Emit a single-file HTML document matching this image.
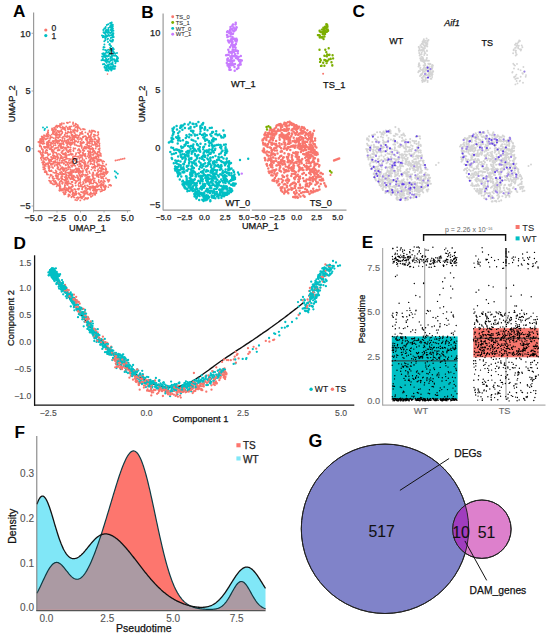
<!DOCTYPE html>
<html><head><meta charset="utf-8"><style>
html,body{margin:0;padding:0;background:#fff;}
svg{display:block;font-family:"Liberation Sans", sans-serif;}
</style></head><body>
<svg width="550" height="638" viewBox="0 0 550 638">
<rect width="550" height="638" fill="#fff"/>
<text x="12.9" y="16.7" font-size="17.2" text-anchor="start" fill="#000" font-weight="bold">A</text>
<line x1="33.6" y1="12.5" x2="33.6" y2="211" stroke="#9a9a9a" stroke-width="1.2"/>
<line x1="33" y1="210.6" x2="130.5" y2="210.6" stroke="#9a9a9a" stroke-width="1.2"/>
<text x="30.5" y="36.5" font-size="9.2" text-anchor="end" fill="#222" stroke="#222" stroke-width="0.25">10</text>
<line x1="31.5" y1="33.3" x2="33.6" y2="33.3" stroke="#9a9a9a" stroke-width="0.8"/>
<text x="30.5" y="94.2" font-size="9.2" text-anchor="end" fill="#222" stroke="#222" stroke-width="0.25">5</text>
<line x1="31.5" y1="91.0" x2="33.6" y2="91.0" stroke="#9a9a9a" stroke-width="0.8"/>
<text x="30.5" y="151.89999999999998" font-size="9.2" text-anchor="end" fill="#222" stroke="#222" stroke-width="0.25">0</text>
<line x1="31.5" y1="148.7" x2="33.6" y2="148.7" stroke="#9a9a9a" stroke-width="0.8"/>
<text x="30.5" y="209.2" font-size="9.2" text-anchor="end" fill="#222" stroke="#222" stroke-width="0.25">−5</text>
<line x1="31.5" y1="206.0" x2="33.6" y2="206.0" stroke="#9a9a9a" stroke-width="0.8"/>
<text x="33.5" y="220.9" font-size="9.2" text-anchor="middle" fill="#222" stroke="#222" stroke-width="0.25">−5.0</text>
<line x1="33.5" y1="210.6" x2="33.5" y2="212.5" stroke="#9a9a9a" stroke-width="0.8"/>
<text x="57" y="220.9" font-size="9.2" text-anchor="middle" fill="#222" stroke="#222" stroke-width="0.25">−2.5</text>
<line x1="57" y1="210.6" x2="57" y2="212.5" stroke="#9a9a9a" stroke-width="0.8"/>
<text x="80.5" y="220.9" font-size="9.2" text-anchor="middle" fill="#222" stroke="#222" stroke-width="0.25">0.0</text>
<line x1="80.5" y1="210.6" x2="80.5" y2="212.5" stroke="#9a9a9a" stroke-width="0.8"/>
<text x="104" y="220.9" font-size="9.2" text-anchor="middle" fill="#222" stroke="#222" stroke-width="0.25">2.5</text>
<line x1="104" y1="210.6" x2="104" y2="212.5" stroke="#9a9a9a" stroke-width="0.8"/>
<text x="127.5" y="220.9" font-size="9.2" text-anchor="middle" fill="#222" stroke="#222" stroke-width="0.25">5.0</text>
<line x1="127.5" y1="210.6" x2="127.5" y2="212.5" stroke="#9a9a9a" stroke-width="0.8"/>
<text x="87.4" y="231.0" font-size="9.2" text-anchor="middle" fill="#111" stroke="#111" stroke-width="0.25">UMAP_1</text>
<text x="15.4" y="103.8" font-size="9.2" text-anchor="middle" fill="#111" transform="rotate(-90 15.4 103.8)" stroke="#111" stroke-width="0.25">UMAP_2</text>
<path d="M84.2 193.5h0M95.3 139.4h0M96.9 159.0h0M60.5 143.7h0M57.0 157.1h0M75.3 165.9h0M54.0 134.2h0M72.5 195.1h0M84.5 162.7h0M74.8 141.2h0M89.1 137.4h0M75.7 189.5h0M85.3 181.0h0M44.9 164.9h0M75.6 191.4h0M64.8 169.5h0M42.6 152.5h0M62.0 133.4h0M98.3 151.8h0M82.7 172.7h0M88.0 133.4h0M70.6 140.6h0M67.8 129.1h0M87.6 145.5h0M102.5 174.6h0M80.1 133.0h0M78.9 135.8h0M103.3 172.9h0M80.1 151.6h0M68.4 140.6h0M72.6 165.4h0M61.9 181.8h0M40.1 151.3h0M69.7 163.5h0M81.6 176.3h0M64.4 163.1h0M94.5 194.5h0M97.9 132.3h0M69.0 186.9h0M96.6 162.6h0M91.6 139.5h0M52.8 150.5h0M51.4 149.2h0M63.2 143.2h0M76.6 193.5h0M92.9 168.0h0M69.6 192.0h0M68.5 195.6h0M43.3 155.9h0M76.4 197.9h0M56.7 186.2h0M88.0 179.0h0M84.5 199.5h0M62.7 153.4h0M82.6 159.9h0M82.0 174.4h0M72.5 171.9h0M85.0 136.1h0M42.8 154.4h0M94.4 186.9h0M91.9 130.4h0M105.4 185.9h0M102.8 163.4h0M56.8 141.3h0M52.0 166.9h0M50.4 175.9h0M39.8 146.3h0M97.9 174.3h0M83.2 136.7h0M63.1 146.9h0M46.5 171.7h0M96.9 146.6h0M101.7 185.5h0M80.4 172.7h0M83.0 129.0h0M86.9 172.2h0M98.8 186.0h0M62.3 179.4h0M86.1 138.6h0M79.7 197.4h0M66.1 141.6h0M71.8 174.2h0M45.6 151.9h0M48.0 174.6h0M99.3 151.6h0M65.6 164.7h0M54.0 141.2h0M62.5 158.1h0M80.8 145.4h0M47.8 132.0h0M60.8 188.3h0M83.8 136.4h0M70.2 192.5h0M65.8 178.5h0M95.3 187.8h0M87.8 151.1h0M42.9 163.1h0M93.9 136.7h0M57.8 164.5h0M93.3 193.5h0M47.5 136.1h0M97.0 173.2h0M95.4 153.1h0M85.4 136.1h0M94.1 182.3h0M91.3 157.1h0M66.0 155.1h0M78.1 152.5h0M78.5 179.4h0M66.3 188.2h0M90.7 187.7h0M46.8 135.5h0M80.5 157.2h0M93.4 136.6h0M73.0 123.9h0M61.3 146.4h0M91.2 157.9h0M56.3 153.0h0M54.9 131.4h0M47.3 135.5h0M101.5 160.3h0M51.7 175.2h0M57.8 163.7h0M59.0 162.9h0M84.5 164.5h0M67.3 185.0h0M48.2 130.4h0M53.5 162.1h0M74.8 195.0h0M41.2 146.7h0M55.6 158.7h0M103.0 182.6h0M99.2 182.6h0M90.3 189.7h0M88.4 180.5h0M60.4 134.8h0M93.9 134.6h0M105.9 169.3h0M49.6 162.7h0M80.5 186.0h0M58.9 185.8h0M89.9 173.1h0M68.8 177.0h0M99.7 148.3h0M87.5 138.1h0M78.8 183.2h0M72.7 154.2h0M91.2 163.4h0M79.6 166.2h0M71.5 172.1h0M78.7 127.3h0M81.9 139.2h0M52.8 157.9h0M93.4 178.2h0M78.9 186.3h0M72.5 171.2h0M98.5 175.9h0M85.4 154.0h0M79.3 153.2h0M93.0 151.9h0M72.5 182.1h0M75.3 148.5h0M99.1 152.0h0M100.4 184.5h0M71.1 178.7h0M40.7 152.7h0M101.5 168.0h0M79.3 174.8h0M88.1 168.3h0M69.2 136.1h0M59.7 144.9h0M64.1 157.3h0M65.6 168.1h0M66.0 142.8h0M103.3 161.1h0M74.6 137.2h0M69.1 188.0h0M99.1 159.4h0M94.7 158.2h0M65.7 165.2h0M53.0 146.8h0M90.2 183.3h0M98.4 157.1h0M56.3 173.1h0M65.9 172.6h0M57.2 159.7h0M76.8 172.1h0M59.5 145.9h0M57.1 126.7h0M69.3 183.4h0M90.4 137.0h0M48.3 147.2h0M94.7 160.6h0M106.1 174.1h0M83.9 183.1h0M93.4 149.0h0M57.1 156.5h0M74.2 132.7h0M70.7 172.8h0M48.2 132.4h0M51.0 144.1h0M51.7 134.6h0M73.1 122.5h0M71.9 134.4h0M58.0 185.1h0M51.7 171.0h0M68.1 154.9h0M98.3 134.3h0M87.0 169.6h0M95.0 138.5h0M46.6 146.7h0M83.2 174.9h0M88.1 167.2h0M62.9 162.6h0M89.3 155.2h0M100.9 182.1h0M63.0 127.5h0M47.9 136.1h0M60.6 157.3h0M104.3 176.1h0M56.3 132.8h0M97.0 176.5h0M53.8 142.8h0M89.9 131.7h0M76.2 124.1h0M78.7 189.5h0M44.4 143.4h0M94.5 170.3h0M61.2 171.9h0M71.7 190.7h0M59.8 182.3h0M85.0 180.9h0M66.0 179.7h0M89.6 152.5h0M90.7 137.8h0M92.0 143.7h0M72.7 190.5h0M71.2 144.5h0M60.7 127.5h0M54.4 143.1h0M72.5 138.6h0M92.6 195.6h0M58.3 167.4h0M75.5 127.3h0M73.1 186.1h0M101.9 191.1h0M65.4 182.5h0M43.6 142.6h0M98.0 159.1h0M61.7 124.7h0M67.1 133.6h0M44.2 167.0h0M85.8 147.4h0M80.2 181.9h0M81.6 185.9h0M78.7 137.3h0M81.1 160.8h0M50.4 171.1h0M98.3 132.2h0M78.3 180.4h0M67.9 143.0h0M65.6 164.9h0M88.7 166.3h0M56.6 135.3h0M41.5 148.1h0M52.4 159.1h0M50.8 160.5h0M76.8 181.3h0M70.4 132.7h0M93.5 130.7h0M97.7 146.3h0M71.7 174.6h0M75.6 134.6h0M48.4 144.2h0M42.1 138.7h0M47.8 158.7h0M64.4 168.5h0M62.6 182.1h0M57.0 153.9h0M93.8 154.0h0M61.1 180.5h0M56.8 132.5h0M70.4 169.8h0M90.6 159.6h0M89.4 131.7h0M45.0 148.0h0M105.8 170.5h0M43.1 167.1h0M72.0 166.7h0M92.5 175.9h0M98.0 154.4h0M95.9 193.1h0M71.5 197.2h0M65.8 182.2h0M72.9 157.4h0M66.6 156.1h0M93.7 166.7h0M87.7 185.9h0M55.1 140.1h0M58.7 145.8h0M94.2 151.4h0M62.0 172.5h0M51.9 129.9h0M89.5 182.2h0M60.0 172.5h0M40.7 153.8h0M80.7 141.7h0M63.8 170.4h0M81.6 133.7h0M56.9 137.4h0M76.6 169.7h0M89.9 148.3h0M43.8 137.6h0M62.7 127.0h0M70.2 137.8h0M104.3 172.5h0M45.1 146.9h0M40.3 138.9h0M84.8 129.4h0M62.9 148.1h0M88.0 165.3h0M83.7 129.4h0M57.4 168.3h0M108.3 187.1h0M85.4 163.1h0M89.2 186.7h0M96.1 157.7h0M67.8 146.4h0M70.8 137.4h0M90.6 161.8h0M61.5 143.9h0M42.2 162.5h0M75.3 156.3h0M47.4 133.5h0M68.2 188.4h0M84.1 180.1h0M80.6 138.2h0M89.6 136.9h0M77.9 125.9h0M69.8 174.5h0M42.4 141.6h0M66.3 161.8h0M60.0 174.2h0M72.5 190.5h0M59.5 186.0h0M59.3 179.3h0M62.8 169.8h0M97.6 164.9h0M66.1 149.5h0M43.3 142.1h0M84.1 129.2h0M87.5 198.8h0M97.6 135.6h0M84.0 163.3h0M53.0 163.1h0M59.6 131.4h0M39.2 142.5h0M48.1 136.5h0M81.1 155.3h0M69.8 137.9h0M87.1 144.6h0M67.6 158.6h0M91.1 146.2h0M75.4 191.9h0M40.3 145.5h0M50.1 138.5h0M44.6 159.3h0M81.8 146.9h0M97.4 166.5h0M48.3 164.9h0M84.5 155.8h0M75.8 130.5h0M79.7 183.0h0M92.0 142.0h0M69.4 154.7h0M95.6 135.4h0M85.3 179.2h0M76.2 191.6h0M72.7 158.7h0M61.5 177.3h0M68.3 196.6h0M43.6 161.3h0M51.8 150.9h0M60.6 169.8h0M62.4 167.2h0M38.6 151.3h0M102.2 173.8h0M59.8 183.9h0M93.4 157.5h0M49.1 162.6h0M60.1 165.5h0M92.9 190.3h0M102.5 168.2h0M103.6 184.7h0M90.9 137.2h0M57.8 147.4h0M81.7 171.8h0M52.4 150.4h0M98.4 165.6h0M75.9 182.5h0M86.4 144.6h0M44.6 158.5h0M103.0 169.5h0M42.1 156.7h0M66.5 168.2h0M81.4 197.9h0M63.1 154.2h0M83.4 192.7h0M90.2 159.2h0M98.2 160.4h0M60.1 189.5h0M83.1 162.3h0M73.5 131.4h0M74.9 141.2h0M68.2 172.8h0M105.6 185.8h0M50.1 159.7h0M44.6 162.4h0M57.5 166.1h0M44.4 137.9h0M89.9 195.1h0M101.7 189.1h0M64.6 129.3h0M91.7 132.3h0M79.4 163.3h0M65.0 147.6h0M103.7 169.4h0M87.6 180.3h0M75.0 125.3h0M75.3 180.6h0M86.6 170.9h0M41.6 140.4h0M77.4 125.3h0M68.4 165.3h0M91.1 196.8h0M92.4 149.3h0M95.2 135.5h0M72.1 163.4h0M88.8 152.9h0M90.8 158.9h0M68.6 150.7h0M74.5 143.9h0M56.0 133.3h0M70.6 144.9h0M99.8 189.6h0M63.5 171.1h0M79.0 157.0h0M86.1 198.6h0M87.2 185.4h0M84.9 191.4h0M62.2 178.3h0M57.6 162.2h0M88.4 137.5h0M97.7 174.9h0M61.9 174.3h0M80.6 171.0h0M71.1 139.4h0M91.6 158.7h0M93.1 150.6h0M44.7 165.0h0M84.0 195.5h0M95.0 142.3h0M89.5 151.8h0M61.9 160.6h0M77.2 177.2h0M85.1 175.9h0M66.5 175.8h0M63.6 170.2h0M72.0 166.6h0M54.4 152.4h0M45.9 171.2h0M47.2 150.4h0M74.6 130.8h0M61.7 143.5h0M64.9 185.0h0M48.5 168.0h0M70.0 144.5h0M98.7 181.4h0M48.1 144.8h0M83.2 191.5h0M85.7 139.1h0M65.5 171.5h0M67.3 123.1h0M89.5 157.0h0M96.9 140.1h0M86.7 175.5h0M72.4 136.5h0M67.9 181.3h0M52.1 128.5h0M72.3 140.2h0M97.1 187.1h0M85.9 136.4h0M98.8 179.9h0M93.2 177.4h0M99.3 145.3h0M87.7 162.9h0M63.1 147.6h0M49.6 160.9h0M65.3 155.2h0M100.9 176.2h0M54.2 162.2h0M45.0 152.9h0M94.0 191.0h0M75.7 185.5h0M70.7 149.7h0M75.4 137.0h0M60.8 145.9h0M101.0 173.4h0M69.7 137.2h0M63.9 154.1h0M106.2 164.5h0M49.0 165.9h0M52.2 129.5h0M86.2 158.4h0M57.1 184.1h0M74.2 164.4h0M71.8 175.7h0M111.1 185.5h0M43.3 161.1h0M55.4 129.5h0M52.6 141.3h0M108.8 181.3h0M101.0 177.6h0M61.4 152.8h0M70.6 144.9h0M69.2 183.4h0M43.8 143.6h0M73.5 175.7h0M85.7 179.7h0M45.9 135.9h0M60.9 144.0h0M60.1 185.9h0M106.2 169.2h0M63.9 149.9h0M84.8 190.9h0M63.3 136.7h0M100.8 171.6h0M65.1 185.4h0M67.7 172.6h0M88.8 157.7h0M72.5 179.0h0M77.6 127.8h0M55.6 126.4h0M52.2 137.4h0M68.7 147.2h0M64.9 187.1h0M97.7 164.3h0M70.5 142.8h0M78.1 139.1h0M101.4 187.6h0M61.9 123.3h0M86.5 190.4h0M97.0 190.7h0M74.2 189.1h0M72.1 142.5h0M73.6 148.3h0M94.7 188.3h0M48.6 134.5h0M66.4 158.6h0M109.4 180.0h0M88.0 143.1h0M99.5 143.5h0M44.0 146.7h0M62.0 179.6h0M104.2 190.1h0M84.5 166.3h0M94.2 162.6h0M50.1 138.7h0M66.1 148.0h0M42.7 154.0h0M71.2 144.4h0M66.5 148.1h0M65.9 171.1h0M74.8 137.2h0M96.7 162.6h0M71.9 178.7h0M93.6 189.6h0M97.9 175.2h0M91.3 133.9h0M89.7 141.8h0M57.2 131.0h0M67.4 122.9h0M86.6 181.5h0M95.3 131.7h0M85.4 188.8h0M57.9 158.5h0M50.9 164.7h0M63.5 174.0h0M77.3 176.5h0M56.3 178.2h0M92.3 179.4h0M80.7 143.2h0M70.2 163.0h0M76.3 141.3h0M57.7 150.6h0M95.7 156.5h0M41.0 157.7h0M77.8 150.1h0M69.0 151.4h0M50.5 174.6h0M95.8 182.5h0M55.1 162.7h0M89.9 152.4h0M71.3 189.0h0M39.9 142.9h0M68.9 173.6h0M52.7 178.0h0M53.0 180.2h0M45.0 168.5h0M74.9 159.9h0M95.7 158.6h0M74.8 160.5h0M71.7 154.0h0M50.0 145.1h0M57.7 141.3h0M53.3 163.7h0M61.2 140.6h0M65.7 161.7h0M101.0 155.9h0M71.4 154.8h0M43.3 137.8h0M86.9 168.8h0M68.3 169.3h0M45.8 153.0h0M104.7 187.9h0M71.5 126.4h0M62.2 137.7h0M88.8 151.1h0M100.1 185.4h0M62.2 189.5h0M106.6 171.2h0M64.1 193.8h0M87.1 140.0h0M79.9 146.1h0M54.3 158.2h0M59.9 187.4h0M81.8 166.0h0M89.3 146.0h0M66.5 140.7h0M59.7 135.4h0M64.7 177.1h0M74.3 143.9h0M63.3 167.9h0M92.2 186.2h0M58.7 163.3h0M54.0 128.0h0M70.5 179.2h0M59.7 188.3h0M104.0 180.6h0M62.7 158.6h0M99.6 150.1h0M97.5 184.3h0M72.7 193.5h0M66.5 181.7h0M85.3 148.0h0M77.3 170.1h0M77.7 130.2h0M77.3 131.4h0M98.6 156.2h0M90.7 187.9h0M77.8 125.3h0M98.7 177.2h0M96.0 191.6h0M64.3 154.3h0M55.2 148.0h0M69.6 167.0h0M59.1 150.3h0M93.6 159.1h0M82.1 155.3h0M79.2 193.5h0M57.9 163.1h0M56.3 182.5h0M98.2 172.1h0M77.0 181.1h0M105.7 172.9h0M82.5 152.6h0M80.3 166.0h0M104.8 187.9h0M92.5 195.7h0M72.3 181.8h0M60.0 158.9h0M59.6 160.6h0M98.8 141.0h0M60.5 165.9h0M86.3 192.1h0M93.1 172.4h0M66.6 183.8h0M50.4 182.8h0M60.7 168.4h0M74.8 133.0h0M93.7 181.0h0M48.9 142.2h0M102.2 161.7h0M65.2 157.1h0M51.2 161.2h0M55.2 134.3h0M66.2 126.4h0M72.8 177.3h0M103.4 172.3h0M97.0 144.2h0M77.0 200.2h0M82.3 162.1h0M96.1 146.4h0M55.7 135.6h0M40.0 145.3h0M80.5 177.9h0M95.2 152.2h0M55.2 161.0h0M107.5 180.0h0M79.7 163.3h0M89.2 171.7h0M63.0 128.8h0M53.0 184.3h0M84.9 185.5h0M82.0 165.4h0M98.4 171.6h0M87.8 134.0h0M82.7 150.0h0M73.5 142.4h0M94.5 131.2h0M61.2 162.3h0M53.7 138.1h0M67.8 184.9h0M64.7 140.1h0M51.7 147.3h0M96.0 175.0h0M92.3 175.5h0M61.3 190.6h0M53.7 155.7h0M46.7 173.3h0M44.6 135.7h0M94.6 161.6h0M86.9 180.4h0M82.8 137.2h0M89.6 130.6h0M58.1 157.4h0M86.2 181.0h0M65.5 152.7h0M53.5 163.3h0M80.9 196.5h0M91.6 187.7h0M86.1 144.6h0M84.0 191.9h0M46.1 159.9h0M93.1 177.0h0M47.5 163.6h0M88.9 148.3h0M75.3 199.9h0M85.0 161.7h0M100.8 181.1h0M99.7 167.8h0M80.6 164.0h0M92.3 147.9h0M74.8 159.1h0M86.9 138.7h0M91.0 181.7h0M70.9 129.6h0M72.4 190.8h0M75.7 172.2h0M65.7 133.4h0M84.3 160.3h0M63.6 142.1h0M89.4 146.9h0M80.6 142.2h0M93.7 151.5h0M73.4 196.0h0M91.1 180.6h0M63.2 188.9h0M104.1 174.4h0M99.4 165.1h0M92.2 131.3h0M111.0 185.7h0M48.7 140.8h0M80.5 182.7h0M93.6 160.4h0M64.9 129.1h0M44.7 172.0h0M95.1 194.4h0M101.6 177.9h0M89.9 189.0h0M77.7 162.1h0M65.2 191.0h0M95.0 143.5h0M51.7 137.2h0M80.4 143.8h0M56.0 129.2h0M62.1 183.6h0M50.7 182.8h0M71.4 135.0h0M73.6 195.6h0M54.8 165.1h0M89.4 160.1h0M64.1 141.2h0M60.0 125.3h0M96.3 153.9h0M82.0 139.1h0M87.4 178.3h0M92.3 160.9h0M80.3 176.2h0M85.7 193.3h0M46.0 164.0h0M46.3 136.6h0M66.4 136.7h0M63.0 190.2h0M88.8 177.9h0M87.1 181.3h0M93.3 178.8h0M95.1 170.5h0M77.5 128.6h0M93.3 148.7h0M74.6 129.3h0M95.6 166.4h0M88.4 148.4h0M92.3 144.8h0M69.4 172.5h0M41.6 139.3h0M54.5 161.4h0M62.4 140.3h0M86.1 178.0h0M98.6 142.5h0M44.0 158.9h0M105.9 171.7h0M68.7 132.3h0M94.2 164.2h0M99.0 164.1h0M60.3 173.8h0M49.3 171.0h0M90.9 148.9h0M89.5 184.1h0M99.7 170.9h0M100.5 174.3h0M41.4 142.8h0M66.8 141.6h0M94.2 139.3h0M94.3 157.4h0M48.2 143.0h0M110.4 185.0h0M65.9 179.3h0M59.9 131.8h0M39.6 145.1h0M88.5 181.5h0M52.5 149.8h0M70.8 183.8h0M60.0 174.0h0M66.9 158.7h0M72.2 143.7h0M89.4 189.0h0M49.5 140.4h0M82.1 196.7h0M72.9 137.5h0M82.0 198.4h0M68.4 142.4h0M102.3 184.7h0M59.3 140.6h0M65.2 191.7h0M66.3 157.4h0M79.9 139.1h0M57.9 142.8h0M57.3 162.8h0M51.1 157.0h0M85.4 132.4h0M68.3 166.6h0M78.7 193.1h0M99.5 165.6h0M88.1 134.2h0M72.9 177.6h0M96.9 186.2h0M80.0 175.1h0M100.9 153.9h0M97.7 151.9h0M77.1 135.2h0M94.1 193.0h0M50.0 181.3h0M95.7 148.5h0M76.0 137.0h0M82.9 153.3h0M97.6 174.9h0M91.3 141.5h0M107.1 173.1h0M106.0 178.2h0M82.8 155.0h0M64.4 160.7h0M54.6 155.7h0M75.6 123.8h0M67.2 144.2h0M84.9 186.6h0M83.4 174.7h0M83.4 141.9h0M65.9 189.3h0M101.5 170.2h0M98.3 169.1h0M70.9 175.3h0M54.1 178.8h0M57.5 178.5h0M97.4 155.4h0M107.6 171.9h0M84.5 155.9h0M90.1 140.9h0M87.3 177.2h0M77.9 142.2h0M43.7 141.2h0M76.4 168.5h0M102.8 190.1h0M71.3 132.7h0M84.0 142.6h0M98.3 137.5h0M69.2 139.0h0M101.5 171.2h0M84.6 146.6h0M94.5 180.4h0M51.3 170.4h0M59.3 162.6h0M72.0 166.7h0M106.0 186.5h0M68.8 187.1h0M101.5 183.6h0M78.8 193.7h0M74.4 129.8h0M58.2 174.2h0M66.1 155.3h0M67.8 136.8h0M87.7 147.4h0M71.8 196.6h0M84.3 186.6h0M43.1 152.2h0M68.5 162.2h0M56.4 140.1h0M76.4 158.9h0M82.8 184.2h0M73.5 170.7h0M74.4 139.2h0M61.9 156.7h0M71.1 165.4h0M73.1 123.9h0M73.3 178.2h0M62.7 151.1h0M76.2 194.5h0M62.4 128.2h0M61.3 130.9h0M82.1 189.3h0M82.3 133.5h0M68.1 142.8h0M72.0 132.1h0M98.3 141.7h0M52.2 163.6h0M81.1 192.0h0M63.4 168.4h0M47.3 163.1h0M47.2 145.6h0M61.0 178.1h0M86.5 175.5h0M90.5 179.3h0M87.0 165.8h0M53.8 181.0h0M52.4 164.0h0M57.4 156.0h0M99.6 174.5h0M71.0 143.3h0M97.4 174.2h0M70.6 191.3h0M87.1 193.7h0M78.7 178.5h0M73.1 170.1h0M90.9 196.7h0M65.6 159.1h0M99.6 155.2h0M63.1 143.6h0M53.9 156.0h0M88.3 145.8h0M52.8 141.1h0M101.9 167.0h0M55.5 138.1h0M86.4 172.0h0M61.6 148.2h0M72.3 194.6h0M77.8 188.9h0M85.4 166.6h0M74.2 176.1h0M74.4 179.7h0M51.6 147.2h0M80.8 129.5h0M93.9 174.9h0M59.6 190.8h0M73.7 125.9h0M43.2 139.7h0M83.1 186.9h0M84.0 154.3h0M70.7 187.4h0M49.3 168.6h0M76.1 153.2h0M68.1 142.9h0M58.1 140.5h0M45.8 165.9h0M71.0 178.7h0M85.3 198.0h0M63.2 192.3h0M66.5 174.5h0M97.4 153.2h0M71.0 172.1h0M46.4 164.1h0M45.2 139.4h0M84.1 199.6h0M49.0 163.0h0M70.7 151.8h0M94.8 178.4h0M79.6 171.3h0M81.0 175.8h0M45.9 157.7h0M95.7 145.0h0M53.2 153.5h0M43.4 155.5h0M61.7 151.9h0M97.2 166.4h0M41.9 138.8h0M83.2 137.3h0M56.5 171.4h0M74.6 143.0h0M79.4 172.3h0M41.1 143.3h0M42.0 149.2h0M52.5 177.3h0M101.7 177.3h0M59.8 184.8h0M43.7 158.0h0M75.4 193.5h0M99.8 165.3h0M42.0 155.9h0M88.3 153.9h0M65.1 183.1h0M87.6 156.3h0M90.5 153.3h0M48.7 154.9h0M70.5 187.7h0M53.2 161.6h0M104.6 175.6h0M81.6 168.1h0M82.5 158.7h0M64.7 140.5h0M43.0 151.0h0M94.9 165.8h0M86.2 166.1h0M68.6 187.7h0M76.5 145.2h0M67.8 164.5h0M92.6 164.2h0M88.8 180.7h0M53.0 151.4h0M65.0 193.4h0M76.8 126.7h0M90.8 161.4h0M47.1 163.9h0M51.7 175.1h0M86.3 147.1h0M41.1 141.8h0M62.2 168.3h0M65.4 130.3h0M80.2 179.6h0M90.1 160.7h0M77.4 171.9h0M91.1 193.7h0M88.2 198.0h0M82.0 168.2h0M43.4 169.3h0M55.9 152.6h0M85.1 179.7h0M50.9 145.8h0M66.9 162.7h0M70.8 159.2h0M69.4 177.8h0M58.5 134.7h0M70.2 128.4h0M71.1 161.1h0M67.4 184.1h0M63.1 188.6h0M66.6 183.0h0M77.0 175.5h0M78.4 189.4h0M69.9 122.1h0M58.3 169.2h0M67.7 139.6h0M78.9 149.0h0M96.9 141.7h0M73.5 172.0h0M61.4 130.0h0M74.3 156.5h0M104.7 166.3h0M64.1 179.8h0M55.4 182.3h0M93.5 188.0h0M73.9 139.2h0M84.7 194.6h0M66.4 177.0h0M90.2 156.2h0M92.1 158.4h0M78.1 146.0h0M57.8 143.5h0M45.7 172.0h0M77.8 125.9h0M63.9 170.5h0M97.0 161.9h0M75.6 135.0h0M80.2 180.1h0M40.9 154.1h0M85.5 156.6h0M65.3 192.4h0M83.0 171.3h0M69.4 175.4h0M56.1 142.0h0M66.6 181.2h0M62.5 150.8h0M58.5 147.9h0M54.2 181.9h0M99.0 139.4h0M53.4 140.9h0M48.3 155.2h0M75.2 171.9h0M42.3 136.8h0M46.8 143.0h0M65.7 132.5h0M96.7 173.5h0M66.0 153.8h0M60.4 186.2h0M97.3 160.7h0M101.6 173.8h0M88.7 142.9h0M56.0 139.6h0M105.4 185.7h0M104.4 187.5h0M97.4 156.4h0M94.5 134.7h0M79.9 155.1h0M83.7 192.7h0M91.4 138.3h0M79.0 166.5h0M64.7 135.6h0M55.7 175.7h0M85.8 182.6h0M87.7 174.2h0M50.1 135.8h0M75.7 168.5h0M93.8 144.9h0M107.8 171.9h0M100.3 159.7h0M85.3 155.6h0M70.6 147.5h0M51.3 159.4h0M95.1 168.0h0M72.5 186.7h0M60.4 155.3h0M73.5 159.0h0M63.7 144.5h0M86.3 137.3h0M67.7 179.1h0M92.2 152.5h0M56.4 164.8h0M60.0 187.4h0M81.7 146.0h0M97.6 170.2h0M47.9 154.6h0M74.2 197.4h0M61.8 157.4h0M67.2 136.1h0M103.3 165.8h0M54.3 128.7h0M69.2 129.1h0M73.9 180.0h0M61.0 134.8h0M64.8 134.7h0M92.7 148.2h0M91.8 183.4h0M85.7 147.3h0M51.0 181.2h0M98.6 137.9h0M46.5 149.7h0M84.3 150.7h0M109.2 185.0h0M105.6 169.6h0M55.3 181.0h0M62.7 173.7h0M88.2 194.5h0M88.9 136.0h0M104.9 181.4h0M76.2 172.0h0M91.9 167.1h0M64.9 189.8h0M65.4 194.0h0M97.0 185.1h0M66.0 180.3h0M72.4 184.7h0M76.3 162.6h0M76.7 161.9h0M77.9 178.2h0M87.6 192.1h0M53.0 131.3h0M97.8 142.4h0M85.7 164.4h0M93.2 186.3h0M94.8 152.2h0M69.1 160.6h0M89.6 176.7h0M89.2 171.5h0M75.6 183.0h0M67.3 142.4h0M105.1 189.4h0M91.0 134.8h0M67.2 178.0h0M64.8 186.3h0M88.8 151.6h0M51.0 149.4h0M73.7 193.4h0M79.2 170.4h0M64.2 188.2h0M79.2 169.0h0M56.6 183.8h0M54.0 132.3h0M82.2 188.3h0M59.8 145.6h0M49.2 169.9h0M94.9 131.4h0M77.6 164.7h0M46.1 164.0h0M58.2 137.3h0M63.5 171.1h0M68.0 122.7h0M68.5 194.4h0M68.5 181.2h0M86.6 140.5h0M54.0 132.3h0M62.4 138.3h0M108.3 181.7h0M57.6 162.3h0M50.1 154.1h0M81.9 143.2h0M47.4 147.7h0M40.1 152.2h0M67.8 164.2h0M62.0 141.4h0M96.0 143.8h0M62.6 160.8h0M58.4 179.8h0M44.4 147.3h0M69.2 142.1h0M69.2 159.0h0M99.3 138.9h0M57.8 134.9h0M96.3 146.5h0M54.9 127.6h0M83.4 196.7h0M103.1 168.7h0M86.8 198.3h0M88.9 177.4h0M89.8 131.4h0M56.8 126.6h0M82.7 133.9h0M47.4 157.2h0M67.0 137.1h0M61.0 145.5h0M78.1 170.0h0M68.4 191.0h0M67.0 145.7h0M94.6 189.1h0M52.7 158.5h0M84.1 147.6h0M79.4 175.6h0M97.8 186.8h0M66.6 143.1h0M59.0 132.4h0M97.3 189.6h0M80.1 152.2h0M80.8 184.7h0M103.1 182.2h0M74.0 135.7h0M89.5 188.2h0M46.6 172.5h0M83.4 142.7h0M60.3 155.0h0M47.8 147.9h0M48.0 142.0h0M80.8 145.4h0M87.3 193.8h0M63.7 163.7h0M83.7 148.8h0M70.6 171.8h0M71.8 144.1h0M68.4 152.3h0M59.7 169.7h0M75.9 154.4h0M90.4 186.7h0M86.0 148.8h0M97.5 155.2h0M67.4 189.2h0M75.2 183.1h0M44.3 165.0h0M46.8 144.6h0M63.5 144.3h0M70.0 188.4h0M76.3 168.7h0M85.3 174.6h0M70.7 131.5h0M60.0 137.1h0M61.2 158.0h0M61.1 148.3h0M74.0 176.3h0M69.9 195.6h0M68.5 189.4h0M64.8 148.0h0M71.5 182.0h0M73.3 150.7h0M89.6 143.6h0M90.6 154.8h0M73.4 136.5h0M80.6 155.3h0M95.2 194.7h0M57.6 141.6h0M74.6 169.9h0M70.4 178.8h0M55.7 170.4h0M68.4 146.7h0M75.3 177.4h0M98.5 149.2h0M103.3 178.5h0M56.4 176.2h0M89.3 194.4h0M52.6 167.6h0M69.4 127.9h0M53.1 167.9h0M67.8 182.8h0M72.6 192.0h0M94.0 161.1h0M64.5 138.5h0M59.7 149.9h0M64.8 135.7h0M73.0 130.3h0M102.1 165.6h0M45.2 147.7h0M57.0 133.9h0M73.6 136.1h0M49.4 177.8h0M69.8 175.4h0M72.8 161.9h0M61.1 155.6h0M73.6 148.9h0M99.0 141.1h0M54.4 149.0h0M96.0 189.5h0M79.8 150.3h0M86.0 187.8h0M56.1 175.0h0M90.4 152.7h0M48.9 170.2h0M53.7 150.9h0M78.3 198.8h0M77.9 197.2h0M47.0 174.4h0M64.8 174.0h0M57.2 127.3h0M51.6 143.4h0M50.3 137.3h0M78.3 156.5h0M98.9 161.4h0M77.9 178.5h0M101.0 168.4h0M40.9 158.3h0M43.0 164.7h0M90.0 143.5h0M81.8 147.9h0M57.3 142.2h0M43.5 137.2h0M77.2 158.9h0M81.1 186.4h0M84.1 162.6h0M61.2 162.9h0M73.3 192.8h0M48.3 166.5h0M79.0 149.8h0M63.5 153.8h0M57.7 150.1h0M50.2 148.3h0M83.4 129.4h0M55.4 129.9h0M86.4 178.2h0M104.1 161.6h0M61.2 146.9h0M53.3 172.4h0M66.7 149.6h0M44.1 169.2h0M91.7 193.8h0M93.3 173.3h0M52.5 143.6h0M77.3 138.5h0M94.5 167.4h0M107.8 179.8h0M45.6 151.3h0M80.6 194.7h0M65.5 136.4h0M59.1 141.3h0M49.6 149.0h0M56.5 162.4h0M49.9 167.1h0M87.8 133.6h0M77.3 137.4h0M65.0 147.4h0M98.2 140.1h0M78.0 168.4h0M62.6 147.6h0M89.2 160.6h0M91.5 133.6h0M49.1 180.6h0M66.8 190.3h0M55.4 140.6h0M46.3 139.0h0M94.8 142.7h0M79.1 188.5h0M83.1 181.9h0M102.7 165.7h0M53.0 131.9h0M62.3 132.4h0M95.0 166.2h0M82.1 157.0h0M48.6 159.1h0M105.7 168.3h0M72.0 170.3h0M78.7 171.5h0M52.8 133.3h0M38.4 141.9h0M81.3 161.5h0M46.6 134.2h0M74.8 144.7h0M71.7 176.7h0M61.9 174.8h0M80.3 200.4h0M55.5 145.3h0M71.2 162.3h0M98.5 157.3h0M53.8 145.1h0M48.3 145.7h0M82.4 142.8h0M69.4 126.8h0M39.4 151.5h0M92.2 154.9h0M75.1 141.2h0M56.8 125.6h0M71.9 162.5h0M59.9 134.3h0M60.0 181.8h0M51.1 163.8h0M77.8 161.6h0M78.4 184.9h0M70.6 153.9h0M77.8 171.6h0M90.0 193.6h0M87.1 143.0h0M57.9 130.9h0M88.5 176.8h0M83.2 152.1h0M72.3 142.2h0M61.8 167.4h0M73.6 151.1h0M42.8 143.9h0M81.6 143.9h0M60.6 189.4h0M89.1 179.4h0M103.7 186.5h0M62.4 167.1h0M57.3 137.5h0M53.4 130.2h0M55.8 139.4h0M87.7 141.5h0M41.6 155.2h0M53.0 176.8h0M54.5 166.1h0M51.2 160.1h0M77.0 156.6h0M88.7 154.5h0M73.8 165.4h0M64.9 159.6h0M81.5 132.7h0M78.2 177.1h0M92.2 139.4h0M70.6 145.3h0M66.7 150.5h0M43.9 137.9h0M59.3 190.3h0M66.9 122.6h0M84.3 193.7h0M74.5 194.4h0M74.9 140.8h0M70.5 126.6h0M64.7 154.2h0M73.1 156.5h0M65.9 192.2h0M47.8 138.2h0M59.0 126.3h0M100.3 160.6h0M82.5 192.6h0M74.6 143.5h0M77.3 161.6h0M60.2 140.0h0M64.5 180.5h0M55.5 143.2h0M47.2 152.8h0M65.6 176.2h0M97.8 146.1h0M68.1 131.6h0M89.5 139.5h0M71.4 175.5h0M50.8 163.7h0M72.6 136.1h0M48.7 160.7h0M71.8 173.1h0M101.3 178.2h0M63.0 160.4h0M87.8 188.8h0M88.5 161.8h0M58.9 153.9h0M44.6 162.6h0M96.7 153.7h0M100.2 153.2h0M59.1 131.2h0M92.6 159.1h0M86.5 140.5h0M44.0 147.0h0M102.2 189.9h0M79.6 128.2h0M69.9 167.7h0M57.2 155.3h0M65.2 128.1h0M46.7 147.0h0M94.7 141.7h0M100.9 187.2h0M62.0 131.6h0M48.2 154.2h0M69.8 149.8h0M86.5 147.3h0M85.8 187.5h0M98.9 189.4h0M59.7 143.5h0M47.2 141.9h0M41.7 136.7h0M96.4 183.2h0M59.3 183.5h0M82.2 176.4h0M79.6 164.1h0M82.1 131.8h0M42.9 149.4h0M78.5 141.3h0M51.4 157.2h0M68.4 142.9h0M41.6 159.9h0M55.7 148.4h0M103.4 185.9h0M58.0 177.0h0M79.4 158.8h0M61.0 144.5h0M52.8 155.3h0M81.2 167.2h0M54.6 172.9h0M66.1 165.1h0M67.5 127.8h0M102.8 177.0h0M58.9 132.2h0M60.7 147.5h0M51.7 142.6h0M59.8 190.4h0M71.0 187.3h0M41.9 136.5h0M43.3 163.0h0M59.5 136.9h0M83.0 170.3h0M52.0 164.7h0M71.7 189.4h0M43.2 140.1h0M62.4 183.7h0M43.2 158.2h0M84.7 167.1h0M84.3 155.0h0M103.4 178.7h0M69.9 144.2h0M48.8 146.7h0M64.2 127.8h0M77.9 126.6h0M78.8 173.3h0M50.2 142.5h0M92.4 148.4h0M61.3 177.0h0M59.4 164.0h0M68.4 175.7h0M90.7 135.4h0M61.3 148.4h0M83.6 196.2h0M66.3 188.4h0M77.4 176.5h0M64.1 168.6h0M89.6 151.6h0M74.3 189.2h0M94.3 150.9h0M100.8 165.4h0M90.7 192.5h0M80.9 197.6h0M67.5 151.8h0M85.3 153.9h0M90.3 164.1h0M92.8 187.8h0M80.0 194.9h0M95.7 190.3h0M84.9 148.1h0M92.9 141.1h0M84.5 193.8h0M73.7 164.4h0M63.6 160.3h0M61.4 176.4h0M100.6 185.5h0M56.0 172.3h0M44.8 169.8h0M90.3 181.3h0M40.1 140.1h0M55.6 183.7h0M70.7 188.7h0M87.4 189.2h0M96.1 192.1h0M58.5 149.9h0M84.5 168.2h0M95.4 186.4h0M60.6 131.0h0M92.8 176.6h0M58.6 125.9h0M39.9 141.3h0M58.3 138.0h0M64.0 128.7h0M53.4 156.6h0M100.6 191.5h0M68.0 131.4h0M58.0 175.6h0M68.2 167.2h0M92.4 174.3h0M60.1 124.0h0M76.6 170.8h0M56.9 125.8h0M72.3 134.8h0M52.5 152.0h0M90.4 151.3h0M68.0 132.6h0M51.8 183.3h0M69.8 144.3h0M57.7 156.3h0M79.9 134.7h0M69.6 144.2h0M62.6 127.4h0M105.4 188.0h0M43.2 163.8h0M66.9 170.1h0M57.9 173.6h0M69.7 163.6h0M76.6 171.7h0M64.5 140.6h0M67.8 147.2h0M63.9 123.5h0M48.6 165.5h0M56.1 137.3h0M99.4 146.0h0M79.8 146.3h0M91.5 132.5h0M60.2 127.0h0M85.9 179.8h0M93.1 183.6h0M67.3 135.6h0M83.5 195.1h0M101.7 180.9h0M81.8 140.0h0M93.3 154.9h0M90.2 139.3h0M96.4 193.0h0M85.6 169.9h0M56.9 147.7h0M55.5 156.8h0M85.9 180.0h0M90.1 149.2h0M62.9 182.8h0M68.6 143.5h0M103.9 183.1h0M62.6 176.1h0M65.4 172.6h0M69.5 195.0h0M71.9 186.7h0M80.6 151.3h0M100.7 170.4h0M84.0 196.0h0M70.1 187.7h0M95.2 190.4h0M70.6 173.8h0M64.3 194.4h0M44.0 135.2h0M99.8 155.0h0M54.4 184.2h0M73.5 196.6h0M60.5 157.4h0M84.8 165.9h0M87.6 177.3h0M91.4 169.6h0M79.7 161.2h0" stroke="#F8766D" stroke-width="1.90" stroke-linecap="round" fill="none"/>
<path d="M111.2 41.4h0M115.4 63.2h0M112.5 32.9h0M112.1 60.0h0M108.6 30.4h0M107.4 60.6h0M116.2 61.6h0M113.8 49.3h0M112.5 58.9h0M107.0 32.2h0M113.2 51.9h0M108.4 28.1h0M111.5 69.6h0M103.3 30.0h0M113.0 37.0h0M114.2 60.6h0M105.6 30.2h0M107.4 36.3h0M107.4 39.4h0M106.3 67.7h0M112.5 63.7h0M105.4 70.1h0M112.2 40.6h0M105.7 27.0h0M108.2 24.3h0M112.3 29.7h0M111.9 24.5h0M104.5 47.3h0M113.9 66.0h0M109.5 32.8h0M111.0 49.9h0M106.5 30.5h0M107.7 69.3h0M104.2 33.0h0M105.1 50.1h0M106.5 35.8h0M110.3 22.9h0M108.4 70.8h0M109.7 53.2h0M107.9 33.0h0M113.1 51.2h0M107.3 52.5h0M108.0 52.5h0M110.0 27.0h0M105.6 60.1h0M117.2 57.0h0M117.4 59.9h0M110.9 66.2h0M112.8 36.3h0M106.3 68.8h0M112.8 24.7h0M112.8 26.3h0M105.7 65.5h0M115.3 55.4h0M109.4 64.5h0M115.2 53.5h0M111.1 63.7h0M106.8 25.1h0M102.9 37.2h0M112.0 56.9h0M113.2 65.2h0M113.0 55.2h0M111.5 55.0h0M104.5 53.8h0M103.5 32.3h0M111.0 32.5h0M110.1 23.3h0M111.3 69.1h0M110.8 37.9h0M118.0 58.3h0M112.9 28.4h0M112.1 49.8h0M103.1 36.0h0M104.8 55.7h0M110.4 25.4h0M106.5 51.5h0M105.2 40.3h0M114.6 68.1h0M114.1 55.7h0M108.7 68.5h0M112.5 62.2h0M104.7 67.8h0M110.1 45.2h0M111.7 68.8h0M106.1 52.4h0M110.0 69.2h0M105.1 54.0h0M117.7 57.6h0M110.6 50.7h0M104.3 41.3h0M103.5 47.2h0M106.9 31.0h0M114.0 52.3h0M111.9 35.1h0M109.8 44.1h0M111.3 50.2h0M117.0 52.9h0M107.4 61.3h0M104.1 60.3h0M111.2 34.9h0M102.0 35.5h0M110.0 53.2h0M106.7 50.6h0M113.7 37.0h0M109.5 61.9h0M108.0 38.8h0M107.1 60.8h0M108.9 54.9h0M108.3 35.3h0M107.3 65.7h0M117.9 61.2h0M102.6 54.0h0M103.2 49.5h0M112.6 59.2h0M106.7 29.9h0M105.5 34.2h0M112.5 49.7h0M117.2 58.4h0M112.7 67.7h0M105.3 38.4h0M109.0 62.0h0M113.4 33.2h0M105.7 32.2h0M113.0 68.8h0M112.6 39.4h0M105.6 36.4h0M112.6 67.9h0M107.5 30.5h0M111.4 25.3h0M102.3 53.8h0M104.2 63.9h0M112.8 48.0h0M111.6 67.4h0M103.9 56.8h0M113.1 39.9h0M110.5 68.2h0M109.4 44.6h0M111.0 23.7h0M115.3 66.2h0M111.9 37.2h0M111.7 55.6h0M103.8 60.3h0M105.9 36.0h0M116.3 60.1h0M102.5 60.1h0M117.1 56.8h0M113.2 35.1h0M117.1 56.8h0M106.9 65.7h0M106.1 58.4h0M106.6 36.2h0M111.1 28.9h0M106.8 31.2h0M116.7 59.1h0M102.8 58.6h0M114.1 53.3h0M111.5 27.4h0M114.9 60.4h0M113.0 33.7h0M117.5 59.0h0M116.3 56.1h0M108.8 55.7h0M110.9 49.7h0M111.8 31.2h0M108.3 65.9h0M108.4 29.6h0M108.1 64.8h0M104.8 55.6h0M110.8 25.6h0M105.0 32.3h0M109.4 35.4h0M106.3 70.6h0M106.7 55.6h0M109.7 35.7h0M110.3 53.5h0M106.7 62.7h0M114.1 59.2h0M112.6 33.4h0M113.4 30.7h0M103.8 46.9h0M104.3 28.4h0M111.5 70.2h0M111.2 46.3h0M102.1 56.6h0M110.0 50.4h0M112.8 66.8h0M108.8 67.1h0M104.4 44.5h0M109.4 35.7h0M106.9 66.6h0M108.9 31.9h0M108.7 66.6h0M104.5 67.0h0M108.5 55.9h0M112.7 40.8h0M115.0 61.2h0M113.3 33.7h0M103.0 64.3h0M108.0 42.0h0M106.1 68.4h0M110.4 57.1h0M111.7 26.5h0M109.8 53.1h0M107.3 56.5h0M107.3 59.8h0M106.8 70.2h0M112.5 64.3h0M103.5 53.2h0M112.3 63.9h0M106.4 59.7h0M105.9 37.6h0M112.5 41.5h0M105.4 65.4h0M114.5 60.0h0M103.9 37.1h0M106.0 55.9h0M113.4 68.8h0M111.8 64.3h0M110.4 33.0h0M108.6 52.0h0M110.4 60.7h0M110.6 41.0h0M110.2 47.7h0M111.1 57.2h0M108.7 58.9h0M110.0 40.3h0M105.5 61.4h0M117.1 58.1h0M105.1 56.9h0M110.0 67.7h0M101.5 60.2h0M109.3 64.3h0M111.7 22.5h0M113.2 48.4h0M105.5 28.1h0M108.2 49.8h0M103.9 55.7h0M110.7 58.7h0M108.4 34.8h0M109.1 32.4h0M103.5 54.7h0M103.8 35.9h0M108.4 35.6h0M112.5 29.0h0M112.4 27.8h0M111.3 70.4h0M114.8 68.8h0M110.7 29.9h0M107.7 60.4h0M106.9 67.3h0" stroke="#00BFC4" stroke-width="2.00" stroke-linecap="round" fill="none"/>
<path d="M115.5 160.5h0M117.3 160.1h0M119.1 159.7h0M120.9 159.3h0M122.7 158.9h0M124.5 158.5h0" stroke="#F8766D" stroke-width="1.90" stroke-linecap="round" fill="none"/>
<path d="M114.8 171.2h0M116.3 172.5h0M117.8 173.8h0M115.5 176.4h0M116.2 177.8h0" stroke="#00BFC4" stroke-width="1.90" stroke-linecap="round" fill="none"/>
<path d="M43.0 127.5h0M45.0 128.8h0M47.0 127.2h0M44.5 130.0h0" stroke="#00BFC4" stroke-width="1.90" stroke-linecap="round" fill="none"/>
<path d="M107.5 74.1h0" stroke="#F8766D" stroke-width="1.60" stroke-linecap="round" fill="none"/>
<path d="M45.8 30.0h0" stroke="#F8766D" stroke-width="3.20" stroke-linecap="round" fill="none"/>
<path d="M45.8 35.6h0" stroke="#00BFC4" stroke-width="3.20" stroke-linecap="round" fill="none"/>
<text x="51.6" y="31.3" font-size="8.5" text-anchor="start" fill="#222" stroke="#222" stroke-width="0.25">0</text>
<text x="51.6" y="38.9" font-size="8.5" text-anchor="start" fill="#222" stroke="#222" stroke-width="0.25">1</text>
<text x="74.6" y="164.2" font-size="9.5" text-anchor="middle" fill="#111" stroke="#111" stroke-width="0.25">0</text>
<text x="111.3" y="54.4" font-size="9.5" text-anchor="middle" fill="#111" stroke="#111" stroke-width="0.25">1</text>
<text x="141.3" y="17.5" font-size="17.2" text-anchor="start" fill="#000" font-weight="bold">B</text>
<line x1="163.1" y1="13.5" x2="163.1" y2="210.5" stroke="#9a9a9a" stroke-width="1.2"/>
<line x1="163.1" y1="210.1" x2="250" y2="210.1" stroke="#9a9a9a" stroke-width="1.2"/>
<line x1="251.8" y1="210.1" x2="346.5" y2="210.1" stroke="#9a9a9a" stroke-width="1.2"/>
<text x="160.3" y="35.900000000000006" font-size="9.2" text-anchor="end" fill="#222" stroke="#222" stroke-width="0.25">10</text>
<text x="160.3" y="93.2" font-size="9.2" text-anchor="end" fill="#222" stroke="#222" stroke-width="0.25">5</text>
<text x="160.3" y="151.1" font-size="9.2" text-anchor="end" fill="#222" stroke="#222" stroke-width="0.25">0</text>
<text x="160.3" y="208.1" font-size="9.2" text-anchor="end" fill="#222" stroke="#222" stroke-width="0.25">−5</text>
<text x="163.6" y="219.5" font-size="7.8" text-anchor="middle" fill="#222" stroke="#222" stroke-width="0.25">−5.0</text>
<text x="184.6" y="219.5" font-size="7.8" text-anchor="middle" fill="#222" stroke="#222" stroke-width="0.25">−2.5</text>
<text x="204.3" y="219.5" font-size="7.8" text-anchor="middle" fill="#222" stroke="#222" stroke-width="0.25">0.0</text>
<text x="225.1" y="219.5" font-size="7.8" text-anchor="middle" fill="#222" stroke="#222" stroke-width="0.25">2.5</text>
<text x="244.2" y="219.5" font-size="7.8" text-anchor="middle" fill="#222" stroke="#222" stroke-width="0.25">5.0</text>
<text x="258" y="219.5" font-size="7.8" text-anchor="middle" fill="#222" stroke="#222" stroke-width="0.25">−5.0</text>
<text x="277.3" y="219.5" font-size="7.8" text-anchor="middle" fill="#222" stroke="#222" stroke-width="0.25">−2.5</text>
<text x="296.6" y="219.5" font-size="7.8" text-anchor="middle" fill="#222" stroke="#222" stroke-width="0.25">0.0</text>
<text x="316.7" y="219.5" font-size="7.8" text-anchor="middle" fill="#222" stroke="#222" stroke-width="0.25">2.5</text>
<text x="337.6" y="219.5" font-size="7.8" text-anchor="middle" fill="#222" stroke="#222" stroke-width="0.25">5.0</text>
<text x="260.3" y="228.5" font-size="9.2" text-anchor="middle" fill="#111" stroke="#111" stroke-width="0.25">UMAP_1</text>
<text x="145.4" y="103.9" font-size="9.2" text-anchor="middle" fill="#111" transform="rotate(-90 145.4 103.9)" stroke="#111" stroke-width="0.25">UMAP_2</text>
<path d="M172.7 16.7h0" stroke="#F8766D" stroke-width="2.90" stroke-linecap="round" fill="none"/>
<text x="175.8" y="18.8" font-size="5.8" text-anchor="start" fill="#333" stroke="#333" stroke-width="0.1">TS_0</text>
<path d="M172.7 22.5h0" stroke="#7CAE00" stroke-width="2.90" stroke-linecap="round" fill="none"/>
<text x="175.8" y="24.65" font-size="5.8" text-anchor="start" fill="#333" stroke="#333" stroke-width="0.1">TS_1</text>
<path d="M172.7 28.4h0" stroke="#00BFC4" stroke-width="2.90" stroke-linecap="round" fill="none"/>
<text x="175.8" y="30.5" font-size="5.8" text-anchor="start" fill="#333" stroke="#333" stroke-width="0.1">WT_0</text>
<path d="M172.7 34.2h0" stroke="#C77CFF" stroke-width="2.90" stroke-linecap="round" fill="none"/>
<text x="175.8" y="36.35" font-size="5.8" text-anchor="start" fill="#333" stroke="#333" stroke-width="0.1">WT_1</text>
<path d="M233.0 179.1h0M205.9 197.0h0M204.5 133.5h0M221.4 197.8h0M182.5 171.9h0M215.5 181.7h0M172.1 158.9h0M177.0 129.4h0M185.7 159.1h0M211.1 176.3h0M210.3 200.2h0M200.1 181.5h0M202.5 186.3h0M203.9 187.8h0M216.6 171.7h0M216.5 174.1h0M207.5 175.8h0M222.3 181.1h0M194.4 127.1h0M225.5 183.0h0M225.1 186.6h0M186.4 170.5h0M200.1 151.2h0M196.4 174.5h0M193.4 170.8h0M211.2 152.6h0M212.4 173.2h0M228.2 170.0h0M223.6 185.9h0M183.0 125.4h0M232.9 176.0h0M197.2 174.3h0M195.5 196.5h0M222.6 150.8h0M190.3 158.5h0M226.1 193.8h0M178.3 160.8h0M230.2 169.2h0M209.6 153.7h0M218.9 167.0h0M208.8 142.1h0M203.1 155.8h0M230.3 191.4h0M188.4 165.8h0M189.6 150.9h0M234.7 183.7h0M195.0 149.8h0M229.2 163.5h0M195.0 164.2h0M214.6 189.0h0M224.0 144.8h0M226.1 176.6h0M178.5 139.7h0M189.6 161.4h0M213.8 173.5h0M189.5 146.8h0M171.7 158.1h0M182.4 158.8h0M182.5 184.3h0M213.1 132.1h0M194.2 150.5h0M231.1 192.0h0M170.3 152.1h0M209.0 183.7h0M222.0 195.7h0M214.4 191.4h0M199.2 191.8h0M177.1 137.9h0M221.1 195.2h0M211.3 142.5h0M190.6 187.8h0M225.9 179.6h0M173.9 132.2h0M230.2 163.5h0M177.4 169.0h0M224.1 193.2h0M234.0 172.1h0M234.0 179.6h0M213.9 176.3h0M225.6 147.3h0M170.6 141.4h0M189.6 190.8h0M211.0 167.2h0M194.9 154.0h0M190.0 183.4h0M200.0 193.9h0M191.9 130.8h0M192.6 190.9h0M192.9 186.7h0M199.0 176.3h0M194.5 196.2h0M175.5 169.8h0M204.3 193.3h0M211.5 185.5h0M221.0 165.8h0M203.3 166.1h0M196.6 165.6h0M198.4 155.1h0M198.3 181.0h0M195.1 189.6h0M205.0 127.2h0M193.4 131.1h0M198.3 149.0h0M191.5 187.4h0M229.4 181.3h0M220.5 192.7h0M187.0 184.2h0M211.7 195.4h0M205.2 163.3h0M208.3 164.6h0M208.0 175.1h0M195.0 135.6h0M210.3 158.4h0M215.3 148.7h0M178.0 171.8h0M195.6 191.3h0M184.7 162.1h0M191.3 158.9h0M233.6 183.4h0M190.1 174.7h0M217.5 186.9h0M192.9 148.0h0M205.9 190.8h0M194.2 161.0h0M185.1 157.6h0M189.7 187.0h0M205.8 177.5h0M191.4 135.3h0M199.5 196.0h0M235.0 177.6h0M208.7 152.3h0M211.9 132.9h0M203.2 147.3h0M207.8 155.6h0M215.4 134.2h0M202.6 181.4h0M229.0 174.4h0M202.2 180.4h0M216.6 184.0h0M195.6 141.4h0M212.6 192.8h0M214.1 197.0h0M193.8 148.6h0M186.7 184.4h0M187.7 153.4h0M190.9 176.0h0M190.7 185.0h0M204.0 146.8h0M186.5 143.1h0M205.7 171.5h0M207.2 150.4h0M199.6 158.3h0M191.4 166.2h0M208.1 179.1h0M195.0 149.6h0M176.2 167.5h0M204.5 128.9h0M221.2 165.1h0M213.8 152.4h0M226.4 152.9h0M221.2 148.6h0M188.5 165.6h0M177.9 176.3h0M203.3 137.5h0M205.0 155.8h0M217.0 194.1h0M212.2 169.1h0M210.6 160.6h0M187.5 191.0h0M174.9 168.7h0M232.1 177.9h0M228.5 182.2h0M212.9 180.7h0M199.8 147.0h0M211.5 171.7h0M229.8 188.3h0M219.9 181.9h0M209.8 192.0h0M228.3 169.0h0M213.4 137.9h0M201.9 167.4h0M190.0 122.5h0M233.0 185.5h0M193.3 162.9h0M208.6 198.0h0M206.4 178.7h0M208.0 195.7h0M224.4 195.1h0M187.4 191.3h0M173.8 163.2h0M201.8 157.1h0M188.0 142.7h0M217.1 196.3h0M224.5 186.6h0M225.8 179.0h0M198.4 121.9h0M205.2 140.8h0M216.8 185.2h0M201.6 164.4h0M198.0 145.3h0M213.9 192.6h0M191.9 162.3h0M196.7 197.4h0M203.8 193.2h0M193.1 191.1h0M196.7 185.2h0M173.3 139.1h0M176.6 161.0h0M211.9 145.5h0M216.2 131.2h0M228.3 166.5h0M207.3 189.8h0M210.0 143.2h0M209.9 187.8h0M190.3 173.0h0M219.4 182.4h0M219.6 189.5h0M196.6 125.7h0M224.8 177.9h0M186.3 152.1h0M213.3 192.4h0M223.9 195.8h0M205.0 157.0h0M204.2 196.0h0M193.4 124.0h0M195.1 172.6h0M215.2 186.1h0M223.7 185.7h0M209.2 197.0h0M205.0 151.0h0M174.4 150.1h0M175.3 170.5h0M190.3 182.3h0M218.7 183.4h0M200.4 129.1h0M207.9 181.3h0M223.0 176.4h0M176.0 149.5h0M228.9 193.6h0M224.3 134.9h0M230.9 180.8h0M178.1 156.6h0M233.6 178.8h0M219.2 154.2h0M196.2 123.9h0M216.3 134.1h0M215.3 165.5h0M215.5 177.0h0M207.2 139.7h0M226.8 158.4h0M192.6 173.5h0M227.2 151.3h0M193.1 186.3h0M207.3 165.9h0M207.2 182.1h0M190.6 189.1h0M216.5 188.8h0M211.8 127.8h0M217.0 159.9h0M172.5 128.8h0M207.0 181.1h0M225.2 186.6h0M203.3 165.5h0M230.8 192.0h0M172.7 130.7h0M194.5 183.3h0M208.8 191.4h0M221.1 161.3h0M203.9 194.5h0M220.6 144.9h0M232.6 178.8h0M220.5 190.0h0M197.0 144.1h0M177.0 163.6h0M203.7 174.1h0M193.4 144.4h0M227.1 173.3h0M194.6 196.5h0M224.9 136.3h0M183.2 147.3h0M214.9 150.1h0M211.9 171.5h0M212.7 183.4h0M191.3 189.2h0M212.7 147.3h0M211.6 149.8h0M202.3 164.8h0M209.1 145.7h0M198.3 190.8h0M218.7 195.7h0M228.7 161.8h0M229.4 188.1h0M193.9 171.9h0M188.9 159.7h0M204.8 136.6h0M221.0 136.2h0M187.3 153.3h0M229.1 167.4h0M223.5 189.4h0M225.0 181.3h0M206.8 152.3h0M178.0 138.0h0M223.3 182.4h0M218.1 165.7h0M210.6 153.7h0M184.7 182.4h0M223.5 178.3h0M203.3 200.1h0M215.9 178.4h0M200.2 151.7h0M182.2 151.2h0M210.1 187.6h0M177.7 171.1h0M209.6 161.6h0M200.5 131.2h0M213.4 168.7h0M213.4 184.6h0M231.7 190.1h0M217.1 185.5h0M224.9 171.8h0M196.8 197.3h0M197.2 144.8h0M208.1 177.7h0M209.1 141.3h0M202.0 172.4h0M184.5 145.1h0M199.9 176.5h0M193.6 124.1h0M203.7 156.5h0M174.1 149.7h0M200.0 151.1h0M219.4 134.5h0M192.6 123.8h0M180.6 126.3h0M209.1 197.0h0M188.4 168.9h0M210.3 134.6h0M209.3 178.8h0M223.3 189.6h0M190.5 182.1h0M178.8 150.0h0M196.1 176.4h0M210.3 186.1h0M168.9 142.5h0M225.8 144.6h0M196.4 151.1h0M189.1 163.2h0M204.1 184.5h0M234.5 185.1h0M217.6 135.3h0M191.6 139.8h0M218.9 182.5h0M225.1 152.7h0M188.2 184.4h0M227.4 194.3h0M186.9 166.7h0M202.6 159.0h0M202.9 155.7h0M206.2 180.5h0M221.5 146.4h0M218.1 175.6h0M183.3 167.8h0M180.9 169.3h0M220.8 168.0h0M225.4 150.5h0M221.5 137.4h0M207.6 188.9h0M189.4 158.2h0M181.4 127.1h0M213.4 197.7h0M219.8 182.0h0M196.9 158.4h0M202.8 179.2h0M191.4 157.9h0M222.8 195.2h0M190.5 149.0h0M182.2 157.5h0M222.2 162.1h0M179.8 179.5h0M205.1 185.7h0M209.6 190.9h0M209.4 183.3h0M183.4 167.3h0M186.6 181.3h0M173.9 132.0h0M232.7 179.9h0M185.6 144.8h0M198.0 138.3h0M182.9 180.7h0M217.3 179.7h0M189.1 137.3h0M210.4 201.1h0M203.0 134.7h0M192.1 179.7h0M185.0 156.0h0M212.2 132.1h0M227.4 192.0h0M176.1 162.9h0M175.2 166.4h0M183.8 185.2h0M213.2 161.7h0M183.8 157.6h0M207.9 155.5h0M201.7 193.0h0M187.8 151.0h0M187.8 156.3h0M228.9 165.0h0M226.6 176.3h0M214.6 174.4h0M221.2 186.1h0M214.9 145.5h0M186.4 135.2h0M226.6 159.1h0M227.1 194.8h0M232.2 190.7h0M180.5 161.5h0M216.6 172.1h0M229.1 183.2h0M185.3 188.6h0M212.9 174.0h0M220.7 191.9h0M192.5 191.0h0M180.7 166.8h0M192.2 163.0h0M199.9 166.8h0M182.4 169.0h0M184.9 128.0h0M186.9 165.9h0M198.8 173.4h0M176.0 153.0h0M206.3 199.4h0M228.7 166.2h0M188.9 128.5h0M211.4 165.5h0M200.7 178.4h0M200.1 183.3h0M188.1 146.0h0M219.3 166.8h0M201.1 165.0h0M217.6 195.6h0M229.1 161.3h0M213.0 139.3h0M178.3 166.8h0M233.2 177.2h0M176.1 137.3h0M206.7 196.5h0M177.7 143.6h0M203.2 122.9h0M197.6 155.6h0M221.3 168.8h0M191.7 153.7h0M226.6 149.4h0M172.5 135.5h0M226.0 162.2h0M191.5 130.9h0M179.4 138.0h0M182.4 154.3h0M228.4 190.4h0M215.9 139.3h0M197.9 195.3h0M224.0 196.2h0M202.0 134.9h0M205.1 128.4h0M186.0 176.3h0M226.8 186.6h0M218.1 165.0h0M216.5 193.5h0M226.8 172.2h0M195.8 163.6h0M205.9 166.4h0M177.5 150.1h0M213.1 140.3h0M215.5 156.1h0M213.3 176.2h0M192.1 190.1h0M208.7 150.4h0M216.8 145.1h0M189.3 183.7h0M206.9 196.3h0M200.9 179.5h0M204.2 198.8h0M223.5 158.6h0M180.8 150.7h0M217.0 188.0h0M224.9 135.2h0M179.9 174.3h0M218.3 183.7h0M190.5 128.1h0M214.6 161.2h0M210.8 190.7h0M207.6 192.2h0M223.8 162.5h0M210.5 157.8h0M194.8 179.3h0M209.3 149.5h0M212.8 163.2h0M202.2 195.6h0M186.6 176.5h0M214.2 197.4h0M192.4 175.8h0M209.4 175.2h0M184.2 185.4h0M178.8 164.5h0M231.4 188.9h0M188.3 124.5h0M206.5 150.4h0M188.5 186.5h0M173.9 153.8h0M223.0 187.5h0M216.6 162.2h0M179.3 151.6h0M218.0 183.4h0M209.9 193.1h0M206.8 188.9h0M188.6 156.0h0M197.3 189.0h0M198.8 191.1h0M172.0 139.7h0M209.8 163.8h0M220.1 147.2h0M176.9 149.5h0M224.9 154.9h0M195.4 183.5h0M194.3 194.0h0M189.4 180.8h0M179.7 173.1h0M228.2 162.2h0M224.1 179.8h0M187.0 180.7h0M188.6 153.7h0M202.5 188.1h0M205.3 144.3h0M214.7 195.3h0M219.3 160.1h0M194.8 185.1h0M187.0 188.9h0M225.2 188.1h0M210.5 172.5h0M171.8 154.2h0M214.8 164.6h0M213.8 189.6h0M223.8 175.8h0M215.4 165.2h0M190.6 184.8h0M177.4 167.0h0M202.6 171.3h0M219.3 181.4h0M223.1 194.5h0M198.6 180.9h0M180.4 173.7h0M217.1 170.3h0M193.0 146.8h0M181.2 125.6h0M221.5 189.4h0M193.2 181.6h0M206.7 170.3h0M213.0 170.9h0M220.1 194.4h0M180.4 140.8h0M234.5 174.6h0M223.1 194.2h0M203.6 153.4h0M225.5 148.6h0M188.3 183.0h0M199.9 133.7h0M216.3 182.7h0M219.3 195.2h0M186.4 142.0h0M213.6 184.5h0M212.2 144.4h0M223.4 130.5h0M171.6 138.4h0M221.8 191.8h0M200.9 175.7h0M225.6 193.0h0M200.5 143.8h0M232.1 176.7h0M195.3 155.6h0M223.8 176.9h0M203.1 193.9h0M208.2 190.3h0M226.9 179.7h0M185.4 187.6h0M219.2 189.7h0M190.9 169.4h0M191.0 180.1h0M183.8 168.9h0M179.5 131.4h0M222.7 170.8h0M214.2 197.6h0M186.0 183.4h0M188.7 181.2h0M182.3 168.2h0M193.3 163.0h0M193.9 168.0h0M218.7 176.8h0M194.3 184.1h0M235.0 178.9h0M218.5 194.8h0M212.0 191.2h0M210.5 182.2h0M202.0 177.6h0M200.3 127.5h0M182.4 129.7h0M192.0 152.2h0M201.9 127.8h0M226.0 186.3h0M208.2 171.0h0M233.3 170.6h0M210.3 201.2h0M196.6 183.0h0M202.7 179.7h0M207.5 130.2h0M195.5 174.2h0M191.5 146.1h0M197.9 193.6h0M200.3 126.2h0M192.7 167.3h0M205.2 197.9h0M203.0 184.2h0M219.4 157.5h0M197.0 157.0h0M176.6 126.1h0M213.4 178.0h0M190.1 180.7h0M211.0 170.5h0M191.5 182.1h0M231.0 163.1h0M213.4 141.2h0M191.8 183.6h0M218.4 185.0h0M181.4 147.3h0M212.9 185.0h0M228.5 168.7h0M212.0 140.2h0M225.2 180.7h0M213.5 176.4h0M202.4 176.2h0M222.2 192.6h0M201.3 193.7h0M215.2 165.5h0M229.0 172.7h0M187.7 190.4h0M225.9 187.1h0M218.5 144.8h0M203.6 164.3h0M210.0 193.0h0M178.2 175.2h0M199.3 150.7h0M212.0 197.5h0M199.2 168.9h0M191.7 182.3h0M212.4 183.2h0M212.5 178.2h0M177.6 173.2h0M219.2 194.9h0M190.6 127.1h0M211.3 188.0h0M217.8 159.4h0M186.7 179.2h0M216.7 182.6h0M190.1 184.7h0M193.0 181.4h0M231.1 184.7h0M222.4 188.5h0M211.4 136.1h0M188.7 151.1h0M209.8 127.9h0M226.7 181.0h0M221.6 166.2h0M189.2 183.7h0M181.3 176.4h0M206.9 151.5h0M204.5 139.0h0M202.3 199.7h0M214.5 166.7h0M212.4 176.9h0M235.7 183.7h0M184.6 123.9h0M231.0 179.9h0M208.1 159.4h0M178.1 133.3h0M203.2 149.2h0M226.3 151.5h0M223.4 137.5h0M194.4 179.5h0M199.9 188.6h0M208.3 163.0h0M174.1 127.4h0M179.7 170.2h0M196.6 197.9h0M186.0 143.8h0M185.5 145.0h0M188.7 187.5h0M201.2 186.8h0M195.6 160.2h0M218.4 157.0h0M210.2 175.4h0M186.5 155.6h0M183.3 185.5h0M191.0 130.8h0M212.7 183.8h0M203.5 196.9h0M223.5 192.6h0M204.6 129.7h0M204.8 197.4h0M181.0 156.7h0M199.6 196.1h0M195.4 191.9h0M171.3 147.5h0M206.1 197.9h0M219.9 169.8h0M192.2 151.3h0M190.8 173.7h0M185.5 155.1h0M202.0 188.7h0M192.9 182.2h0M185.7 158.4h0M192.4 171.9h0M184.7 187.0h0M175.3 160.6h0M184.4 187.5h0M225.7 188.0h0M212.9 157.3h0M178.3 136.0h0M207.3 199.1h0M189.3 158.7h0M193.7 150.5h0M208.1 183.8h0M187.2 170.7h0M220.2 190.6h0M189.2 162.4h0M202.7 124.6h0M197.2 135.1h0M221.2 179.4h0M231.4 173.2h0M196.0 194.2h0M194.5 179.7h0M209.6 143.2h0M226.9 161.6h0M231.5 168.6h0M181.7 147.9h0M229.3 174.9h0M220.8 153.3h0M196.8 183.2h0M173.1 148.0h0M212.6 195.8h0M214.4 178.6h0M201.0 172.1h0M219.2 185.2h0M214.9 139.2h0M186.7 178.3h0M196.9 191.9h0M224.7 175.1h0M190.9 145.9h0M179.0 170.3h0M231.6 175.7h0M191.9 165.4h0M203.1 172.5h0M170.6 141.4h0M204.7 174.9h0M214.8 173.6h0M193.1 188.4h0M212.9 150.9h0M184.8 162.0h0M185.3 160.2h0M196.4 198.4h0M204.8 183.9h0M214.2 164.2h0M186.8 136.4h0M199.0 161.4h0M199.5 149.3h0M224.2 163.3h0M186.5 183.2h0M180.1 152.6h0M199.2 200.0h0M194.2 162.9h0M177.2 172.0h0M204.3 192.6h0M220.2 174.3h0M184.8 145.7h0M225.2 195.0h0M226.2 163.4h0M211.4 178.7h0M189.4 134.6h0M194.7 134.5h0M199.6 192.6h0M184.0 183.8h0M233.8 176.1h0M182.3 181.5h0M223.1 173.0h0M221.5 137.6h0M183.0 140.3h0M201.9 158.8h0M184.0 171.6h0M195.6 176.5h0M212.6 148.3h0M229.0 169.7h0M225.0 165.3h0M216.8 192.1h0M180.2 128.1h0M207.3 158.5h0M187.3 142.3h0M202.8 179.3h0M210.7 181.8h0M193.0 132.4h0M184.0 164.3h0M203.8 152.5h0M182.9 168.6h0M208.0 183.8h0M184.4 182.5h0M184.5 154.2h0M226.9 188.4h0M172.4 142.0h0M205.3 178.0h0M218.6 165.7h0M209.1 162.0h0M222.4 172.7h0M214.8 193.5h0M204.6 155.8h0M214.4 176.4h0M181.4 157.0h0M180.7 165.2h0M210.3 157.8h0M206.8 135.3h0M207.6 189.4h0M190.5 178.2h0M208.6 150.9h0M225.1 192.8h0M206.7 139.6h0M232.5 176.0h0M173.3 134.0h0M214.4 166.0h0M202.5 176.0h0M191.3 170.6h0M228.0 166.2h0M204.1 169.5h0M181.1 146.5h0M217.1 165.9h0M213.9 196.4h0M203.8 194.2h0M189.3 151.8h0M180.6 155.0h0M200.5 163.0h0M211.0 166.2h0M212.0 196.4h0M173.2 133.3h0M192.3 163.0h0M224.7 179.5h0M205.8 134.9h0M225.6 169.6h0M190.5 172.5h0M206.5 195.3h0M207.3 183.6h0M183.6 164.6h0M205.7 200.3h0M203.5 201.0h0M196.2 187.2h0M209.0 185.0h0M226.4 172.4h0M192.3 168.2h0M222.2 186.7h0M214.5 162.0h0M202.7 186.0h0M184.3 172.2h0M205.5 175.2h0M201.8 124.4h0M214.2 146.1h0M233.0 183.4h0M193.4 140.5h0M173.1 129.2h0M221.8 151.6h0M214.9 169.9h0M234.4 185.5h0M171.6 137.7h0M230.0 190.2h0M183.3 164.1h0M221.6 174.8h0M203.8 175.4h0M186.1 176.5h0M220.0 192.5h0M207.2 199.4h0M222.9 193.5h0M226.5 189.4h0M219.9 193.8h0M189.6 177.9h0M205.9 195.5h0M185.8 137.9h0M218.6 197.9h0M193.4 151.5h0M172.2 138.3h0M201.8 189.5h0M183.2 172.5h0M211.8 180.4h0M178.1 140.4h0M221.7 157.0h0M206.2 171.4h0M190.6 173.2h0M204.1 160.2h0M215.3 198.2h0" stroke="#00BFC4" stroke-width="2.50" stroke-linecap="round" fill="none"/>
<path d="M286.1 191.6h0M286.9 157.1h0M272.5 153.2h0M274.6 171.2h0M271.4 160.6h0M312.9 141.4h0M300.3 136.4h0M284.0 138.2h0M283.0 180.5h0M289.2 168.0h0M273.6 153.9h0M271.7 142.8h0M291.8 173.9h0M278.9 158.1h0M276.2 144.9h0M315.3 191.2h0M310.7 140.4h0M312.6 135.0h0M318.7 170.7h0M269.0 152.2h0M296.6 161.8h0M290.5 143.1h0M282.2 137.1h0M279.2 124.2h0M276.5 125.8h0M287.1 129.7h0M289.8 141.1h0M318.8 177.0h0M288.2 133.5h0M273.3 157.4h0M307.1 185.9h0M273.0 162.0h0M267.2 165.8h0M305.1 135.5h0M295.2 125.6h0M288.9 125.5h0M290.2 161.0h0M287.6 178.6h0M281.7 133.1h0M308.6 159.9h0M263.8 148.6h0M301.6 149.5h0M284.6 147.0h0M280.6 124.1h0M305.9 145.3h0M272.3 144.2h0M274.0 179.9h0M278.6 164.7h0M290.3 149.9h0M318.2 161.1h0M282.3 134.5h0M281.5 136.0h0M310.6 165.9h0M274.5 171.1h0M272.7 175.5h0M305.4 147.0h0M300.0 176.6h0M295.3 141.1h0M268.0 136.7h0M271.5 150.2h0M312.3 134.7h0M279.9 165.7h0M268.7 158.5h0M293.7 167.9h0M304.5 154.6h0M312.3 161.8h0M279.3 163.6h0M303.2 150.8h0M314.1 150.7h0M295.7 142.6h0M309.7 138.4h0M274.1 148.5h0M271.5 152.4h0M311.7 169.8h0M281.1 148.3h0M295.4 186.0h0M302.9 192.2h0M295.2 153.2h0M315.0 158.3h0M276.5 175.2h0M315.2 152.9h0M279.1 125.2h0M293.0 146.5h0M272.3 170.8h0M285.2 144.0h0M297.8 165.5h0M286.7 185.4h0M301.9 127.0h0M319.4 165.3h0M279.9 124.5h0M278.9 162.3h0M276.9 182.6h0M296.3 154.6h0M290.0 140.0h0M297.0 139.4h0M283.1 161.0h0M303.3 146.8h0M308.8 149.1h0M299.6 148.9h0M291.6 130.3h0M284.1 136.0h0M305.9 181.6h0M313.0 192.2h0M287.0 171.0h0M295.8 172.2h0M289.1 180.0h0M270.8 159.6h0M299.0 181.4h0M300.8 169.6h0M291.7 167.3h0M294.9 197.0h0M264.4 152.0h0M310.5 134.4h0M280.0 130.7h0M320.4 173.2h0M313.9 178.7h0M298.6 134.0h0M287.4 179.8h0M290.1 185.4h0M313.9 167.2h0M262.5 140.4h0M271.9 133.5h0M294.8 147.8h0M285.0 142.7h0M313.3 143.8h0M272.4 143.2h0M286.8 139.0h0M302.8 133.4h0M294.1 178.1h0M276.1 143.9h0M310.1 184.4h0M307.6 156.5h0M286.8 126.0h0M318.1 175.1h0M280.7 187.4h0M317.7 190.4h0M294.1 192.3h0M268.1 133.0h0M307.1 147.3h0M277.0 131.3h0M294.0 173.7h0M287.1 186.2h0M294.7 179.3h0M316.2 181.5h0M295.6 184.0h0M308.9 163.0h0M264.6 138.2h0M286.9 135.4h0M302.7 187.4h0M296.5 155.9h0M284.1 169.7h0M298.7 160.8h0M306.1 160.6h0M307.0 160.1h0M312.3 137.1h0M285.5 145.0h0M319.0 166.4h0M322.7 178.7h0M310.6 169.5h0M285.2 129.4h0M310.9 191.1h0M277.6 125.1h0M299.4 146.6h0M288.2 130.2h0M306.9 189.9h0M310.2 131.9h0M279.8 136.5h0M276.0 127.4h0M286.3 124.2h0M291.9 155.2h0M282.4 164.5h0M313.1 147.8h0M279.8 170.8h0M289.4 141.4h0M288.0 144.0h0M314.5 172.9h0M315.5 173.2h0M269.6 140.8h0M316.4 155.1h0M272.7 131.4h0M281.1 171.6h0M271.0 133.4h0M306.2 186.0h0M310.5 170.0h0M291.3 176.0h0M285.9 180.6h0M307.3 130.2h0M293.0 168.5h0M305.2 157.7h0M270.8 166.4h0M281.0 160.2h0M313.4 151.3h0M298.8 138.3h0M266.8 135.1h0M266.5 164.2h0M309.5 173.3h0M297.0 131.9h0M301.7 131.4h0M314.6 154.4h0M311.0 154.6h0M314.0 130.7h0M284.5 153.2h0M276.2 160.9h0M283.7 157.2h0M289.2 154.2h0M295.6 177.2h0M290.7 161.4h0M316.7 173.9h0M296.9 152.6h0M296.9 175.7h0M298.9 156.9h0M271.3 175.3h0M278.6 158.5h0M297.0 196.7h0M306.3 156.5h0M271.9 151.1h0M273.6 130.5h0M283.8 124.3h0M274.3 135.7h0M297.3 154.5h0M310.8 174.5h0M274.9 178.0h0M286.1 137.1h0M288.9 189.5h0M293.4 165.3h0M301.3 128.4h0M311.2 183.8h0M275.3 147.8h0M303.3 195.6h0M266.8 164.0h0M281.7 188.4h0M274.5 128.7h0M309.8 148.0h0M309.3 133.0h0M291.3 189.4h0M272.9 140.2h0M285.6 138.0h0M296.6 154.0h0M314.9 152.2h0M273.7 138.1h0M301.4 130.6h0M304.6 142.1h0M285.7 166.5h0M280.3 166.9h0M268.7 171.5h0M270.7 158.2h0M293.7 124.3h0M271.0 161.1h0M300.3 160.7h0M294.7 133.1h0M316.5 190.1h0M308.9 154.7h0M276.1 141.0h0M323.2 180.3h0M299.6 190.8h0M297.6 147.6h0M303.4 138.2h0M268.0 144.1h0M312.9 162.1h0M306.9 191.7h0M325.9 186.5h0M290.6 163.6h0M290.6 146.7h0M288.6 140.9h0M293.7 170.4h0M296.1 125.4h0M306.5 152.9h0M297.9 152.4h0M301.8 137.3h0M309.1 137.9h0M306.7 165.9h0M276.9 150.6h0M319.3 176.5h0M293.2 152.8h0M264.2 138.2h0M286.9 149.7h0M283.8 142.3h0M279.3 143.2h0M292.3 155.7h0M263.5 151.9h0M315.2 179.8h0M270.5 137.4h0M302.9 170.1h0M265.5 145.5h0M295.3 174.3h0M298.6 171.3h0M319.5 189.4h0M312.7 191.8h0M292.2 159.2h0M297.2 129.1h0M273.7 162.8h0M262.7 139.4h0M294.4 126.3h0M271.6 138.8h0M316.7 154.5h0M271.3 163.1h0M299.4 169.2h0M301.4 160.4h0M271.6 137.3h0M291.4 170.1h0M292.5 141.3h0M299.4 166.9h0M288.3 162.2h0M309.8 182.9h0M270.1 164.9h0M295.0 187.9h0M300.0 185.4h0M301.2 161.5h0M294.4 183.0h0M270.2 147.6h0M296.6 127.1h0M302.4 174.0h0M294.2 182.6h0M308.5 152.1h0M295.2 162.5h0M284.4 162.3h0M268.3 168.4h0M284.2 172.6h0M270.0 159.8h0M309.5 193.9h0M280.9 151.6h0M312.5 156.3h0M280.7 188.3h0M297.5 141.1h0M263.1 140.0h0M304.6 150.0h0M275.0 131.6h0M312.7 133.4h0M281.0 163.3h0M314.2 171.0h0M264.8 158.0h0M296.7 163.0h0M294.6 173.5h0M311.7 140.9h0M313.6 191.8h0M317.5 177.1h0M273.1 130.3h0M267.5 145.5h0M292.7 183.6h0M287.6 161.9h0M291.3 123.1h0M274.2 134.1h0M305.7 186.2h0M283.0 176.7h0M298.9 194.5h0M308.3 192.0h0M271.5 144.5h0M304.6 196.7h0M315.3 169.4h0M288.1 136.7h0M315.4 165.3h0M263.1 142.9h0M279.7 146.8h0M284.5 122.7h0M295.3 194.4h0M302.1 137.9h0M307.7 146.9h0M313.7 150.4h0M317.4 171.7h0M293.3 165.3h0M304.8 154.6h0M288.6 141.9h0M302.6 143.5h0M289.2 143.7h0M272.0 130.7h0M276.8 165.6h0M307.3 183.8h0M315.1 138.5h0M301.2 133.4h0M274.3 148.2h0M299.2 159.6h0M265.3 159.5h0M273.2 134.6h0M318.0 171.6h0M278.2 181.3h0M271.9 172.6h0M288.7 155.5h0M274.2 131.0h0M272.9 157.4h0M291.7 133.4h0M310.0 169.9h0M308.8 186.5h0M287.5 158.7h0M292.5 128.9h0M287.6 182.7h0M263.1 151.0h0M310.5 149.8h0M295.4 197.5h0M275.7 158.6h0M295.3 153.6h0M301.1 193.1h0M265.6 132.6h0M306.6 163.3h0M315.3 146.2h0M276.2 169.5h0M302.3 159.0h0M308.7 166.9h0M271.5 153.4h0M300.8 168.5h0M266.4 140.0h0M282.5 137.4h0M284.3 129.2h0M287.7 147.3h0M281.6 150.9h0M318.0 182.6h0M270.6 129.0h0M298.6 128.1h0M314.7 150.2h0M297.2 126.2h0M273.4 135.4h0M303.4 170.1h0M311.5 155.6h0M311.2 135.4h0M275.0 144.3h0M283.6 134.7h0M278.7 179.1h0M266.9 154.6h0M300.0 178.4h0M303.2 154.1h0M273.0 153.5h0M292.2 145.9h0M274.8 150.6h0M292.1 134.2h0M312.7 133.8h0M296.8 156.9h0M321.5 179.6h0M319.7 180.1h0M274.0 161.2h0M307.6 160.8h0M295.1 146.2h0M285.8 123.3h0M278.9 185.0h0M316.3 152.2h0M272.4 150.0h0M305.7 141.8h0M299.0 177.1h0M284.5 148.4h0M298.3 145.8h0M288.7 171.0h0M309.8 177.5h0M304.7 132.2h0M305.8 138.1h0M303.1 178.2h0M309.2 173.1h0M271.2 167.0h0M325.3 185.4h0M271.7 160.2h0M314.6 175.6h0M282.3 159.6h0M312.0 178.0h0M309.9 173.1h0M294.2 170.9h0M305.2 166.5h0M316.5 173.6h0M320.5 179.9h0M281.8 125.6h0M306.0 145.5h0M305.9 184.5h0M272.5 135.3h0M295.9 134.3h0M294.8 142.1h0M325.9 186.4h0M313.2 188.7h0M278.1 162.5h0M278.4 185.3h0M292.7 160.2h0M288.7 138.5h0M273.2 134.1h0M312.4 149.8h0M300.5 148.3h0M311.8 139.1h0M270.6 155.7h0M298.2 134.9h0M300.9 132.8h0M309.4 154.9h0M297.4 159.1h0M313.1 177.2h0M291.8 157.3h0M316.4 147.6h0M273.6 179.7h0M302.0 147.8h0M307.7 191.7h0M308.0 139.7h0M317.7 154.2h0M288.9 180.8h0M303.8 141.8h0M291.3 122.9h0M269.1 133.1h0M304.4 149.9h0M304.8 143.5h0M313.4 159.9h0M293.2 196.9h0M283.1 157.8h0M285.3 123.8h0M282.3 126.8h0M269.7 130.5h0M298.8 170.7h0M274.4 143.8h0M272.4 170.4h0M294.2 127.1h0M298.4 179.6h0M282.0 151.4h0M286.9 187.2h0M317.3 152.8h0M300.8 139.7h0M293.3 145.8h0M300.1 144.1h0M280.0 156.4h0M298.9 179.7h0M294.1 192.7h0M282.8 164.4h0M309.3 152.3h0M279.4 170.3h0M294.5 140.5h0M286.9 128.3h0M290.8 167.9h0M269.4 173.1h0M279.5 137.7h0M284.1 193.5h0M291.5 123.3h0M306.7 167.8h0M288.9 133.0h0M310.7 163.4h0M275.5 170.1h0M317.0 183.4h0M310.0 157.0h0M318.1 159.4h0M281.3 155.8h0M270.9 139.3h0M279.7 168.2h0M310.2 158.1h0M301.0 137.2h0M308.6 179.4h0M314.8 144.2h0M272.5 180.4h0M300.7 188.0h0M315.1 140.6h0M309.9 147.3h0M286.3 131.0h0M307.4 190.9h0M274.0 170.2h0M304.4 146.3h0M274.1 148.4h0M312.6 146.0h0M313.6 149.5h0M314.1 168.6h0M312.0 156.2h0M275.6 134.2h0M284.2 130.8h0M296.4 129.9h0M282.5 191.7h0M295.7 145.4h0M310.0 184.0h0M293.7 137.8h0M274.6 153.9h0M293.5 131.6h0M308.7 168.2h0M312.8 181.2h0M280.5 130.5h0M265.1 144.0h0M270.7 134.4h0M288.3 148.2h0M279.6 135.3h0M301.7 163.2h0M287.5 136.4h0M287.0 137.4h0M309.1 162.9h0M321.0 173.1h0M303.9 127.4h0M297.9 174.7h0M306.4 184.5h0M312.3 172.1h0M269.3 159.3h0M319.1 186.4h0M310.3 180.2h0M304.1 142.4h0M321.3 180.6h0M282.1 182.3h0M307.6 169.3h0M286.7 134.8h0M295.5 133.5h0M286.9 176.1h0M315.4 184.8h0M308.1 153.9h0M285.7 137.1h0M314.1 173.5h0M265.2 143.8h0M299.3 164.2h0M301.4 149.9h0M277.5 153.4h0M287.1 135.3h0M299.3 162.3h0M263.3 144.6h0M269.8 147.6h0M286.3 124.5h0M276.7 180.8h0M289.1 165.5h0M263.8 148.8h0M288.7 168.5h0M304.7 191.9h0M303.9 173.1h0M268.4 155.8h0M275.9 145.0h0M267.1 151.4h0M272.0 144.8h0M288.7 147.2h0M306.6 179.6h0M306.1 145.8h0M297.4 154.7h0M311.0 151.8h0M282.8 130.1h0M275.6 174.7h0M282.3 163.4h0M313.5 159.0h0M304.8 148.3h0M299.9 184.5h0M280.8 129.2h0M308.6 136.0h0M312.9 152.9h0M272.5 167.5h0M288.9 128.7h0M292.5 167.7h0M288.3 154.1h0M316.2 178.6h0M299.0 141.8h0M288.1 157.8h0M267.5 147.1h0M286.9 129.2h0M311.9 148.7h0M292.1 183.7h0M310.9 144.4h0M294.3 128.5h0M313.4 161.2h0M271.3 154.1h0M270.7 166.0h0M303.2 139.9h0M296.3 125.3h0M287.8 167.1h0M310.1 171.7h0M307.2 141.9h0M309.1 179.2h0M293.7 163.4h0M311.8 177.9h0M290.3 137.6h0M272.2 165.1h0M310.3 142.0h0M315.5 163.7h0M272.0 131.2h0M304.0 180.9h0M285.8 171.4h0M298.5 187.9h0M277.8 131.1h0M278.9 184.8h0M292.3 162.2h0M307.2 134.3h0M263.9 151.5h0M270.9 139.0h0M273.2 130.4h0M285.1 190.4h0M313.8 157.8h0M271.3 129.2h0M309.4 144.5h0M279.5 183.9h0M284.5 161.3h0M288.3 189.7h0M296.6 142.0h0M312.6 171.6h0M308.8 161.2h0M271.0 148.1h0M312.3 192.3h0M310.4 149.5h0M299.0 133.8h0M299.1 133.8h0M288.2 160.7h0M281.0 127.2h0M295.3 129.1h0M295.9 184.1h0M275.4 131.6h0M311.8 135.8h0M294.8 185.9h0M291.3 187.9h0M271.3 163.2h0M268.3 134.5h0M285.1 164.2h0M298.6 140.2h0M264.1 152.3h0M316.9 174.4h0M299.5 133.5h0M298.9 143.8h0M311.1 139.3h0M289.2 160.5h0M302.4 168.1h0M273.1 134.5h0M264.2 150.0h0M295.6 134.8h0M285.1 192.0h0M287.3 182.7h0M287.4 175.6h0M295.5 177.0h0M296.2 190.5h0M314.6 165.6h0M284.6 188.4h0M274.3 181.0h0M297.7 197.7h0M265.4 144.3h0M275.9 175.9h0M294.1 165.7h0M320.7 173.0h0M279.8 125.2h0M298.2 181.9h0M279.7 139.8h0M322.7 174.0h0M296.7 192.8h0M310.4 162.8h0M310.7 147.3h0M307.7 133.9h0M265.2 160.2h0M311.5 138.6h0M305.2 188.9h0M313.8 172.0h0M280.2 135.1h0M299.1 167.2h0M300.9 152.1h0M306.0 175.0h0M296.6 127.2h0M276.3 133.5h0M303.0 146.6h0M316.9 164.0h0M272.6 154.6h0M279.5 145.7h0M298.7 146.1h0M308.4 158.0h0M314.5 164.3h0M304.0 164.9h0M281.0 125.7h0M304.1 143.2h0M310.2 145.2h0M287.2 191.5h0M269.5 141.9h0M307.0 154.5h0M272.4 143.4h0M275.0 155.1h0M309.0 133.4h0M296.8 138.5h0M276.4 145.2h0M268.9 141.7h0M262.7 150.7h0M300.5 196.4h0M277.3 146.3h0M286.3 170.0h0M267.9 160.5h0M316.2 177.2h0M290.0 138.2h0M312.8 148.9h0M302.8 131.3h0M311.4 192.6h0M278.0 129.6h0M313.6 190.9h0M266.7 137.4h0M292.9 188.6h0M292.1 125.0h0M316.1 170.6h0M283.8 148.8h0M274.3 173.2h0M295.7 152.2h0M301.7 146.0h0M283.5 168.7h0M310.6 178.7h0M298.0 197.4h0M281.4 179.0h0M299.1 126.7h0M270.5 171.6h0M306.2 150.1h0M291.1 184.2h0M312.8 180.1h0M286.7 148.4h0M304.8 128.7h0M311.8 140.4h0M284.4 140.1h0M291.7 189.7h0M324.3 183.2h0M276.3 147.8h0M265.4 152.6h0M290.9 146.5h0M286.6 137.1h0M315.3 151.9h0M286.0 135.3h0M307.5 153.5h0M312.7 169.0h0M264.8 135.6h0M311.1 136.4h0M300.6 130.1h0M281.1 190.4h0M307.7 168.1h0M320.7 184.0h0M281.7 144.3h0M289.6 121.8h0M303.3 132.5h0M308.7 154.9h0M271.7 150.5h0M293.7 145.5h0M317.4 163.8h0M265.0 133.8h0M303.6 130.9h0M295.7 156.6h0M314.0 162.0h0M276.4 165.4h0M306.4 133.9h0M313.5 158.7h0M310.7 149.1h0M304.8 181.1h0M284.0 169.4h0M288.3 193.3h0M283.2 137.6h0M283.8 184.4h0M291.3 136.1h0M280.7 151.8h0M289.0 134.3h0M285.5 126.0h0M307.4 139.2h0M284.6 137.4h0M320.8 176.7h0M300.4 149.0h0M305.9 133.0h0M284.0 176.9h0M288.6 134.0h0M290.0 124.3h0M267.5 155.2h0M293.3 124.1h0M300.6 146.2h0M282.4 187.1h0M317.2 190.4h0M295.6 129.3h0M284.5 144.4h0M302.5 142.1h0M298.3 145.3h0M292.3 171.1h0M291.5 146.5h0M308.3 133.5h0M282.4 175.4h0M277.3 173.2h0M306.6 169.7h0M292.8 183.1h0M287.8 122.3h0M303.7 128.2h0M264.4 134.8h0M302.7 145.1h0M284.8 184.1h0M281.0 161.5h0M271.4 142.9h0" stroke="#F8766D" stroke-width="2.50" stroke-linecap="round" fill="none"/>
<path d="M240.7 64.5h0M229.1 67.4h0M232.1 58.1h0M236.4 27.2h0M237.8 59.2h0M233.5 45.1h0M238.9 65.5h0M226.8 62.9h0M234.5 66.9h0M239.3 64.9h0M229.8 32.0h0M231.7 60.5h0M232.3 39.7h0M233.0 33.8h0M237.2 50.7h0M231.4 56.8h0M232.1 52.7h0M227.4 60.4h0M232.0 55.6h0M234.0 60.6h0M229.1 42.6h0M231.1 63.4h0M231.1 57.9h0M232.8 30.6h0M235.9 29.6h0M227.6 64.5h0M231.6 51.7h0M235.8 50.8h0M230.0 61.0h0M230.6 65.1h0M235.6 56.8h0M229.4 69.7h0M233.0 47.1h0M231.4 41.4h0M240.0 60.0h0M235.7 22.8h0M241.3 60.5h0M234.3 46.6h0M236.0 57.9h0M234.6 39.2h0M239.9 61.5h0M234.0 56.1h0M232.7 49.6h0M230.3 59.9h0M231.9 44.2h0M232.2 29.7h0M229.4 65.4h0M235.1 29.5h0M241.8 60.4h0M235.5 28.8h0M228.6 54.8h0M236.6 41.4h0M235.1 54.2h0M227.6 65.5h0M229.5 64.1h0M234.0 31.3h0M231.8 53.0h0M235.2 40.5h0M233.0 24.4h0M235.5 24.6h0M231.3 59.5h0M234.6 38.7h0M233.7 27.4h0M229.8 67.4h0M228.0 60.8h0M237.8 53.3h0M231.6 38.7h0M229.3 33.3h0M230.7 69.7h0M231.9 61.1h0M237.9 58.6h0M233.7 47.0h0M228.7 65.7h0M231.8 57.2h0M231.6 65.2h0M227.3 59.3h0M230.4 56.6h0M229.3 65.9h0M233.4 27.3h0M227.3 63.7h0M227.1 31.9h0M228.8 41.9h0M232.5 61.0h0M232.4 56.3h0M230.3 41.1h0M240.1 63.4h0M236.4 38.8h0M230.8 39.4h0M232.0 44.8h0M232.3 38.6h0M238.0 65.4h0M235.2 30.3h0M236.7 27.4h0M232.9 51.5h0M232.1 45.5h0M239.2 61.1h0M232.4 63.2h0M230.9 60.8h0M230.8 63.2h0M230.0 47.3h0M232.4 25.6h0M228.0 40.5h0M232.6 34.0h0M231.2 45.3h0M234.1 51.9h0M236.9 40.0h0M230.2 52.6h0M229.1 51.7h0M230.0 30.0h0M227.7 31.2h0M230.1 29.5h0M236.7 56.2h0M235.5 50.0h0M233.0 64.9h0M234.2 64.2h0M235.7 23.9h0M227.1 55.0h0M240.8 56.1h0M228.0 36.5h0M239.5 64.6h0M236.9 69.0h0M238.4 68.0h0M232.1 43.5h0M231.0 32.4h0M230.7 28.8h0M235.9 43.9h0M235.6 47.8h0M230.4 36.2h0M228.9 67.0h0M228.0 65.4h0M228.0 58.4h0M235.0 64.1h0M234.7 70.8h0M232.6 41.9h0M231.0 34.0h0M228.3 49.7h0M230.5 26.9h0M235.8 41.2h0M227.4 37.0h0M232.5 28.9h0M232.6 37.3h0M238.6 57.1h0M240.4 62.6h0M235.1 44.9h0M226.1 55.3h0M237.9 50.9h0M229.5 69.0h0M227.0 35.1h0M229.0 52.0h0M233.3 50.1h0" stroke="#C77CFF" stroke-width="2.50" stroke-linecap="round" fill="none"/>
<path d="M324.9 34.0h0M327.3 25.2h0M325.3 27.4h0M325.7 31.8h0M320.6 32.0h0M322.6 37.1h0M326.6 26.2h0M319.7 37.2h0M323.6 39.1h0M324.1 34.3h0M323.1 33.0h0M323.5 28.5h0M323.9 31.3h0M319.8 35.4h0M324.0 29.3h0M325.2 31.3h0M326.3 24.2h0M317.9 35.1h0M323.4 27.6h0M327.0 24.4h0M324.5 36.6h0M321.9 29.6h0M321.6 37.1h0M327.3 25.7h0M323.6 32.4h0M325.0 33.2h0M319.9 37.6h0M318.9 35.3h0M327.5 26.8h0M323.7 30.7h0M326.3 28.9h0M327.4 30.4h0M319.6 30.6h0M328.1 30.7h0M325.8 27.9h0M319.7 31.2h0M325.1 26.8h0M325.4 31.2h0M321.8 37.6h0M327.3 26.0h0M327.7 29.5h0M325.1 34.0h0M322.2 32.1h0M322.7 34.3h0M326.9 31.8h0" stroke="#7CAE00" stroke-width="2.40" stroke-linecap="round" fill="none"/>
<path d="M330.7 59.1h0M327.4 61.1h0M324.4 55.8h0M321.0 65.9h0M326.3 52.1h0M326.6 63.1h0M332.3 65.2h0M320.8 60.2h0M325.6 60.3h0M328.7 59.5h0M332.6 55.2h0M325.9 60.9h0M327.2 54.4h0M326.8 56.4h0M329.0 55.0h0M324.4 60.0h0M320.1 59.0h0M331.5 62.3h0M325.3 49.8h0M326.5 56.1h0M323.2 62.8h0M333.1 58.4h0M320.1 61.9h0M324.4 65.7h0M329.5 54.8h0M330.6 58.7h0M328.7 48.3h0M321.6 65.8h0M332.3 65.5h0M319.5 49.8h0" stroke="#7CAE00" stroke-width="2.40" stroke-linecap="round" fill="none"/>
<path d="M323.1 73.8h0" stroke="#F8766D" stroke-width="2.00" stroke-linecap="round" fill="none"/>
<path d="M240.0 160.0h0M248.2 158.7h0M239.0 174.5h0M238.0 172.5h0" stroke="#00BFC4" stroke-width="2.40" stroke-linecap="round" fill="none"/>
<path d="M241.8 173.6h0" stroke="#C77CFF" stroke-width="2.40" stroke-linecap="round" fill="none"/>
<path d="M334.0 160.5h0M335.3 160.0h0M336.6 159.5h0M337.9 159.0h0M339.2 158.5h0" stroke="#F8766D" stroke-width="2.40" stroke-linecap="round" fill="none"/>
<path d="M266.5 127.0h0M268.5 126.2h0M270.3 127.5h0M267.0 129.5h0" stroke="#7CAE00" stroke-width="2.40" stroke-linecap="round" fill="none"/>
<path d="M330.0 171.0h0M331.5 172.5h0" stroke="#7CAE00" stroke-width="2.40" stroke-linecap="round" fill="none"/>
<path d="M330.5 175.0h0" stroke="#F8766D" stroke-width="2.20" stroke-linecap="round" fill="none"/>
<text x="243.3" y="86.6" font-size="9.3" text-anchor="middle" fill="#111" stroke="#111" stroke-width="0.25">WT_1</text>
<text x="334.2" y="88.0" font-size="9.3" text-anchor="middle" fill="#111" stroke="#111" stroke-width="0.25">TS_1</text>
<text x="237.8" y="205.9" font-size="9.3" text-anchor="middle" fill="#111" stroke="#111" stroke-width="0.25">WT_0</text>
<text x="320.8" y="205.9" font-size="9.3" text-anchor="middle" fill="#111" stroke="#111" stroke-width="0.25">TS_0</text>
<text x="352.6" y="17.0" font-size="17.2" text-anchor="start" fill="#000" font-weight="bold">C</text>
<text x="452.0" y="26.2" font-size="9.0" text-anchor="middle" fill="#111" font-style="italic" stroke="#111" stroke-width="0.25">Aif1</text>
<text x="396.2" y="43.6" font-size="9.0" text-anchor="middle" fill="#111" stroke="#111" stroke-width="0.25">WT</text>
<text x="487.3" y="46.2" font-size="9.0" text-anchor="middle" fill="#111" stroke="#111" stroke-width="0.25">TS</text>
<path d="M388.5 131.4h0M402.5 155.7h0M394.9 147.5h0M388.2 131.6h0M379.7 179.2h0M379.7 175.3h0M405.6 144.4h0M392.6 154.0h0M426.3 175.3h0M392.6 168.1h0M406.8 190.8h0M395.2 186.7h0M376.0 180.4h0M425.4 167.5h0M383.5 131.5h0M402.5 185.6h0M412.6 185.9h0M412.3 154.9h0M379.8 151.5h0M424.5 165.0h0M407.2 146.8h0M405.7 182.9h0M423.9 179.1h0M401.4 180.9h0M422.2 191.1h0M391.0 194.6h0M429.0 175.3h0M374.3 167.6h0M409.5 149.7h0M413.7 154.3h0M393.8 163.5h0M395.2 190.4h0M385.4 186.8h0M386.8 135.5h0M418.1 167.4h0M421.6 176.3h0M395.3 171.0h0M382.8 133.1h0M419.5 191.9h0M406.2 185.2h0M374.4 177.3h0M378.5 158.8h0M387.3 180.3h0M414.8 172.2h0M399.0 181.2h0M377.4 141.4h0M427.0 185.2h0M402.0 165.4h0M418.0 150.7h0M370.1 150.2h0M415.9 184.9h0M370.6 157.2h0M393.8 139.2h0M375.3 150.2h0M372.9 136.6h0M383.0 181.5h0M417.5 166.2h0M406.7 173.4h0M383.2 185.2h0M381.5 146.9h0M407.4 164.6h0M377.1 132.2h0M417.7 174.8h0M378.6 180.4h0M418.3 147.7h0M386.3 185.1h0M382.8 182.6h0M412.1 154.6h0M418.2 177.6h0M379.3 156.5h0M386.6 191.8h0M371.0 169.1h0M398.4 169.8h0M408.6 163.2h0M424.9 173.9h0M375.8 169.3h0M368.9 145.8h0M388.1 131.5h0M402.7 160.6h0M417.8 170.8h0M379.2 182.1h0M402.0 157.6h0M426.8 184.1h0M408.2 147.3h0M418.7 163.5h0M405.1 172.4h0M427.9 178.8h0M395.1 194.6h0M415.3 178.1h0M377.4 171.1h0M388.5 138.0h0M382.9 137.6h0M399.7 157.2h0M391.0 175.3h0M376.4 162.6h0M381.4 155.4h0M370.2 147.6h0M385.9 187.8h0M421.6 183.1h0M410.9 163.6h0M418.7 162.1h0M374.6 167.9h0M408.5 188.3h0M390.5 151.9h0M411.3 166.4h0M406.1 149.2h0M420.5 156.1h0M380.5 181.5h0M401.0 199.4h0M405.8 139.5h0M382.8 176.4h0M389.0 178.6h0M408.7 184.4h0M405.2 163.2h0M398.8 146.0h0M405.0 188.7h0M403.2 191.3h0M384.7 178.3h0M382.6 179.5h0M416.8 194.9h0M428.3 184.2h0M390.0 168.0h0M396.8 195.7h0M417.8 136.3h0M383.9 147.2h0M384.8 132.9h0M417.4 164.2h0M376.8 148.5h0M390.2 192.4h0M419.3 196.1h0M410.2 142.6h0M407.3 172.8h0M412.5 168.3h0M406.3 174.4h0M388.9 171.6h0M411.7 183.2h0M414.7 189.4h0M375.7 160.8h0M418.3 155.9h0M396.5 175.5h0M367.7 149.4h0M390.9 139.6h0M405.3 147.7h0M418.8 188.7h0M383.8 144.3h0M392.7 192.4h0M389.9 164.0h0M424.2 186.8h0M368.5 159.4h0M387.6 167.7h0M406.2 142.3h0M409.7 149.5h0M380.4 151.8h0M382.8 185.4h0M424.7 187.2h0M400.1 163.9h0M393.9 180.5h0M401.7 195.0h0M385.1 178.5h0M397.5 178.6h0M392.4 181.8h0M414.5 143.1h0M399.6 191.4h0M400.8 187.5h0M428.9 177.5h0M421.9 181.1h0M419.4 166.8h0M393.5 168.2h0M399.3 176.1h0M397.9 192.4h0M393.0 190.1h0M397.7 197.6h0M394.5 171.3h0M404.2 157.4h0M428.0 185.4h0M402.0 180.3h0M373.2 151.4h0M393.1 171.1h0M387.5 146.5h0M383.0 140.2h0M425.2 175.8h0M387.3 182.8h0M409.8 147.3h0M374.0 154.5h0M401.9 181.9h0M411.8 184.1h0M411.2 177.4h0M383.7 186.3h0M390.1 174.4h0M371.6 168.7h0M400.2 170.6h0M416.1 161.6h0M377.0 152.8h0M402.3 163.2h0M372.1 157.2h0M381.3 160.2h0M385.9 191.6h0M417.7 167.9h0M426.0 182.9h0M388.7 159.3h0M403.2 166.3h0M375.0 170.7h0M418.8 142.1h0M370.3 155.4h0M391.3 195.0h0M383.1 183.7h0M419.8 136.2h0M425.4 169.0h0M422.4 184.9h0M397.6 189.1h0M387.1 150.2h0M404.9 154.2h0M412.1 194.5h0M371.3 159.4h0M408.0 175.1h0M381.2 172.8h0M427.5 169.5h0M425.7 177.4h0M381.2 152.4h0M382.6 148.5h0M409.6 162.7h0M381.9 179.3h0M376.4 173.7h0M425.6 172.8h0M379.1 182.9h0M390.7 171.3h0M380.5 173.6h0M398.9 192.1h0M383.2 147.2h0M407.3 179.3h0M413.3 197.8h0M378.8 178.3h0M394.1 158.7h0M403.0 140.2h0M397.2 142.3h0M398.7 161.9h0M391.4 169.2h0M407.0 182.5h0M420.8 152.6h0M413.5 156.5h0M408.9 188.7h0M406.6 160.0h0M378.7 151.5h0M392.4 186.8h0M414.3 164.1h0M385.5 191.0h0M387.6 162.3h0M368.5 157.9h0M407.5 158.9h0M384.5 159.0h0M414.9 184.1h0M399.9 193.3h0M425.8 175.1h0M399.0 191.1h0M416.5 163.7h0M418.2 192.1h0M414.0 141.0h0M373.7 166.9h0M395.7 172.5h0M386.1 173.6h0M425.3 177.1h0M417.7 190.0h0M412.4 148.6h0M406.5 189.9h0M412.8 187.1h0M409.9 168.3h0M366.3 149.0h0M401.4 135.1h0M389.9 189.3h0M416.3 151.5h0M377.7 168.9h0M390.2 183.9h0M388.3 140.3h0M396.3 181.5h0M411.1 145.3h0M423.3 180.5h0M373.3 162.2h0M406.9 176.4h0M380.7 144.9h0M412.9 165.1h0M371.3 145.6h0M418.3 147.0h0M376.1 147.1h0M414.9 193.8h0M423.1 192.3h0M421.4 172.8h0M380.0 150.0h0M415.9 159.0h0M423.4 165.2h0M416.1 141.1h0M417.0 150.8h0M389.0 181.2h0M402.4 158.4h0M416.3 197.1h0M395.4 179.4h0M370.3 163.2h0M410.3 182.5h0M406.3 161.6h0M410.9 155.4h0M416.4 189.3h0M394.8 147.3h0M402.1 189.3h0M415.1 188.1h0M408.0 199.5h0M395.7 133.9h0M394.9 165.3h0M415.5 187.9h0M399.0 185.8h0M414.6 152.7h0M379.2 174.5h0M413.5 167.3h0M410.5 187.9h0M395.9 194.9h0M403.3 146.4h0M389.9 148.3h0M427.6 175.0h0M401.1 194.2h0M405.4 164.1h0M394.9 190.6h0M378.8 148.2h0M421.6 186.3h0M377.5 174.7h0M382.2 163.1h0M373.4 157.3h0M385.7 178.5h0M377.0 149.1h0M379.3 169.4h0M392.5 168.8h0M409.8 141.9h0M418.8 163.4h0M421.4 158.1h0M390.0 182.7h0M382.4 151.5h0M394.2 140.2h0M380.5 185.2h0M405.1 142.2h0M401.6 173.7h0M430.1 177.8h0M421.9 156.2h0M385.5 182.7h0M405.6 159.1h0M372.3 159.7h0M380.5 165.5h0M414.0 194.8h0M396.8 150.5h0M371.0 148.6h0M395.5 155.9h0M379.9 172.1h0M416.8 155.5h0M380.8 148.5h0M393.7 190.7h0M414.2 166.3h0M376.5 172.2h0M416.6 164.7h0M398.1 185.0h0M387.6 147.8h0M392.2 152.1h0M409.4 182.6h0M399.3 195.0h0M422.4 189.6h0M413.8 196.6h0M391.9 158.4h0M404.0 134.9h0M417.3 147.1h0M403.7 191.4h0M404.3 140.9h0M420.7 164.7h0M409.7 191.8h0M404.7 151.7h0M397.5 134.5h0M406.3 176.0h0M401.7 182.4h0M385.4 193.0h0M410.0 177.9h0M381.0 136.7h0M387.5 157.9h0M404.3 195.4h0M375.0 175.6h0M399.0 130.3h0M396.9 194.4h0M374.3 161.6h0M402.5 197.7h0M382.1 165.3h0M387.5 170.2h0M427.5 184.1h0M415.9 136.8h0M385.7 151.3h0M403.0 190.6h0M425.0 165.0h0M418.4 168.9h0M416.3 185.6h0M402.6 187.1h0M418.7 188.4h0M397.3 199.7h0M421.4 183.6h0M418.2 189.3h0M391.9 189.2h0M419.5 176.2h0M407.1 183.8h0M396.0 184.5h0M398.1 180.3h0M416.8 194.0h0M430.9 183.8h0M383.0 146.7h0M416.0 167.2h0M378.4 181.5h0M369.6 149.1h0M393.0 167.9h0M399.6 192.2h0M420.1 138.6h0M375.0 175.2h0M388.2 178.5h0M409.1 192.8h0M367.1 143.8h0M388.1 190.7h0M416.1 156.4h0M386.9 179.1h0M393.9 191.8h0M390.6 131.0h0M380.0 176.5h0M416.3 190.1h0M367.0 150.7h0M417.8 157.3h0M413.8 196.0h0M417.9 189.3h0M386.4 167.1h0M398.7 128.9h0M388.2 153.8h0M377.4 147.0h0M388.1 141.4h0M367.8 156.6h0M419.8 194.5h0M381.6 134.6h0M385.6 191.7h0M421.8 186.5h0M421.4 158.0h0M380.4 148.8h0M407.7 157.8h0M404.4 191.1h0M412.4 160.9h0M416.7 164.6h0M421.4 187.0h0M406.8 193.7h0M392.5 165.6h0M383.5 134.7h0M398.2 157.4h0M376.0 155.9h0M400.3 182.1h0M394.7 172.7h0M417.5 178.4h0M415.0 197.2h0M417.2 186.6h0M373.8 144.8h0M407.5 169.0h0M382.0 163.2h0M404.5 198.3h0M417.7 186.3h0M373.7 173.9h0M378.8 150.0h0M401.5 197.7h0M423.6 160.8h0M367.7 157.3h0M397.9 171.2h0M379.5 172.9h0M389.0 190.9h0M423.2 192.5h0M401.7 155.6h0M412.2 191.6h0M423.8 188.0h0M389.8 130.0h0M373.5 166.2h0M407.2 199.8h0M386.5 163.3h0M394.3 154.8h0M398.8 159.3h0M425.5 178.8h0M423.0 161.4h0M410.2 139.1h0M428.3 189.4h0M397.0 186.2h0M385.8 130.6h0M407.8 189.6h0M369.7 164.5h0M409.1 150.9h0M397.8 169.5h0M406.0 155.9h0M400.3 196.9h0M402.0 141.0h0M395.0 190.9h0M394.2 187.1h0M390.7 179.9h0M389.8 184.0h0M408.1 176.7h0M426.0 185.6h0M387.8 179.1h0M371.1 148.9h0M392.9 168.0h0M386.5 145.5h0M378.4 171.1h0M402.2 176.0h0M421.2 177.4h0M416.9 177.1h0M405.6 198.3h0M383.2 161.2h0M405.0 142.6h0M391.7 149.1h0M409.4 194.8h0M377.2 174.4h0M402.3 192.2h0M379.3 163.8h0M389.6 192.1h0M408.1 196.8h0M395.1 192.6h0M389.3 186.4h0M416.0 184.2h0M419.0 194.5h0M427.3 183.6h0M382.4 182.5h0M378.2 161.7h0M378.0 137.2h0M396.7 159.6h0M385.5 173.6h0M426.4 185.7h0M429.7 181.0h0M386.8 147.1h0M391.6 170.4h0M394.9 148.3h0M408.1 142.2h0M415.4 175.2h0M374.9 177.8h0M402.3 194.6h0M380.5 174.6h0M389.3 187.7h0M411.4 149.7h0M392.5 191.7h0M409.1 161.5h0M413.1 182.5h0M395.5 188.1h0M420.5 180.3h0M423.6 188.3h0M381.5 159.7h0M380.8 186.1h0M402.3 184.2h0M377.4 176.0h0M387.7 182.9h0M388.4 178.4h0M377.8 159.1h0M401.8 182.7h0M384.9 142.4h0M411.1 176.2h0M383.5 141.3h0M372.0 135.3h0M415.9 185.5h0M396.6 183.4h0M400.5 171.1h0M423.0 160.6h0M400.3 199.9h0M390.8 133.3h0M410.2 189.8h0M405.6 187.3h0M427.9 181.6h0M418.2 158.4h0M386.2 191.5h0M404.8 182.0h0M387.8 160.3h0M414.5 169.5h0M396.6 198.0h0M412.6 156.8h0M392.8 168.7h0M391.0 160.4h0M397.6 151.3h0M404.4 158.5h0M420.3 188.3h0M401.4 191.2h0M399.1 152.6h0M403.4 189.4h0M401.4 185.8h0M388.8 175.7h0M402.7 174.9h0M394.9 136.1h0M390.4 173.1h0M386.9 172.2h0M401.5 174.5h0M396.3 190.9h0M428.0 180.5h0M404.9 173.3h0M392.1 190.0h0M424.1 181.4h0M392.3 181.7h0M410.4 155.4h0M396.4 162.5h0M391.0 192.2h0M378.5 147.4h0M391.2 180.0h0M404.9 135.7h0M409.9 169.4h0M379.2 163.5h0M399.7 130.7h0M375.1 139.1h0M393.0 166.8h0M369.1 136.4h0M396.8 134.5h0M395.9 165.7h0M391.0 161.6h0M408.8 190.9h0M407.3 192.3h0M379.8 161.0h0M426.6 182.9h0M411.6 179.6h0M387.9 186.3h0M410.1 193.0h0M427.6 186.5h0M405.9 142.0h0M386.6 141.9h0M403.5 133.5h0M417.9 174.2h0M417.9 178.9h0M409.4 149.8h0M425.2 183.0h0M405.7 148.8h0M397.9 167.1h0M398.9 184.6h0M372.8 159.7h0M426.7 189.9h0M380.0 132.1h0M385.3 160.4h0M368.4 139.4h0M375.4 178.8h0M385.3 186.8h0M425.8 167.8h0M408.9 172.1h0M420.5 167.4h0M403.0 134.7h0M396.5 198.8h0M414.8 190.9h0M382.4 188.7h0M372.3 153.9h0M385.2 159.2h0M420.4 171.4h0M373.1 149.9h0M384.4 183.2h0M399.3 131.8h0M390.9 156.9h0M387.2 175.1h0M374.2 134.5h0M376.7 140.3h0M395.3 174.5h0M370.2 150.6h0M392.1 161.5h0M410.2 164.3h0M399.9 147.3h0M400.2 164.5h0M403.7 195.7h0M415.4 162.7h0M403.7 184.3h0M409.9 182.8h0M402.7 183.6h0M405.2 200.3h0M394.7 191.5h0M387.7 191.0h0M399.8 154.7h0M368.3 155.3h0M395.1 144.7h0M376.4 151.7h0M376.4 170.2h0M409.3 151.1h0M374.2 173.3h0M394.9 162.6h0M373.3 135.1h0M393.4 144.5h0M420.5 144.8h0M395.0 176.4h0M366.4 149.2h0M376.7 142.2h0M404.2 172.6h0M388.2 175.3h0M411.6 184.5h0M423.5 162.9h0M375.0 134.5h0M368.8 140.8h0M416.5 143.9h0M379.2 164.7h0M417.7 163.3h0M405.6 161.1h0M395.1 141.1h0M420.6 190.9h0M401.5 154.4h0M406.4 197.5h0M393.9 165.2h0M415.2 189.9h0M418.9 190.8h0M383.6 174.4h0M390.5 170.4h0M417.5 149.9h0M379.1 181.7h0M398.5 180.9h0M398.7 157.3h0M383.2 142.7h0M424.1 182.0h0M397.6 173.8h0M416.0 170.3h0M391.1 159.3h0M406.1 143.8h0M378.7 142.4h0M428.5 180.1h0M414.4 141.5h0M394.4 150.1h0M381.9 183.7h0M372.4 142.0h0M406.3 170.1h0M384.6 176.3h0M376.2 139.7h0M382.1 151.8h0M412.5 140.8h0M374.1 146.4h0M405.2 198.2h0M390.5 166.7h0M412.1 174.3h0M401.7 174.4h0M386.8 131.6h0M425.8 168.7h0M411.3 164.2h0M422.6 183.0h0M374.1 177.1h0M420.1 178.1h0M420.3 177.3h0M381.2 179.6h0M384.9 182.9h0M381.6 133.4h0M420.7 150.5h0M424.0 179.4h0M384.1 176.9h0M401.7 162.5h0M418.6 145.2h0M390.3 186.1h0M421.3 190.3h0M383.7 156.7h0M383.9 151.0h0M376.5 147.3h0M420.8 145.9h0M399.9 169.9h0M397.6 173.7h0M403.7 179.4h0M402.2 137.9h0M402.1 156.0h0M401.8 190.5h0M367.1 138.4h0M408.7 165.6h0M401.7 165.9h0M416.8 162.1h0M386.9 160.1h0M400.9 146.1h0M399.0 199.6h0M382.8 181.4h0M404.7 182.3h0M426.3 169.2h0M385.5 155.1h0M407.3 198.2h0M419.7 172.8h0M387.1 179.9h0M388.6 192.5h0M395.0 150.3h0M367.7 155.5h0M429.3 181.6h0M401.1 174.0h0M394.8 142.6h0M394.0 192.6h0M405.7 146.0h0M410.4 175.0h0M391.2 188.7h0M415.6 170.5h0M410.1 187.3h0M403.4 180.5h0M397.8 159.4h0M389.6 154.0h0M402.7 154.4h0M404.6 135.7h0M382.9 189.9h0M416.8 190.0h0M397.5 174.7h0M415.5 150.2h0M409.0 185.1h0M397.5 143.0h0M401.3 165.4h0M414.2 159.2h0M413.4 183.9h0M384.8 179.4h0M389.4 182.4h0M418.7 152.4h0M410.2 174.5h0M402.2 192.4h0M414.1 166.9h0M408.0 176.3h0M410.1 184.3h0M421.5 179.4h0M379.6 185.0h0M410.5 197.6h0M417.6 150.6h0M396.3 180.9h0M387.7 170.9h0M391.8 180.6h0M395.3 159.4h0M387.1 184.9h0M398.1 183.6h0M378.0 166.6h0M392.1 173.3h0M374.1 167.3h0M381.6 179.9h0M385.6 145.0h0M375.4 179.5h0M419.2 180.0h0M417.4 182.9h0M419.6 156.2h0M393.7 135.7h0M406.0 162.7h0M393.5 180.1h0M407.8 151.6h0M420.8 160.4h0M430.4 183.7h0M403.9 193.5h0M404.8 172.0h0M405.7 142.9h0M397.4 191.2h0M376.0 155.1h0M416.9 191.5h0M414.6 182.4h0M397.2 168.4h0M400.3 166.2h0M413.5 168.2h0M412.6 146.0h0M422.4 187.8h0M417.9 178.5h0M417.1 185.4h0M390.3 191.2h0M367.0 139.4h0M420.0 191.1h0M416.7 176.5h0M402.6 145.6h0M394.3 170.8h0M420.9 169.0h0M374.3 146.3h0M427.6 175.3h0M408.6 186.6h0M370.4 165.9h0M411.0 164.7h0M379.5 141.7h0M410.9 164.7h0M412.7 162.2h0M417.2 188.5h0M425.5 174.6h0M405.1 183.0h0M390.1 192.3h0M381.1 172.1h0M400.9 186.8h0M408.1 182.5h0M418.6 143.3h0M381.5 167.0h0M406.0 151.4h0M425.3 187.2h0M381.1 145.8h0M407.0 169.2h0M391.7 164.7h0M416.8 179.5h0M421.9 155.2h0M404.1 184.7h0M371.6 161.3h0M409.4 187.2h0M420.0 150.2h0M387.2 149.5h0M380.1 172.5h0M397.3 189.6h0M395.7 181.0h0M397.4 152.9h0M407.4 179.8h0M427.8 174.6h0M416.7 136.3h0M419.2 161.0h0M390.0 148.4h0M403.0 173.4h0M415.1 182.2h0M406.5 190.6h0M373.9 147.5h0M390.0 176.2h0M371.8 161.4h0M404.3 148.1h0M416.3 165.6h0M409.5 182.9h0M394.1 186.0h0M410.3 176.5h0M387.3 177.0h0M413.7 161.8h0M414.3 187.6h0M394.6 180.5h0M416.9 147.8h0M413.4 170.3h0M389.4 166.9h0M429.5 178.4h0M385.7 145.0h0M398.4 146.7h0M387.5 153.2h0M391.9 193.6h0M415.8 195.1h0M407.7 183.9h0M385.7 167.6h0M404.7 173.0h0M419.7 182.9h0M382.2 183.3h0M373.9 153.1h0M399.4 158.6h0M415.3 177.3h0M390.1 180.4h0M402.2 154.6h0M390.1 160.6h0M395.4 127.1h0M410.6 198.2h0M400.5 188.5h0M386.1 175.1h0M420.3 190.2h0M388.1 176.5h0M405.1 142.7h0M411.2 155.7h0M416.7 185.1h0M375.3 167.0h0M424.3 174.8h0M394.5 140.4h0M376.8 166.8h0M417.4 186.5h0M419.7 173.0h0M400.8 196.5h0M418.1 186.9h0M390.4 167.6h0M367.7 152.3h0M374.7 154.6h0M417.5 168.9h0M390.2 174.2h0M403.1 155.3h0M391.3 176.4h0M419.2 163.8h0M407.5 171.6h0M407.9 172.6h0M408.2 162.0h0M399.6 136.9h0M406.8 154.8h0M409.4 153.9h0M380.4 150.5h0M400.8 144.7h0M391.9 149.4h0M389.3 185.5h0M400.9 162.8h0M429.0 175.0h0M427.4 191.4h0M399.9 144.4h0M401.8 181.3h0M400.4 168.1h0M391.6 173.2h0M418.2 187.5h0M406.3 190.3h0M423.5 176.3h0M411.3 151.3h0M376.2 141.8h0M406.7 172.8h0M367.7 145.1h0M411.9 189.2h0M410.8 166.1h0M381.0 186.4h0M417.5 186.6h0M417.2 194.4h0M374.9 147.2h0M400.1 183.5h0M398.3 162.2h0M401.7 197.0h0M391.7 154.6h0M389.6 132.6h0M387.8 157.7h0M391.1 182.4h0M398.1 171.7h0M393.2 140.6h0M392.1 167.4h0M420.0 186.5h0M402.1 195.1h0M393.2 162.4h0M383.3 187.6h0M384.1 151.5h0M382.4 177.5h0M405.8 190.1h0M416.4 186.2h0M381.7 169.6h0M421.9 170.7h0M382.7 180.0h0M389.0 173.0h0M420.4 165.8h0M395.8 161.3h0M407.7 194.1h0M398.1 173.7h0M410.6 184.8h0M371.9 167.7h0M405.1 184.4h0M403.8 173.0h0M388.6 175.6h0M399.8 165.9h0" stroke="#D4D4D4" stroke-width="2.10" stroke-linecap="round" fill="none"/>
<path d="M382.8 176.4h0M380.4 150.5h0M424.3 174.8h0M382.1 165.3h0M380.5 165.5h0M383.2 161.2h0M386.2 191.5h0M414.9 184.1h0M421.4 158.0h0M402.3 163.2h0M396.0 184.5h0M414.0 194.8h0M417.9 178.5h0M415.5 150.2h0M391.1 159.3h0M397.9 192.4h0M376.0 155.9h0M393.8 163.5h0M388.1 141.4h0M412.1 194.5h0M394.3 170.8h0M375.7 160.8h0M397.4 152.9h0M375.0 170.7h0M398.7 161.9h0M379.9 172.1h0M405.6 187.3h0M390.2 183.9h0M381.1 145.8h0M376.2 141.8h0M398.3 162.2h0M398.7 157.3h0M401.0 199.4h0M388.8 175.7h0M370.1 150.2h0M405.9 142.0h0M384.9 182.9h0M385.7 167.6h0M394.3 154.8h0M425.4 167.5h0M401.4 191.2h0M408.9 188.7h0M428.0 180.5h0M392.2 152.1h0M378.7 142.4h0M411.2 155.7h0M410.5 197.6h0M400.8 144.7h0M410.1 193.0h0M380.0 150.0h0M367.7 155.5h0M399.0 185.8h0M385.7 178.5h0M378.8 150.0h0M402.7 183.6h0M387.8 160.3h0M405.6 198.3h0M423.3 180.5h0M410.3 176.5h0M415.4 175.2h0M414.2 166.3h0M405.1 142.2h0M410.2 189.8h0M392.1 167.4h0M386.8 147.1h0M397.5 178.6h0" stroke="#9C80EC" stroke-width="2.10" stroke-linecap="round" fill="none"/>
<path d="M408.1 142.2h0M376.4 173.7h0M394.9 162.6h0M428.0 185.4h0M402.3 184.2h0M380.4 148.8h0M414.3 187.6h0M409.5 182.9h0M377.4 176.0h0M395.1 141.1h0M372.3 159.7h0M403.7 184.3h0M372.9 136.6h0M386.8 131.6h0M392.5 165.6h0M378.2 161.7h0M385.7 145.0h0M390.0 148.4h0M411.6 184.5h0M396.3 181.5h0M393.5 180.1h0M387.7 191.0h0M378.4 181.5h0M418.3 147.7h0M392.7 192.4h0M401.7 174.4h0M378.4 171.1h0M425.0 165.0h0M374.4 177.3h0M421.4 187.0h0M410.5 187.9h0M371.6 168.7h0M416.7 136.3h0M400.9 162.8h0M370.2 147.6h0M373.7 166.9h0M392.1 190.0h0M388.5 131.4h0M394.9 165.3h0M388.7 159.3h0M400.3 199.9h0M416.3 197.1h0M386.3 185.1h0M385.7 151.3h0" stroke="#6240E8" stroke-width="2.10" stroke-linecap="round" fill="none"/>
<path d="M493.0 158.0h0M465.7 158.8h0M514.9 183.4h0M487.8 173.0h0M491.4 143.3h0M495.9 200.8h0M512.8 175.2h0M492.5 161.2h0M500.8 146.3h0M481.5 192.9h0M492.5 162.1h0M461.9 150.8h0M477.5 137.7h0M490.1 159.0h0M510.5 164.3h0M487.9 181.4h0M482.0 147.9h0M468.1 146.7h0M475.9 172.5h0M463.9 139.3h0M509.3 185.6h0M512.9 167.9h0M477.5 175.5h0M487.2 160.2h0M484.8 194.2h0M476.7 191.3h0M495.3 151.5h0M493.5 160.2h0M492.7 155.8h0M509.0 191.3h0M498.6 136.2h0M506.0 180.2h0M476.9 181.6h0M501.7 141.2h0M500.6 171.3h0M489.7 143.7h0M507.1 192.2h0M514.2 159.1h0M474.6 155.8h0M495.5 137.4h0M474.5 173.9h0M508.7 141.1h0M483.2 144.1h0M492.4 158.0h0M505.9 156.0h0M471.6 140.0h0M506.0 140.9h0M471.1 180.5h0M467.1 149.1h0M482.7 166.3h0M489.2 142.5h0M467.5 161.8h0M488.3 132.7h0M483.6 132.0h0M489.5 195.8h0M480.7 142.3h0M505.9 147.5h0M492.2 151.8h0M485.7 144.8h0M461.1 157.3h0M517.0 178.8h0M461.0 145.0h0M478.8 193.8h0M476.5 160.9h0M477.2 189.1h0M505.8 197.2h0M486.6 147.0h0M514.1 179.2h0M479.9 153.6h0M465.9 169.1h0M466.6 146.7h0M492.6 201.4h0M513.0 143.6h0M477.3 135.0h0M471.3 157.8h0M502.0 177.2h0M522.6 191.2h0M499.1 174.4h0M497.8 179.2h0M500.9 179.7h0M467.0 140.9h0M507.3 155.2h0M506.1 146.8h0M515.5 189.0h0M515.4 158.2h0M508.3 173.1h0M477.7 145.1h0M475.2 159.3h0M490.3 194.2h0M466.5 173.1h0M462.5 147.9h0M494.6 145.3h0M489.0 155.4h0M471.3 155.8h0M514.5 159.5h0M520.1 174.8h0M476.5 144.2h0M463.7 144.3h0M471.7 142.0h0M471.5 157.0h0M461.9 147.3h0M499.9 165.3h0M500.3 176.8h0M506.8 142.8h0M506.3 167.2h0M467.3 146.7h0M491.3 154.4h0M486.0 148.8h0M490.9 187.7h0M474.7 148.5h0M496.3 183.1h0M476.9 136.9h0M482.1 152.0h0M481.0 175.4h0M472.5 156.9h0M496.5 180.0h0M491.9 186.9h0M463.1 158.9h0M473.7 155.4h0M479.6 180.4h0M499.9 177.4h0M488.6 142.7h0M474.6 168.9h0M476.2 161.6h0M518.4 173.0h0M472.3 183.8h0M465.7 158.7h0M481.4 180.0h0M475.2 137.8h0M470.5 151.0h0M471.8 167.1h0M469.3 136.0h0M503.3 160.3h0M472.6 136.1h0M480.0 162.2h0M461.5 159.2h0M507.6 145.1h0M469.1 169.6h0M513.9 162.0h0M476.3 139.1h0M478.8 155.9h0M502.8 135.6h0M509.3 139.2h0M477.4 162.3h0M463.2 154.6h0M512.9 151.4h0M494.7 174.8h0M475.5 154.3h0M486.3 199.2h0M499.3 172.8h0M514.3 154.8h0M499.2 186.6h0M474.3 147.6h0M509.3 191.3h0M506.1 176.0h0M494.5 139.1h0M504.2 141.0h0M509.9 137.8h0M499.6 186.8h0M470.6 149.8h0M517.0 168.2h0M511.0 185.3h0M508.5 157.0h0M504.2 136.6h0M508.8 184.9h0M514.4 166.2h0M513.6 145.9h0M468.5 146.5h0M475.4 158.9h0M463.7 150.8h0M474.0 168.5h0M465.3 168.9h0M485.2 156.6h0M491.8 201.5h0M482.0 148.8h0M494.7 135.8h0M490.4 176.3h0M464.4 145.0h0M493.3 142.5h0M475.7 133.2h0M498.0 159.5h0M504.8 179.9h0M489.9 160.9h0M487.7 167.8h0M498.9 151.3h0M486.3 146.7h0M497.2 192.5h0M502.4 196.2h0M509.5 172.5h0M514.3 178.1h0M510.6 185.6h0M478.6 142.8h0M460.0 146.5h0M472.4 150.7h0M466.5 143.2h0M468.2 147.2h0M486.2 188.5h0M493.5 165.1h0M501.7 154.9h0M492.5 143.8h0M491.8 153.7h0M487.6 153.4h0M481.6 162.1h0M495.0 187.5h0M488.9 181.0h0M484.3 132.9h0M468.6 143.9h0M499.1 197.0h0M483.9 195.8h0M477.7 153.2h0M495.5 190.1h0M504.8 157.3h0M479.0 154.6h0M471.3 149.0h0M485.8 198.5h0M518.6 172.3h0M507.8 139.7h0M487.3 137.7h0M467.1 165.1h0M489.4 138.8h0M509.2 195.7h0M468.7 141.1h0M474.2 151.4h0M513.9 148.3h0M494.6 134.7h0M481.7 136.6h0M498.6 153.1h0M478.9 192.5h0M495.3 159.9h0M512.1 148.6h0M497.9 198.8h0M475.2 143.9h0M496.8 158.8h0M478.9 185.7h0M468.1 162.6h0M502.6 170.3h0M505.2 155.0h0M500.3 160.4h0M496.9 142.5h0M507.6 163.2h0M470.1 166.8h0M474.0 154.9h0M497.3 187.1h0M493.7 193.2h0M482.7 137.1h0M475.8 172.1h0M477.6 137.8h0M468.1 159.6h0M491.5 173.7h0M466.5 142.5h0M480.4 134.7h0M484.4 183.3h0M464.1 142.6h0M495.7 185.6h0M504.6 148.1h0M466.2 165.0h0M497.0 170.6h0M495.5 184.8h0M508.0 169.8h0M498.4 194.3h0M475.9 185.3h0M485.3 177.6h0M513.6 160.2h0M476.2 141.6h0M487.8 186.4h0M482.5 142.1h0M499.3 174.0h0M485.6 155.4h0M505.0 157.5h0M509.8 168.9h0M491.5 140.0h0M497.6 191.0h0M511.1 156.9h0M471.6 163.6h0M511.5 156.5h0M502.8 162.2h0M509.2 181.1h0M472.5 177.2h0M504.1 167.3h0M501.2 156.2h0M478.4 190.5h0M488.2 170.1h0M521.8 181.8h0M507.7 164.4h0M508.9 153.9h0M476.4 178.2h0M514.5 146.5h0M483.6 168.6h0M513.5 163.8h0M462.6 153.5h0M507.3 173.5h0M493.3 185.4h0M477.8 184.4h0M471.7 141.1h0M504.4 148.2h0M511.5 149.8h0M490.9 156.2h0M473.0 149.0h0M501.6 144.9h0M505.9 165.0h0M477.8 190.2h0M497.3 185.1h0M505.3 154.3h0M467.4 139.0h0M511.6 149.5h0M497.2 181.5h0M487.2 154.2h0M483.3 185.5h0M480.9 146.0h0M490.1 180.3h0M485.3 181.5h0M500.1 160.4h0M503.0 153.5h0M501.3 145.6h0M524.4 190.8h0M472.8 146.5h0M494.9 175.3h0M481.5 192.0h0M507.8 194.9h0M512.9 143.1h0M481.5 154.7h0M478.3 175.3h0M490.6 143.9h0M471.4 163.6h0M510.9 176.8h0M498.0 149.4h0M510.6 179.0h0M484.5 151.8h0M489.4 176.6h0M495.0 172.5h0M465.2 146.5h0M470.7 149.8h0M510.9 164.3h0M506.8 188.1h0M487.9 153.0h0M464.5 164.2h0M503.9 168.0h0M499.0 157.0h0M478.7 179.4h0M489.2 174.4h0M481.9 175.7h0M487.8 145.8h0M464.1 170.3h0M494.5 136.4h0M499.3 138.8h0M495.5 178.0h0M483.7 161.0h0M507.7 148.7h0M484.5 172.1h0M522.0 178.4h0M477.8 165.3h0M476.7 154.2h0M512.6 146.4h0M520.0 187.3h0M522.3 186.8h0M489.0 173.8h0M486.2 167.9h0M494.1 167.2h0M503.3 164.7h0M515.0 168.2h0M485.2 172.0h0M499.1 201.2h0M497.3 186.8h0M481.9 171.2h0M500.6 137.2h0M480.9 133.5h0M484.5 168.9h0M466.5 143.6h0M486.1 158.3h0M509.2 145.1h0M466.6 148.9h0M513.9 155.2h0M499.8 164.4h0M495.1 184.5h0M511.4 183.6h0M483.7 187.5h0M499.8 191.1h0M473.6 174.1h0M478.7 164.1h0M493.2 143.8h0M521.0 187.1h0M508.4 150.6h0M500.4 173.7h0M462.5 160.4h0M496.4 161.0h0M476.6 134.7h0M486.7 135.9h0M511.4 191.7h0M488.7 169.3h0M476.9 173.7h0M461.8 158.5h0M486.3 169.4h0M486.9 141.2h0M495.3 170.4h0M472.1 173.8h0M493.3 173.2h0M496.1 164.8h0M467.2 168.0h0M486.7 149.8h0M512.0 148.2h0M498.2 184.4h0M496.4 141.5h0M483.7 169.1h0M504.9 163.9h0M500.3 182.5h0M510.5 184.6h0M470.7 171.0h0M471.5 139.2h0M495.1 172.1h0M518.2 185.2h0M509.7 164.6h0M487.8 184.0h0M468.3 152.7h0M512.9 188.2h0M471.9 147.5h0M483.3 179.5h0M514.1 150.8h0M488.6 144.3h0M513.8 172.5h0M484.6 192.0h0M491.0 164.5h0M496.6 178.1h0M478.6 169.1h0M464.1 151.7h0M490.4 172.9h0M491.3 169.1h0M487.1 169.5h0M481.1 144.8h0M476.5 161.9h0M469.8 180.8h0M499.8 171.7h0M483.2 132.4h0M511.6 174.7h0M466.3 160.8h0M482.6 182.3h0M492.5 197.7h0M472.1 183.2h0M504.2 140.6h0M500.2 141.3h0M516.4 190.7h0M482.1 166.4h0M470.2 164.9h0M474.0 161.9h0M486.9 148.1h0M475.7 147.7h0M502.3 180.5h0M472.7 145.5h0M493.8 198.3h0M500.7 150.1h0M484.0 132.0h0M482.6 172.6h0M521.6 184.1h0M500.1 188.9h0M499.5 159.8h0M502.5 151.3h0M506.4 195.7h0M484.8 188.9h0M486.3 156.0h0M464.1 156.6h0M482.0 153.7h0M486.1 148.2h0M511.4 166.1h0M509.8 137.9h0M496.0 148.0h0M468.5 150.0h0M473.7 169.1h0M507.0 177.9h0M476.4 168.6h0M508.9 142.8h0M466.2 151.7h0M496.6 140.9h0M492.4 192.0h0M497.4 135.9h0M495.0 201.0h0M465.8 148.9h0M513.7 182.0h0M493.8 169.7h0M498.3 140.8h0M494.5 186.1h0M507.7 189.2h0M475.5 150.3h0M506.3 148.5h0M485.0 183.4h0M471.9 177.9h0M472.4 154.1h0M477.8 166.3h0M509.3 188.8h0M473.9 177.1h0M481.8 166.4h0M492.8 179.1h0M467.1 170.9h0M510.9 151.5h0M517.5 177.7h0M475.7 180.6h0M476.6 137.8h0M471.2 185.3h0M487.5 142.2h0M501.6 137.4h0M486.0 135.8h0M472.4 163.2h0M490.9 182.1h0M505.1 157.6h0M477.4 135.1h0M494.1 174.9h0M508.2 178.8h0M509.4 196.8h0M511.1 141.0h0M487.3 180.7h0M512.7 174.6h0M515.8 178.8h0M493.8 190.4h0M479.0 132.8h0M516.2 177.0h0M480.8 152.2h0M492.6 196.7h0M485.0 191.2h0M477.8 179.0h0M499.9 192.8h0M511.2 153.9h0M471.1 147.2h0M500.0 137.2h0M492.5 139.9h0M491.8 139.5h0M472.9 185.9h0M506.8 167.6h0M480.9 141.2h0M505.0 184.9h0M508.1 153.9h0M486.6 137.1h0M500.6 169.1h0M486.3 178.7h0M467.6 138.3h0M468.9 145.1h0M477.5 167.7h0M521.1 176.4h0M495.5 168.7h0M501.0 184.9h0M489.9 175.0h0M511.8 155.4h0M484.8 137.6h0M474.4 173.4h0M496.0 177.8h0M470.0 141.1h0M477.7 152.3h0M481.7 191.8h0M482.0 132.8h0M509.5 166.4h0M513.3 177.5h0M472.2 157.5h0M513.0 180.0h0M501.6 164.8h0M494.7 152.6h0M484.7 185.4h0M478.6 171.7h0M509.3 143.6h0M491.6 166.1h0M511.3 180.1h0M500.3 155.2h0M500.9 171.6h0M478.3 159.3h0M492.1 155.1h0M503.9 158.5h0M489.7 134.6h0M506.7 154.5h0M509.4 149.4h0M484.7 185.8h0M493.0 167.1h0M462.1 152.0h0M477.2 160.6h0M513.6 187.3h0M486.6 176.4h0M482.4 150.3h0M516.6 175.5h0M497.6 149.5h0M473.5 134.5h0M497.3 136.8h0M490.3 152.6h0M481.8 195.6h0M477.8 154.5h0M477.8 159.3h0M509.8 190.1h0M486.5 145.9h0M485.6 150.2h0M476.7 138.2h0M481.3 134.1h0M509.2 141.0h0M482.5 163.9h0M520.3 189.0h0M475.2 148.6h0M519.7 184.2h0M509.3 158.0h0M513.5 164.1h0M501.5 162.4h0M494.8 148.5h0M466.0 165.0h0M466.8 149.7h0M477.1 138.4h0M473.0 170.5h0M494.9 150.5h0M500.1 140.2h0M502.5 144.2h0M509.9 150.5h0M505.2 147.6h0M478.6 176.0h0M494.2 188.3h0M478.7 132.4h0M481.1 149.8h0M511.4 141.6h0M495.7 191.0h0M498.9 148.3h0M498.1 158.7h0M482.2 164.3h0M495.8 139.3h0M476.5 154.2h0M480.0 132.2h0M508.6 193.2h0M499.9 163.6h0M500.0 187.6h0M467.2 160.3h0M501.6 160.1h0M511.0 156.3h0M486.0 168.9h0M468.9 174.1h0M509.8 175.2h0M507.2 140.9h0M506.6 145.5h0M488.5 193.3h0M506.3 158.3h0M484.0 185.1h0M491.5 159.5h0M504.2 169.3h0M487.9 177.1h0M506.5 160.7h0M500.8 149.1h0M491.4 142.6h0M463.2 144.4h0M510.4 153.5h0M505.1 194.5h0M488.9 175.9h0M521.6 187.4h0M514.8 170.5h0M521.5 183.5h0M466.3 156.3h0M506.3 160.0h0M485.0 146.9h0M516.3 174.7h0M508.2 173.0h0M487.7 130.8h0M473.7 176.4h0M496.0 178.0h0M513.7 168.3h0M514.1 156.1h0M480.5 193.5h0M481.5 144.4h0M489.8 175.5h0M490.1 148.3h0M479.3 149.7h0M491.6 135.2h0M485.4 177.3h0M523.4 186.9h0M492.0 135.6h0M486.3 148.3h0M464.9 138.1h0M493.2 181.6h0M462.5 148.5h0M504.8 144.2h0M506.8 163.8h0M517.3 192.0h0M515.4 182.1h0M493.3 182.9h0M480.1 189.9h0M493.4 132.3h0M486.7 164.9h0M475.4 179.7h0M497.7 135.4h0M505.4 177.0h0M516.2 174.6h0M511.9 154.9h0M497.4 168.7h0M466.3 160.0h0M474.8 185.9h0M486.6 167.0h0M467.0 176.7h0M477.0 191.7h0M474.7 137.7h0M518.3 178.4h0M474.1 145.1h0M469.3 137.4h0M500.7 140.0h0M505.4 162.3h0M469.1 164.9h0M469.2 141.6h0M511.5 170.8h0M504.4 190.3h0M492.4 172.9h0M497.9 141.4h0M503.5 155.0h0M474.5 172.6h0M501.4 160.6h0M475.4 175.0h0M508.0 168.7h0M468.8 149.5h0M465.2 156.5h0M495.0 162.5h0M472.1 173.5h0M497.0 140.0h0M491.8 141.3h0M466.5 149.7h0M483.1 132.2h0M504.4 185.2h0M471.6 165.3h0M463.0 146.9h0M466.3 138.9h0M487.5 193.4h0M494.0 142.2h0M500.6 191.6h0M469.8 140.9h0M497.5 182.2h0M515.8 166.9h0M492.6 169.8h0M469.0 149.6h0M492.1 196.1h0M522.5 188.7h0M470.9 175.4h0M517.5 175.1h0M492.2 155.5h0M488.3 158.6h0M485.8 168.1h0M508.7 144.9h0M511.8 181.2h0M461.6 150.8h0M481.5 191.0h0M463.7 140.0h0M503.6 141.7h0M503.6 139.5h0M516.5 168.5h0M461.9 151.8h0M492.2 181.4h0M478.8 180.5h0M503.6 193.3h0M485.9 138.8h0M474.5 188.7h0M492.1 170.8h0M481.1 189.4h0M509.2 146.1h0M505.6 147.1h0M478.4 172.1h0M496.3 187.5h0M507.2 176.0h0M500.7 179.7h0M474.2 160.5h0M504.9 160.1h0M485.0 159.1h0M509.1 185.0h0M515.5 180.7h0M490.9 178.4h0M492.5 161.8h0M476.5 135.6h0M461.8 150.0h0M470.3 149.4h0M505.7 192.3h0M509.8 175.8h0M507.0 153.1h0M504.0 166.3h0M487.8 145.2h0M512.1 170.2h0M500.8 155.6h0M510.2 139.1h0M501.3 192.0h0M496.7 160.3h0M495.8 191.4h0M512.6 150.8h0M501.3 172.1h0M465.5 156.1h0M508.6 140.7h0M490.7 177.1h0M502.7 146.9h0M487.1 181.0h0M499.8 185.5h0M501.4 184.1h0M509.9 160.7h0M502.3 170.7h0M473.1 137.1h0M472.6 185.1h0M509.5 137.7h0M486.0 146.8h0M508.4 174.4h0M498.1 198.2h0M474.7 136.7h0M483.5 178.3h0M475.9 190.7h0M478.8 139.4h0M510.1 167.8h0M473.5 159.9h0M484.5 155.5h0M509.0 162.8h0M497.4 189.1h0M493.5 163.3h0M498.0 171.9h0M469.7 177.6h0M486.7 147.9h0M471.4 145.5h0M468.4 151.6h0M476.9 156.1h0M499.2 153.0h0M515.6 157.7h0M480.6 144.7h0M490.3 196.6h0M513.1 146.3h0M481.5 182.4h0M496.5 160.9h0M496.4 201.6h0M480.8 146.8h0M500.6 174.5h0M474.7 154.9h0M486.4 150.7h0M497.3 195.5h0M493.4 171.6h0M492.8 133.5h0M480.4 181.4h0M488.0 186.9h0M477.3 179.3h0M498.1 169.5h0M471.2 159.8h0M515.9 179.4h0M468.6 178.1h0M512.6 160.7h0M481.6 180.9h0M506.0 154.9h0M505.7 151.5h0M471.4 157.3h0M508.6 139.8h0M494.1 144.7h0M502.7 161.5h0M502.0 148.7h0M503.7 138.8h0M498.5 164.4h0M520.6 183.6h0M519.5 176.3h0M484.2 198.3h0M506.6 161.7h0M503.1 151.2h0M484.9 162.4h0M521.2 183.3h0M492.4 138.1h0M478.0 175.8h0M502.7 158.5h0M520.9 179.5h0M475.7 137.5h0M510.1 193.4h0M504.3 152.0h0M480.0 139.9h0M486.5 189.7h0M487.2 148.2h0M479.8 191.6h0M479.9 147.4h0M515.1 165.4h0M508.2 179.3h0M507.9 175.2h0M489.8 192.9h0M512.9 143.4h0M492.7 162.1h0M518.3 169.4h0M489.7 134.6h0M516.3 163.7h0M475.3 140.8h0M483.9 171.7h0M513.4 160.4h0M488.1 139.4h0M476.7 136.6h0M493.9 143.9h0M479.6 193.3h0M480.2 145.1h0M500.2 183.8h0M471.7 159.1h0M462.2 148.4h0M511.9 174.8h0M500.1 178.2h0M492.9 168.6h0M508.8 159.0h0M502.0 168.4h0M499.2 196.3h0M480.3 171.4h0M475.5 162.3h0M478.3 173.5h0M491.8 176.8h0M464.3 169.8h0M473.5 145.1h0M504.2 149.4h0M481.1 164.7h0M507.0 145.0h0M480.5 190.8h0M512.0 152.1h0M508.1 179.8h0M503.8 188.1h0M466.8 144.5h0M473.1 174.9h0M461.5 161.8h0M463.6 151.2h0M501.9 150.5h0M463.2 157.3h0M496.0 144.9h0M467.4 140.1h0M506.6 157.6h0M472.7 145.8h0M470.0 147.4h0M493.1 135.3h0M508.4 172.1h0M470.8 136.1h0M485.9 186.5h0M469.5 178.5h0M486.1 192.8h0M487.3 170.7h0M479.7 188.8h0M488.3 149.9h0M492.6 157.1h0M500.7 182.3h0M492.9 182.9h0M483.8 164.3h0M479.9 162.2h0M469.4 150.2h0M469.9 160.5h0M496.6 156.8h0M477.5 146.1h0M467.8 140.4h0M501.2 200.4h0M470.7 164.3h0M509.7 185.6h0M478.1 136.8h0M488.8 141.5h0M488.4 141.0h0M476.8 185.9h0M496.1 140.9h0M509.4 169.1h0M481.6 183.8h0M468.7 141.3h0M495.6 159.1h0M490.3 177.9h0M486.0 155.5h0M461.8 150.1h0M506.5 149.6h0M470.8 147.0h0M493.8 157.6h0M504.6 166.0h0M482.7 175.6h0M494.9 146.3h0M507.9 173.5h0M503.8 187.5h0M471.7 150.1h0M487.4 142.9h0M495.1 190.5h0M501.0 180.2h0M471.3 159.3h0M515.1 173.0h0M488.7 196.1h0M482.4 140.4h0M499.9 155.2h0M511.2 149.5h0M512.8 168.2h0M500.4 180.2h0M477.1 178.0h0M473.6 168.8h0M496.7 150.3h0M487.1 189.8h0M483.6 136.4h0M512.1 173.5h0M469.2 141.4h0M505.6 155.5h0M511.0 174.3h0M476.8 155.7h0M469.5 154.3h0M470.5 170.7h0M463.5 139.9h0M473.0 163.3h0M509.8 176.1h0M478.0 156.0h0M508.4 179.8h0M471.9 137.3h0M490.8 198.6h0M494.5 162.1h0M477.9 150.5h0M505.0 152.1h0M482.3 189.2h0M514.1 158.2h0M496.5 154.5h0M502.3 171.3h0M491.7 164.8h0M498.6 157.2h0M504.6 176.0h0M490.9 164.8h0M491.9 181.3h0M473.9 151.8h0M470.3 163.9h0M479.0 160.3h0M495.6 169.5h0M476.7 166.5h0M490.1 172.6h0M518.0 171.1h0M501.9 191.6h0M512.5 163.8h0" stroke="#D4D4D4" stroke-width="2.10" stroke-linecap="round" fill="none"/>
<path d="M508.6 193.2h0M508.4 174.4h0M499.0 157.0h0M503.0 153.5h0M474.0 161.9h0M497.3 185.1h0M489.7 143.7h0M482.0 147.9h0M487.9 181.4h0M495.8 191.4h0M481.6 183.8h0M499.9 177.4h0M464.1 156.6h0M488.8 141.5h0M507.2 176.0h0M466.2 165.0h0M471.4 163.6h0M512.1 173.5h0M501.4 160.6h0M463.7 140.0h0M466.6 148.9h0M486.3 199.2h0M492.5 197.7h0M486.1 158.3h0M486.6 176.4h0M483.2 132.4h0M495.8 139.3h0M469.2 141.6h0M494.5 139.1h0M515.0 168.2h0M516.2 177.0h0M478.6 176.0h0M495.6 159.1h0M501.6 164.8h0M499.8 164.4h0M504.2 169.3h0M497.0 170.6h0M497.2 192.5h0M511.1 156.9h0M500.8 155.6h0M501.3 172.1h0M482.4 150.3h0M467.3 146.7h0M491.4 143.3h0M473.5 134.5h0M470.2 164.9h0M475.7 137.5h0M503.6 193.3h0M510.2 139.1h0M488.7 196.1h0M509.9 137.8h0M515.5 189.0h0M462.2 148.4h0M486.7 135.9h0M487.8 186.4h0M485.0 191.2h0M503.6 139.5h0M494.6 134.7h0M485.9 138.8h0M486.3 178.7h0" stroke="#9C80EC" stroke-width="2.10" stroke-linecap="round" fill="none"/>
<path d="M466.0 165.0h0M472.6 136.1h0M498.6 157.2h0M511.5 170.8h0M474.0 154.9h0M496.9 142.5h0M502.3 180.5h0M470.0 141.1h0M496.0 178.0h0M463.2 157.3h0M479.9 147.4h0M483.5 178.3h0M492.5 143.8h0M500.1 178.2h0M513.5 163.8h0M505.9 147.5h0M468.9 174.1h0M462.6 153.5h0M500.3 182.5h0M505.4 162.3h0M491.5 140.0h0M494.6 145.3h0M469.8 180.8h0M476.5 144.2h0M497.0 140.0h0M497.6 149.5h0M508.6 140.7h0M482.5 142.1h0M486.2 188.5h0M489.4 138.8h0M516.2 174.6h0M506.8 167.6h0M486.9 148.1h0M467.5 161.8h0M495.1 172.1h0M513.5 164.1h0M480.0 132.2h0M510.1 167.8h0M503.1 151.2h0M482.7 166.3h0" stroke="#6240E8" stroke-width="2.10" stroke-linecap="round" fill="none"/>
<path d="M430.4 71.0h0M421.8 43.8h0M432.5 74.3h0M425.7 60.8h0M423.2 59.6h0M421.2 75.0h0M421.8 77.8h0M424.9 48.3h0M432.4 71.3h0M422.5 82.0h0M430.0 76.6h0M423.9 61.6h0M423.1 41.8h0M424.7 81.2h0M420.2 54.6h0M423.2 44.5h0M426.5 77.8h0M420.4 50.4h0M420.0 76.1h0M421.3 46.5h0M424.9 67.6h0M422.8 59.8h0M427.4 71.4h0M422.6 78.5h0M419.4 49.7h0M425.6 79.9h0M421.6 50.0h0M419.1 63.2h0M421.7 52.4h0M424.4 65.6h0M426.9 57.9h0M429.3 64.4h0M424.7 80.5h0M428.5 40.1h0M426.6 45.4h0M425.4 53.3h0M423.9 39.2h0M433.1 71.7h0M425.7 73.5h0M432.9 65.4h0M424.8 47.0h0M418.5 72.0h0M427.0 51.0h0M422.3 73.4h0M418.8 71.3h0M423.1 48.5h0M423.0 77.1h0M424.7 42.6h0M426.4 42.7h0M421.3 73.9h0M423.2 71.1h0M423.1 68.9h0M426.3 59.4h0M430.5 74.6h0M432.0 72.7h0M422.6 50.3h0M418.5 66.6h0M430.1 71.9h0M427.3 46.2h0M418.7 47.1h0M419.6 65.5h0M422.8 72.3h0M428.9 60.7h0M426.2 44.6h0M424.7 60.7h0M431.5 68.3h0M425.4 68.0h0M419.6 55.5h0M423.0 50.2h0M425.1 75.4h0M432.1 66.7h0M423.4 68.9h0M430.4 64.0h0M429.8 69.7h0M421.3 47.2h0M419.0 71.1h0M425.7 79.1h0M422.0 80.6h0M426.2 44.7h0M422.8 57.3h0M427.3 60.7h0M424.0 67.7h0M428.3 63.8h0M418.9 50.8h0M421.5 56.7h0M425.7 75.0h0M422.8 79.8h0M422.8 43.2h0M420.2 58.3h0M419.2 53.1h0M429.4 68.5h0M428.8 75.0h0M424.0 62.2h0M423.9 62.1h0M425.8 40.7h0M423.8 50.0h0M426.3 69.9h0M423.6 65.6h0M423.9 76.2h0M422.4 50.8h0M426.6 38.6h0M430.8 73.3h0M432.1 77.1h0M427.7 41.7h0M425.0 67.7h0M431.2 74.3h0M420.5 45.2h0M431.0 69.3h0M420.4 67.7h0M423.1 49.4h0M421.6 59.1h0M429.5 73.6h0M421.9 74.4h0M427.1 54.9h0M424.1 61.8h0M427.0 74.7h0M423.3 40.4h0M424.0 45.3h0M422.7 61.3h0M423.1 58.7h0M429.3 76.5h0M427.0 74.9h0M428.7 73.4h0M429.8 72.6h0M418.8 64.5h0M422.6 41.8h0M431.4 66.4h0M427.6 80.7h0M420.0 70.9h0M427.4 43.9h0M419.4 64.9h0M425.4 45.8h0M425.1 69.9h0M420.7 59.7h0M426.0 74.5h0M420.8 74.7h0M422.8 58.0h0M429.0 75.8h0M427.2 46.4h0M420.7 60.1h0M432.0 75.3h0M432.5 67.0h0M425.8 43.8h0M429.8 63.7h0M424.7 71.8h0M424.6 53.2h0M422.0 70.0h0M425.4 77.8h0M428.3 68.7h0M433.2 71.2h0M432.2 68.7h0M426.8 74.9h0M427.4 67.9h0M429.1 67.4h0M432.3 65.1h0M422.8 47.5h0M430.6 78.8h0M425.7 43.4h0M422.7 81.8h0M427.3 66.4h0M425.0 63.5h0M424.1 45.2h0M427.8 40.4h0M424.5 51.5h0M421.1 60.8h0M431.4 78.7h0M420.3 69.1h0M429.2 67.2h0M423.8 80.6h0M418.9 47.1h0M427.1 67.9h0M427.6 81.9h0M423.8 75.7h0M426.4 69.5h0M426.9 50.5h0M421.6 54.3h0M425.0 41.0h0M423.9 59.9h0M430.3 73.0h0M428.2 71.7h0M419.4 48.4h0M426.1 73.9h0M423.6 41.6h0M418.3 72.2h0M424.2 54.9h0M425.6 73.8h0M419.6 65.4h0M423.6 49.0h0M425.3 65.0h0M431.7 68.9h0" stroke="#D4D4D4" stroke-width="2.00" stroke-linecap="round" fill="none"/>
<path d="M427.6 67.6h0M428.0 71.0h0M428.0 77.6h0" stroke="#6240E8" stroke-width="2.10" stroke-linecap="round" fill="none"/>
<path d="M430.5 69.0h0M425.0 74.0h0" stroke="#9C80EC" stroke-width="2.00" stroke-linecap="round" fill="none"/>
<path d="M513.7 50.2h0M515.7 55.5h0M522.4 47.3h0M520.8 50.6h0M518.8 45.7h0M520.5 49.7h0M515.9 52.8h0M521.7 45.4h0M520.0 49.3h0M513.1 53.2h0M515.8 47.7h0M518.3 48.4h0M519.2 40.4h0M521.2 49.5h0M515.7 50.4h0M520.0 40.9h0M513.5 50.1h0M516.4 46.1h0M519.0 41.5h0M518.3 42.3h0M515.0 44.7h0M513.8 49.4h0M518.1 47.4h0M516.0 43.5h0M516.0 50.6h0M515.1 47.9h0M516.7 54.5h0M515.7 52.0h0M517.4 43.6h0M517.4 45.5h0" stroke="#D4D4D4" stroke-width="1.90" stroke-linecap="round" fill="none"/>
<path d="M515.0 65.6h0M516.4 74.6h0M525.7 76.7h0M519.7 81.2h0M517.0 63.9h0M513.3 63.7h0M512.3 72.5h0M514.2 77.4h0M520.7 76.7h0M522.3 73.1h0M517.9 78.3h0M522.8 73.8h0M515.4 84.4h0M520.1 80.6h0M514.1 77.0h0M516.3 78.4h0M515.4 76.2h0M523.4 67.0h0M526.0 75.1h0M515.3 79.1h0M518.3 69.2h0M517.5 83.4h0M514.3 65.0h0M514.0 68.5h0M524.3 72.0h0M523.0 82.8h0M516.6 81.0h0M520.6 70.3h0M524.0 71.7h0M512.6 71.9h0" stroke="#D4D4D4" stroke-width="1.90" stroke-linecap="round" fill="none"/>
<path d="M524.5 71.5h0" stroke="#9C80EC" stroke-width="2.00" stroke-linecap="round" fill="none"/>
<path d="M438.6 162.7h0M436.0 165.0h0" stroke="#D4D4D4" stroke-width="2.00" stroke-linecap="round" fill="none"/>
<path d="M531.0 164.5h0M528.5 166.0h0" stroke="#D4D4D4" stroke-width="2.00" stroke-linecap="round" fill="none"/>
<text x="13.4" y="248.5" font-size="17.2" text-anchor="start" fill="#000" font-weight="bold">D</text>
<line x1="34.6" y1="255.3" x2="34.6" y2="405.8" stroke="#111" stroke-width="1.3"/>
<line x1="34.0" y1="405.2" x2="354.3" y2="405.2" stroke="#111" stroke-width="1.3"/>
<text x="31.2" y="265.8" font-size="8.6" text-anchor="end" fill="#4d4d4d" stroke="#4d4d4d" stroke-width="0.12">1.5</text>
<text x="31.2" y="290.70000000000005" font-size="8.6" text-anchor="end" fill="#4d4d4d" stroke="#4d4d4d" stroke-width="0.12">1.0</text>
<text x="31.2" y="318.40000000000003" font-size="8.6" text-anchor="end" fill="#4d4d4d" stroke="#4d4d4d" stroke-width="0.12">0.5</text>
<text x="31.2" y="345.0" font-size="8.6" text-anchor="end" fill="#4d4d4d" stroke="#4d4d4d" stroke-width="0.12">0.0</text>
<text x="31.2" y="372.40000000000003" font-size="8.6" text-anchor="end" fill="#4d4d4d" stroke="#4d4d4d" stroke-width="0.12">−0.5</text>
<text x="31.2" y="399.3" font-size="8.6" text-anchor="end" fill="#4d4d4d" stroke="#4d4d4d" stroke-width="0.12">−1.0</text>
<text x="48.3" y="416.2" font-size="8.6" text-anchor="middle" fill="#4d4d4d" stroke="#4d4d4d" stroke-width="0.12">−2.5</text>
<text x="146.5" y="416.2" font-size="8.6" text-anchor="middle" fill="#4d4d4d" stroke="#4d4d4d" stroke-width="0.12">0.0</text>
<text x="243.0" y="416.2" font-size="8.6" text-anchor="middle" fill="#4d4d4d" stroke="#4d4d4d" stroke-width="0.12">2.5</text>
<text x="341.1" y="416.2" font-size="8.6" text-anchor="middle" fill="#4d4d4d" stroke="#4d4d4d" stroke-width="0.12">5.0</text>
<text x="200.5" y="421.8" font-size="9.3" text-anchor="middle" fill="#111" stroke="#111" stroke-width="0.25">Component 1</text>
<text x="13.6" y="318.0" font-size="9.3" text-anchor="middle" fill="#111" transform="rotate(-90 13.6 318.0)" stroke="#111" stroke-width="0.25">Component 2</text>
<polyline fill="none" stroke="#111" stroke-width="1.4" points="52.0,272.5 54.1,275.7 56.2,278.8 58.3,281.9 60.5,285.0 62.6,288.1 64.7,291.2 66.8,294.2 68.9,297.3 71.0,300.3 73.1,303.3 75.3,306.3 77.4,309.3 79.5,312.2 81.6,315.1 83.7,318.0 85.8,320.8 87.9,323.7 90.1,326.4 92.2,329.2 94.3,331.9 96.4,334.6 98.5,337.2 100.6,339.8 102.7,342.3 104.9,344.8 107.0,347.2 109.1,349.6 111.2,351.9 113.3,354.2 115.4,356.4 117.5,358.5 119.7,360.6 121.8,362.6 123.9,364.6 126.0,366.5 128.1,368.3 130.2,370.1 132.3,371.8 134.5,373.4 136.6,374.9 138.7,376.3 140.8,377.7 142.9,379.0 145.0,380.2 147.1,381.3 149.3,382.4 151.4,383.3 153.5,384.1 155.6,384.9 157.7,385.6 159.8,386.1 161.9,386.6 164.1,386.9 166.2,387.2 168.3,387.3 170.4,387.4 172.5,387.3 174.6,387.1 176.7,386.9 178.9,386.5 181.0,385.9 183.1,385.3 185.2,384.5 187.3,383.7 189.4,382.7 191.5,381.6 193.7,380.4 195.8,379.1 197.9,377.7 200.0,376.3 202.1,374.8 204.2,373.3 206.3,371.8 208.5,370.2 210.6,368.6 212.7,367.1 214.8,365.5 216.9,364.0 219.0,362.5 221.1,361.0 223.3,359.6 225.4,358.1 227.5,356.7 229.6,355.3 231.7,353.9 233.8,352.5 235.9,351.1 238.1,349.7 240.2,348.4 242.3,347.0 244.4,345.6 246.5,344.2 248.6,342.8 250.7,341.4 252.9,340.0 255.0,338.5 257.1,337.1 259.2,335.6 261.3,334.2 263.4,332.7 265.5,331.3 267.7,329.8 269.8,328.3 271.9,326.8 274.0,325.2 276.1,323.7 278.2,322.2 280.3,320.6 282.5,319.0 284.6,317.5 286.7,315.9 288.8,314.3 290.9,312.6 293.0,311.0 295.1,309.4 297.3,307.7 299.4,306.0 301.5,304.3 303.6,302.6"/>
<path d="M82.9 312.2h0M311.9 289.5h0M52.9 273.4h0M89.8 332.2h0M314.2 290.0h0M314.4 289.6h0M53.6 275.3h0M147.3 381.8h0M312.9 295.0h0M319.5 276.1h0M122.7 360.0h0M53.6 271.9h0M57.0 280.3h0M174.3 386.7h0M318.0 278.0h0M114.9 356.1h0M323.2 274.3h0M329.8 267.7h0M195.7 383.9h0M198.6 378.7h0M104.8 344.6h0M220.8 371.9h0M171.2 390.4h0M120.9 355.7h0M312.6 293.6h0M329.4 275.3h0M107.8 353.6h0M83.8 316.8h0M148.3 377.1h0M51.0 270.9h0M217.4 374.7h0M195.8 384.5h0M104.8 338.9h0M56.9 276.6h0M177.5 394.3h0M70.7 292.4h0M306.3 307.3h0M93.2 332.1h0M54.3 277.7h0M55.8 277.7h0M75.8 303.1h0M200.0 382.2h0M160.9 385.6h0M188.0 389.4h0M57.4 277.6h0M213.3 371.7h0M62.1 287.3h0M98.5 340.1h0M304.9 308.0h0M200.8 380.2h0M184.8 387.2h0M100.6 343.1h0M56.3 284.1h0M116.9 362.7h0M105.0 352.2h0M319.7 281.9h0M95.5 336.3h0M74.5 301.6h0M94.3 341.0h0M86.0 318.8h0M174.2 386.3h0M118.2 353.8h0M123.8 357.3h0M129.4 368.7h0M54.7 281.0h0M93.5 331.1h0M123.2 354.3h0M126.6 366.4h0M89.5 326.7h0M90.5 325.4h0M116.0 356.1h0M141.5 381.3h0M52.0 268.2h0M88.1 317.6h0M200.4 385.7h0M120.8 360.9h0M50.6 271.9h0M131.1 369.8h0M67.4 293.7h0M94.9 336.9h0M68.9 296.6h0M131.5 369.2h0M209.7 382.8h0M311.7 298.4h0M145.5 380.8h0M186.2 383.9h0M327.8 269.7h0M311.5 289.7h0M82.0 312.2h0M310.2 299.9h0M54.6 270.8h0M324.7 282.2h0M115.8 356.1h0M88.1 325.8h0M326.3 268.4h0M88.4 327.5h0M79.7 307.2h0M175.7 388.5h0M70.3 296.5h0M54.2 276.2h0M171.7 389.3h0M163.6 382.7h0M57.9 282.5h0M326.8 265.4h0M318.9 277.1h0M166.9 390.2h0M84.6 311.8h0M320.5 271.5h0M152.0 387.6h0M74.5 303.7h0M209.2 377.8h0M104.0 346.4h0M72.6 297.5h0M159.4 380.2h0M151.1 388.9h0M77.7 309.5h0M183.6 389.6h0M303.0 297.0h0" stroke="#00BFC4" stroke-width="2.30" stroke-linecap="round" fill="none"/>
<path d="M79.7 303.7h0M223.3 372.3h0M315.6 286.5h0M165.3 391.9h0M199.8 388.7h0M203.5 385.0h0M87.8 326.0h0M81.9 308.9h0M309.5 304.6h0M136.8 372.2h0M223.3 370.3h0M228.3 360.2h0M84.7 312.6h0M217.3 375.9h0M223.7 369.1h0M130.7 373.4h0M182.2 390.3h0M309.2 291.1h0M58.3 282.9h0M87.7 316.9h0M224.5 368.5h0M157.1 393.8h0M109.3 353.7h0M197.4 385.5h0M63.8 288.0h0M141.4 381.9h0M309.4 301.4h0M202.3 390.2h0M147.8 386.4h0M225.1 371.7h0M197.5 388.8h0M113.6 359.1h0M168.8 390.8h0M220.9 373.2h0M68.5 292.9h0M134.6 370.5h0M211.5 378.6h0M68.0 296.6h0M134.3 374.6h0M108.3 349.8h0M125.1 371.1h0M269.4 341.7h0M118.5 360.7h0M115.8 360.8h0M146.5 383.4h0M90.5 325.9h0M76.4 301.7h0M116.2 364.4h0M224.4 376.2h0M150.2 385.9h0M210.2 380.8h0M142.4 382.9h0" stroke="#F8766D" stroke-width="2.30" stroke-linecap="round" fill="none"/>
<path d="M315.8 301.4h0M63.6 289.5h0M54.1 270.1h0M62.5 288.9h0M142.3 383.2h0M57.9 280.9h0M165.8 387.5h0M310.2 294.1h0M225.0 372.6h0M182.4 385.2h0M321.4 271.7h0M316.0 283.3h0M79.2 308.9h0M201.5 380.7h0M117.1 358.8h0M323.3 281.8h0M117.7 357.1h0M106.6 348.7h0M191.8 383.9h0M196.1 384.7h0M173.5 388.2h0M93.3 331.2h0M116.3 354.8h0M112.2 350.4h0M88.8 324.0h0M143.7 377.7h0M54.5 277.1h0M119.7 359.0h0M340.0 265.5h0M319.7 281.4h0M315.9 289.9h0M97.8 329.2h0M325.6 279.3h0M96.6 341.9h0M122.9 358.8h0M184.5 383.1h0M202.6 381.1h0M63.7 286.5h0M185.4 390.1h0M118.5 357.4h0M70.1 299.4h0M89.4 330.1h0M118.4 360.5h0M316.1 284.3h0M198.2 381.5h0M98.0 334.4h0M91.2 331.1h0M314.1 303.6h0M151.8 381.8h0M88.7 324.5h0M95.6 332.1h0M114.7 354.6h0M118.9 355.1h0M163.2 382.8h0M157.9 388.2h0M95.6 334.2h0M50.8 269.7h0M315.5 295.3h0M209.9 377.6h0M55.2 275.7h0M102.8 341.4h0M63.6 289.2h0M325.9 286.2h0M111.3 354.1h0M155.9 378.0h0M198.6 382.4h0M317.0 284.2h0M179.8 387.8h0M172.5 386.3h0M53.0 275.0h0M54.4 273.4h0M115.8 355.8h0M214.9 377.8h0M56.2 272.1h0M109.6 351.0h0M56.7 276.9h0M189.5 383.0h0M62.0 280.1h0M223.7 369.4h0M53.3 272.8h0M203.4 377.8h0M217.7 370.8h0M316.5 296.9h0M218.7 377.5h0M71.4 298.3h0M100.9 339.2h0M218.3 375.9h0M177.1 387.6h0M78.0 317.2h0M95.5 329.4h0M160.5 386.5h0M146.9 376.8h0M107.9 350.7h0M328.8 266.9h0M124.4 360.4h0M316.7 290.2h0M139.0 377.1h0M68.7 294.4h0M57.4 273.7h0M119.5 361.6h0M152.5 386.6h0M51.6 272.3h0M149.4 380.9h0M126.3 364.3h0M179.8 388.7h0M326.5 281.1h0M170.1 396.2h0M190.0 388.9h0M87.6 321.8h0M133.9 370.1h0M57.6 276.0h0M325.2 275.7h0M51.0 275.0h0M122.4 355.0h0M320.6 285.2h0M130.3 365.7h0M135.5 374.9h0M51.7 270.8h0M333.6 265.9h0M320.9 278.1h0M100.2 344.8h0M207.9 385.0h0M58.0 274.5h0" stroke="#00BFC4" stroke-width="2.30" stroke-linecap="round" fill="none"/>
<path d="M119.1 359.0h0M107.3 343.0h0M181.1 390.0h0M158.7 390.2h0M114.9 352.9h0M165.0 389.7h0M311.2 295.4h0M177.0 391.9h0M211.4 385.3h0M66.8 291.0h0M318.4 289.5h0M87.6 319.1h0M123.1 362.4h0M59.8 282.4h0M115.8 363.5h0M158.9 385.5h0M184.5 390.8h0M180.8 397.6h0M145.7 379.5h0M120.1 358.9h0M180.5 391.0h0M108.6 354.3h0M236.8 355.0h0M225.8 372.6h0M134.8 378.6h0M103.0 346.5h0M323.1 277.0h0M130.1 373.5h0M130.8 371.3h0M320.3 287.6h0M140.8 382.9h0M238.6 358.4h0M225.8 374.1h0M144.5 382.4h0M64.3 286.4h0M83.2 313.9h0M235.6 351.8h0M114.0 354.1h0M179.4 390.9h0M220.1 373.1h0M65.4 286.5h0M224.2 376.0h0M221.7 372.6h0M139.7 389.7h0M137.6 378.1h0M205.4 381.2h0M137.6 381.2h0" stroke="#F8766D" stroke-width="2.30" stroke-linecap="round" fill="none"/>
<path d="M328.3 270.7h0M76.1 301.4h0M100.7 341.7h0M73.9 307.3h0M111.8 352.2h0M203.2 381.1h0M315.0 289.0h0M82.5 313.8h0M166.0 392.2h0M316.1 297.8h0M301.2 299.9h0M96.6 337.0h0M56.6 276.2h0M78.1 304.9h0M91.4 330.0h0M104.2 346.4h0M90.6 330.5h0M222.5 369.6h0M65.8 289.9h0M274.1 333.3h0M166.2 390.8h0M198.4 387.1h0M242.7 358.9h0M84.5 321.8h0M168.7 388.1h0M92.7 329.7h0M90.1 325.3h0M129.4 367.5h0M128.1 360.0h0M210.2 375.3h0M50.3 270.2h0M191.4 382.7h0M195.1 383.7h0M80.2 314.1h0M163.8 388.5h0M284.8 327.7h0M104.8 342.7h0M109.0 349.4h0M49.4 271.7h0M48.4 272.4h0M317.5 282.6h0M76.9 304.5h0M50.7 270.5h0M54.5 278.6h0M136.8 372.6h0M133.0 369.2h0M85.8 316.4h0M306.1 308.4h0M136.9 371.7h0M93.6 336.4h0M148.9 386.4h0M156.9 387.6h0M57.6 274.4h0M75.7 303.8h0M72.0 302.5h0M70.4 298.0h0M83.8 319.1h0M55.2 277.0h0M61.6 284.6h0M320.7 274.3h0M107.3 353.9h0M52.4 272.2h0M123.9 365.9h0M83.7 317.3h0M99.3 339.1h0M55.5 277.0h0M310.0 301.6h0M125.8 367.9h0M105.7 346.4h0M129.2 364.6h0M58.5 279.5h0M87.3 319.9h0M177.2 388.8h0M186.6 387.4h0M53.2 270.9h0M190.1 386.9h0M151.4 386.3h0M213.4 374.7h0M59.2 282.5h0M127.4 360.6h0M90.2 332.4h0M198.5 380.5h0M78.5 307.9h0M111.9 351.3h0M323.4 285.2h0M72.8 300.7h0M319.8 284.7h0M102.5 343.5h0M217.0 378.1h0M89.2 329.9h0M162.9 388.5h0M85.4 317.3h0M56.2 276.3h0M75.5 305.6h0M110.8 351.6h0M52.2 275.1h0M77.7 310.7h0M173.7 389.7h0M113.3 357.8h0M53.8 276.6h0M113.7 353.6h0M150.1 386.4h0M59.1 288.6h0M71.8 300.7h0M338.0 266.0h0M69.9 295.0h0M192.6 384.6h0M317.7 294.9h0M151.7 385.0h0M203.7 383.6h0M149.6 384.7h0M121.4 356.4h0M217.2 376.2h0M56.7 283.0h0M53.5 272.8h0M193.5 380.6h0M133.4 371.1h0M124.6 362.2h0M218.3 375.9h0M222.2 371.0h0M50.6 271.3h0M167.2 386.2h0" stroke="#00BFC4" stroke-width="2.30" stroke-linecap="round" fill="none"/>
<path d="M135.6 381.3h0M86.9 321.2h0M124.1 364.1h0M118.8 361.7h0M214.0 378.5h0M80.3 309.2h0M151.8 392.6h0M230.8 360.2h0M103.0 340.0h0M180.7 393.3h0M122.0 368.6h0M195.8 389.3h0M225.5 377.0h0M203.3 383.8h0M147.7 380.3h0M172.2 393.9h0M139.5 383.4h0M329.8 265.7h0M175.0 389.6h0M159.4 386.6h0M249.7 352.5h0M208.7 381.3h0M219.3 380.2h0M120.8 362.6h0M108.4 347.9h0M188.0 386.9h0M144.0 385.5h0M224.1 374.1h0M135.1 376.8h0M175.7 390.3h0M192.7 393.1h0M103.2 340.3h0M176.6 392.7h0M121.3 367.0h0M159.3 384.9h0M182.9 391.7h0M216.2 382.7h0M193.9 373.0h0M312.0 296.4h0M108.8 350.7h0M170.2 394.9h0M134.0 375.4h0M193.4 391.6h0M178.2 390.7h0M138.9 385.0h0M113.1 354.4h0M152.3 383.1h0M156.1 385.1h0" stroke="#F8766D" stroke-width="2.30" stroke-linecap="round" fill="none"/>
<path d="M79.4 311.5h0M298.7 306.6h0M145.9 387.1h0M198.6 382.6h0M56.3 274.1h0M67.5 291.9h0M124.7 371.9h0M106.7 352.0h0M122.4 361.7h0M59.8 282.4h0M85.7 317.3h0M139.7 374.5h0M108.4 348.5h0M55.4 276.7h0M223.3 369.4h0M53.6 278.5h0M118.3 358.0h0M303.9 308.3h0M316.3 294.6h0M55.2 272.8h0M121.2 360.0h0M91.4 331.7h0M71.2 301.0h0M51.8 271.6h0M311.7 297.1h0M82.6 316.9h0M92.5 330.7h0M139.4 382.5h0M189.0 385.0h0M58.6 276.0h0M149.0 380.1h0M315.0 302.0h0M197.4 383.7h0M64.4 286.8h0M122.4 359.9h0M62.4 285.4h0M62.9 289.8h0M311.7 287.4h0M175.7 385.4h0M306.1 306.6h0M62.2 290.8h0M158.2 384.7h0M188.3 390.8h0M179.8 388.6h0M150.4 379.9h0M51.4 272.8h0M72.1 300.2h0M332.2 265.8h0M307.6 311.1h0M90.2 329.3h0M324.3 275.3h0M171.6 388.0h0M118.6 359.8h0M183.9 387.0h0M308.8 308.8h0M173.4 387.7h0M58.7 286.8h0M85.1 309.9h0M189.6 382.7h0M75.8 304.9h0M52.3 270.4h0M101.4 342.3h0M146.5 383.6h0M95.3 337.3h0M174.2 389.3h0M185.9 381.3h0M308.0 302.6h0M52.6 272.2h0M92.3 332.1h0M316.7 290.3h0M65.5 288.5h0M51.8 271.7h0M143.4 378.4h0M155.2 386.4h0M98.4 339.6h0M160.2 388.5h0M296.6 318.4h0M133.1 365.0h0M140.0 378.5h0M135.1 373.8h0M60.6 286.3h0M65.6 291.2h0M70.9 300.0h0M57.7 280.4h0M128.7 365.9h0M120.8 357.6h0M55.0 276.7h0M334.4 268.6h0M180.9 393.3h0M58.3 281.6h0M165.0 387.3h0M115.0 353.3h0M73.5 304.7h0M57.5 278.2h0M310.2 295.1h0M55.1 270.6h0M191.2 391.3h0M278.9 331.8h0M188.4 382.9h0M222.0 370.3h0M55.3 276.0h0M113.8 353.6h0M306.1 304.8h0M71.9 295.8h0M51.2 272.2h0M190.4 386.7h0M162.7 385.5h0M315.6 288.0h0M135.7 371.7h0M58.5 276.1h0M325.5 272.3h0M204.1 379.5h0M331.7 273.1h0M116.5 368.0h0M119.8 358.4h0M90.6 323.0h0M195.4 387.7h0M304.3 299.3h0M100.4 341.3h0M321.0 284.6h0" stroke="#00BFC4" stroke-width="2.30" stroke-linecap="round" fill="none"/>
<path d="M196.4 388.5h0M205.4 381.8h0M81.3 307.8h0M215.8 381.5h0M119.1 358.9h0M302.7 300.3h0M222.6 375.1h0M131.6 372.2h0M223.7 377.5h0M80.2 311.5h0M88.1 324.2h0M208.5 381.6h0M175.6 395.9h0M167.2 392.0h0M83.4 318.3h0M174.6 386.6h0M171.8 391.6h0M119.5 362.0h0M70.0 295.6h0M326.6 275.3h0M166.6 388.8h0M222.1 361.9h0M194.2 391.1h0M151.9 391.0h0M237.5 354.0h0M139.9 376.2h0M274.2 339.6h0M152.7 381.4h0M312.6 294.1h0M67.0 289.4h0M176.9 387.3h0M162.9 396.0h0M176.9 392.9h0M315.2 295.0h0M80.1 312.7h0M155.0 380.4h0M233.8 359.4h0M167.9 393.9h0M123.3 363.6h0M111.2 346.6h0M129.4 377.7h0M179.9 391.9h0M220.3 373.1h0M119.3 362.7h0M149.9 391.0h0M155.3 382.7h0M110.1 350.0h0M161.8 388.5h0M219.1 373.3h0M216.8 383.6h0" stroke="#F8766D" stroke-width="2.30" stroke-linecap="round" fill="none"/>
<path d="M53.8 276.1h0M76.3 300.5h0M110.8 352.0h0M60.1 274.2h0M124.9 363.9h0M213.4 381.0h0M120.1 358.4h0M171.1 381.6h0M54.8 273.9h0M304.0 302.5h0M79.7 313.0h0M191.6 386.8h0M102.6 344.6h0M119.8 354.7h0M287.9 325.9h0M76.8 308.5h0M57.7 275.8h0M330.6 270.1h0M318.2 293.1h0M106.3 343.8h0M116.1 355.8h0M73.3 302.9h0M141.9 378.6h0M113.8 355.1h0M166.8 386.8h0M70.4 293.9h0M151.7 381.6h0M119.3 358.4h0M179.3 383.2h0M153.1 382.0h0M188.7 389.9h0M281.8 327.8h0M191.8 386.1h0M51.5 275.1h0M285.3 322.0h0M209.9 380.4h0M53.2 268.4h0M62.9 283.4h0M107.9 352.0h0M235.4 363.4h0M309.8 291.0h0M307.1 303.2h0M201.7 375.3h0M252.8 349.1h0M173.5 384.8h0M94.9 331.8h0M51.3 270.3h0M256.8 351.8h0M330.1 273.9h0M190.3 382.2h0M212.8 377.2h0M162.6 389.4h0M70.5 296.2h0M313.3 292.3h0M324.1 268.0h0M312.4 286.7h0M310.1 297.9h0M318.4 291.6h0M259.0 345.5h0M63.0 288.9h0M79.0 310.4h0M199.9 381.8h0M313.1 300.3h0M110.7 347.8h0M150.4 384.0h0M61.8 288.9h0M54.5 275.9h0M212.8 377.3h0M183.2 385.1h0M324.2 273.7h0M112.3 360.1h0M81.1 307.9h0M109.0 353.5h0M103.4 347.3h0M52.7 273.1h0M120.7 369.0h0M279.4 335.4h0M160.4 388.4h0M54.5 268.9h0M322.5 276.5h0M333.0 261.0h0M305.8 305.4h0M92.3 328.7h0M54.0 278.6h0M219.2 373.0h0M312.7 306.5h0M64.1 288.3h0M211.3 375.7h0M314.6 287.2h0M314.3 292.3h0M55.9 273.1h0M316.5 279.3h0M67.1 294.4h0M306.1 311.1h0M138.0 377.2h0M120.0 359.7h0M159.6 385.6h0M318.2 276.4h0M194.6 381.2h0M194.9 383.9h0M48.7 275.2h0M190.4 388.7h0M122.6 362.9h0M314.0 285.4h0M92.5 330.3h0M62.7 289.2h0M312.9 290.8h0M179.4 382.5h0M187.9 385.2h0M325.1 268.2h0M174.9 384.2h0M90.5 322.7h0M193.7 383.4h0M79.8 309.5h0M319.0 295.2h0M68.2 293.9h0M132.3 370.9h0M66.5 292.4h0M58.2 280.0h0M159.2 381.1h0M313.4 297.0h0M320.4 287.7h0M116.0 352.9h0" stroke="#00BFC4" stroke-width="2.30" stroke-linecap="round" fill="none"/>
<path d="M130.1 371.8h0M198.0 387.0h0M315.5 295.6h0M97.6 332.3h0M90.7 325.2h0M219.9 371.5h0M168.0 392.8h0M162.7 390.2h0M226.5 373.4h0M190.8 387.1h0M161.2 390.6h0M173.9 394.7h0M115.6 357.2h0M133.8 371.4h0M145.3 385.5h0M225.1 379.1h0M94.3 337.0h0M121.0 364.7h0M120.0 368.0h0M197.0 387.2h0M153.9 389.7h0M200.1 384.0h0M192.2 385.3h0M214.9 385.1h0M147.1 390.7h0M273.1 340.1h0M182.6 387.3h0M163.4 390.1h0M182.6 387.3h0M322.6 281.4h0M179.7 389.7h0M115.1 357.7h0M186.5 391.9h0M161.0 389.4h0M226.4 374.4h0M123.1 359.3h0M67.6 292.7h0M147.6 389.5h0M59.7 284.5h0M182.3 390.5h0M142.2 378.3h0M143.9 387.6h0M102.9 336.7h0M249.6 351.8h0M177.1 392.3h0M111.2 350.3h0M201.6 389.1h0" stroke="#F8766D" stroke-width="2.30" stroke-linecap="round" fill="none"/>
<path d="M218.2 370.3h0M323.2 279.2h0M313.0 293.4h0M63.4 286.2h0M132.4 372.2h0M176.9 386.7h0M126.8 362.8h0M118.2 361.0h0M118.4 361.1h0M153.4 381.1h0M152.2 382.2h0M92.1 331.6h0M225.0 369.6h0M54.5 273.1h0M58.6 282.9h0M111.5 347.3h0M85.2 313.8h0M148.8 382.3h0M177.5 387.3h0M316.3 297.9h0M92.0 327.8h0M140.2 373.3h0M62.9 282.1h0M64.2 286.1h0M149.8 386.1h0M51.5 269.2h0M191.7 384.9h0M74.1 306.4h0M111.6 354.9h0M56.7 272.0h0M57.4 276.4h0M187.5 385.7h0M111.5 350.5h0M208.6 378.7h0M150.4 383.2h0M310.2 296.0h0M311.2 281.7h0M143.5 382.3h0M134.0 372.3h0M195.5 380.0h0M109.9 350.2h0M131.0 370.8h0M213.4 372.1h0M83.3 317.2h0M246.1 359.1h0M138.3 370.6h0M55.6 278.1h0M313.0 292.7h0M58.0 276.3h0M103.1 346.3h0M173.6 390.9h0M108.5 354.2h0M139.2 379.6h0M200.4 382.8h0M97.1 335.2h0M53.8 272.7h0M126.0 365.7h0M313.3 284.8h0M54.1 277.7h0M97.1 340.1h0M140.6 374.5h0M314.4 284.7h0M192.7 388.6h0M196.7 380.9h0M210.8 373.3h0M145.9 383.5h0M167.6 391.2h0M186.8 387.8h0M269.1 338.0h0M85.3 317.8h0M313.1 294.6h0M314.5 288.1h0M83.3 312.6h0M329.6 264.8h0M123.9 363.7h0M75.1 302.8h0M82.7 317.5h0M143.3 379.8h0M183.2 391.1h0M184.7 383.5h0M163.5 387.1h0M105.2 346.2h0M50.3 271.6h0M121.4 360.2h0M137.2 378.5h0M330.5 274.3h0M52.1 270.6h0M246.5 358.1h0M184.3 388.3h0M134.2 373.3h0M51.6 274.6h0M165.4 393.4h0M88.4 322.7h0M108.5 349.5h0M322.4 279.1h0M187.5 382.1h0M66.5 292.7h0M122.3 357.0h0M75.1 306.5h0M53.6 273.6h0M52.8 269.2h0M55.9 273.1h0M202.3 378.2h0M54.4 276.1h0M61.6 283.7h0M57.6 275.4h0M152.1 383.9h0M317.0 288.0h0M51.5 276.5h0M95.7 331.8h0M55.0 275.7h0M52.5 270.4h0M155.2 387.0h0M54.2 280.5h0M106.5 348.8h0M56.1 276.9h0M123.6 365.6h0M94.4 338.3h0M116.0 355.5h0M74.7 300.4h0M312.6 295.6h0" stroke="#00BFC4" stroke-width="2.30" stroke-linecap="round" fill="none"/>
<path d="M95.1 334.9h0M73.9 294.7h0M199.6 386.3h0M117.9 366.9h0M153.9 390.3h0M166.9 386.7h0M180.1 395.7h0M109.9 348.7h0M142.5 382.0h0M211.5 389.7h0M97.3 340.1h0M192.5 388.5h0M89.9 325.4h0M87.2 319.1h0M126.2 362.7h0M79.2 313.6h0M107.6 346.1h0M182.9 392.1h0M224.9 378.3h0M100.4 338.9h0M181.4 390.1h0M313.4 292.3h0M68.8 290.2h0M221.3 371.2h0M168.1 390.9h0M67.2 293.9h0M180.2 387.8h0M85.3 321.8h0M113.1 359.6h0M76.2 296.8h0M177.8 388.8h0M118.0 357.2h0M235.9 362.7h0M130.9 375.8h0M118.2 359.8h0M213.6 375.3h0M121.9 369.2h0M248.0 348.2h0M160.1 388.8h0M130.1 372.6h0M201.3 390.0h0M116.1 358.4h0M78.7 302.0h0M116.2 358.0h0M307.6 299.5h0M115.2 367.3h0M196.7 384.4h0M170.2 392.9h0M213.4 384.3h0" stroke="#F8766D" stroke-width="2.30" stroke-linecap="round" fill="none"/>
<path d="M323.2 273.5h0M52.0 276.6h0M321.8 279.5h0M115.2 356.5h0M314.1 286.1h0M96.1 333.1h0M97.3 340.7h0M54.3 271.9h0M72.0 294.4h0M75.8 303.3h0M88.9 327.4h0M87.4 324.4h0M49.7 273.7h0M60.7 283.4h0M119.7 354.3h0M51.4 271.9h0M188.2 386.1h0M83.6 314.8h0M116.5 356.1h0M58.3 284.0h0M304.9 310.7h0M145.1 378.0h0M309.6 295.6h0M185.8 385.1h0M50.3 271.6h0M93.1 335.1h0M311.2 303.1h0M314.7 298.7h0M119.8 358.9h0M144.8 383.0h0M83.9 314.7h0M55.3 273.9h0M54.0 275.7h0M125.0 364.2h0M124.5 364.4h0M121.7 359.2h0M66.1 291.7h0M62.2 286.4h0M195.8 386.8h0M209.0 376.7h0M129.7 372.3h0M292.0 322.0h0M154.2 382.7h0M117.9 360.7h0M275.2 333.9h0M214.8 379.2h0M90.3 323.5h0M312.1 288.8h0M310.1 297.3h0M61.9 286.8h0M312.7 306.7h0M87.1 322.2h0M82.4 309.0h0M92.7 329.6h0M83.5 316.8h0M74.4 310.3h0M316.3 289.8h0M107.0 348.3h0M317.4 287.3h0M195.3 384.0h0M203.4 381.1h0M50.1 270.2h0M184.8 384.3h0M64.6 288.3h0M156.6 388.4h0M322.2 276.5h0M55.2 273.7h0M192.4 382.7h0M324.1 269.4h0M315.3 296.9h0M67.2 294.3h0M328.7 275.6h0M328.1 269.3h0M164.7 384.3h0M65.0 291.8h0M57.7 276.6h0M93.3 333.5h0M50.2 272.5h0M79.4 308.8h0M64.6 291.2h0M116.4 360.3h0M197.4 386.8h0M215.0 372.1h0M90.0 326.7h0M308.3 312.3h0M154.7 383.8h0M188.1 383.9h0M120.4 361.7h0M126.1 369.8h0M318.0 282.9h0M151.2 384.3h0M99.2 341.3h0M151.4 383.2h0M56.4 280.2h0M129.0 367.8h0M101.9 341.8h0M59.1 285.1h0M316.5 284.4h0M92.1 327.2h0M142.1 376.1h0M59.9 283.7h0M233.6 363.9h0M118.7 357.7h0M51.8 270.2h0M132.2 376.2h0M56.5 275.5h0M70.5 294.9h0M48.8 275.4h0M310.7 298.9h0M118.8 359.8h0M82.2 319.3h0" stroke="#00BFC4" stroke-width="2.30" stroke-linecap="round" fill="none"/>
<path d="M155.5 390.1h0M111.8 352.5h0M70.7 296.5h0M101.1 342.3h0M216.3 367.3h0M76.9 301.7h0M225.1 371.6h0M136.9 376.4h0M174.2 390.9h0M198.0 389.2h0M115.2 358.2h0M65.9 291.1h0M142.1 379.0h0M307.1 305.8h0M95.6 330.5h0M256.2 348.7h0M125.5 360.7h0M119.9 362.4h0M187.8 391.0h0M74.9 302.0h0M221.6 373.7h0M74.6 302.8h0M119.9 365.1h0M320.8 277.0h0M214.1 382.8h0M265.8 340.9h0M118.6 365.8h0M151.3 395.4h0M142.9 375.2h0M187.4 390.8h0M193.3 385.6h0M78.6 311.4h0M309.9 288.0h0M220.3 378.3h0M177.8 392.3h0M181.9 391.7h0M175.7 388.9h0M192.0 384.2h0M224.2 359.4h0M85.3 315.6h0M105.8 349.1h0M93.9 328.7h0M166.8 392.5h0M184.2 388.8h0M152.0 384.5h0M216.5 382.8h0M203.8 386.5h0M193.3 387.9h0M118.1 357.9h0M129.3 370.5h0M205.5 376.5h0M133.0 379.7h0M135.4 378.1h0M197.7 388.4h0M253.6 346.8h0M298.6 315.0h0M124.4 365.0h0M188.5 390.8h0M193.8 385.9h0" stroke="#F8766D" stroke-width="2.30" stroke-linecap="round" fill="none"/>
<path d="M50.3 274.3h0M205.9 376.9h0M213.2 375.1h0M124.0 359.4h0M309.1 295.8h0M171.8 384.9h0M101.6 344.4h0M50.0 270.5h0M72.9 299.1h0M313.1 297.5h0M51.7 272.1h0M320.0 290.5h0M92.3 333.8h0M115.5 356.7h0M59.1 275.9h0M73.2 302.7h0M55.5 276.8h0M202.7 381.7h0M165.9 385.3h0M332.3 271.6h0M88.4 323.4h0M120.5 360.7h0M69.0 294.0h0M159.7 388.0h0M93.3 332.5h0M60.8 289.4h0M97.9 337.1h0M324.0 281.3h0M124.6 361.9h0M142.8 374.2h0M90.9 332.2h0M120.9 365.2h0M113.8 358.0h0M136.5 371.6h0M128.4 362.8h0M333.6 266.5h0M146.8 381.4h0M316.1 302.0h0M218.6 375.3h0M181.6 388.3h0M121.9 362.5h0M69.8 296.0h0M52.5 278.2h0M175.5 386.2h0M52.1 273.1h0M92.9 331.2h0M104.6 343.0h0M152.6 382.7h0M307.9 303.3h0M189.9 382.9h0M143.1 377.1h0M93.8 334.1h0M115.7 357.3h0M128.3 366.3h0M85.2 319.2h0M305.5 305.4h0M324.3 270.5h0M156.2 386.2h0M156.2 386.7h0M61.1 283.1h0M219.9 369.3h0M92.9 323.6h0M125.7 358.7h0M54.2 278.3h0M315.2 282.9h0M162.4 384.8h0M217.8 375.9h0M87.2 325.4h0M53.7 276.7h0M82.0 312.7h0M317.7 291.2h0M98.8 341.9h0M324.6 273.8h0M321.7 272.7h0M65.8 296.3h0M180.9 389.6h0M325.5 273.8h0M76.8 309.8h0M131.6 369.5h0M55.9 279.1h0M323.0 271.5h0M54.2 276.1h0M201.4 379.7h0M59.0 281.2h0M64.0 290.8h0M140.0 374.0h0M168.5 386.7h0M179.0 387.9h0M312.5 297.5h0M75.3 300.0h0M174.7 389.8h0M108.5 351.2h0M108.1 353.6h0M53.3 271.9h0M128.0 366.5h0M176.1 390.3h0M156.2 386.0h0M116.2 356.1h0M150.1 382.1h0M124.6 357.3h0M308.1 310.9h0M326.4 270.1h0M311.5 294.3h0M61.1 285.8h0M98.0 336.1h0M323.0 279.3h0M156.2 383.1h0M81.6 313.9h0M187.9 390.5h0M50.9 272.5h0M210.9 378.8h0M140.6 380.6h0M96.1 337.4h0M110.1 351.2h0M326.9 274.2h0M60.9 283.7h0M220.6 375.4h0M98.0 341.0h0M170.1 386.1h0M318.5 279.0h0M119.1 355.5h0M55.5 276.7h0M120.1 360.6h0M51.3 271.8h0M302.7 308.7h0" stroke="#00BFC4" stroke-width="2.30" stroke-linecap="round" fill="none"/>
<path d="M115.0 355.1h0M137.0 376.4h0M64.8 291.1h0M223.2 374.9h0M199.5 385.8h0M138.1 377.5h0M63.8 287.7h0M88.8 319.0h0M218.2 375.3h0M206.9 382.9h0M145.3 381.1h0M198.2 389.2h0M170.2 392.7h0M73.5 299.4h0M159.1 390.8h0M199.9 386.3h0M195.4 383.0h0M115.1 360.7h0M119.4 359.7h0M75.8 306.9h0M151.0 387.9h0M160.1 388.6h0M97.2 335.4h0M164.5 390.2h0M226.9 360.1h0M197.8 387.1h0M177.9 396.7h0M309.8 296.3h0M130.3 372.8h0M105.6 342.1h0M118.9 363.1h0M141.3 379.0h0M120.4 366.1h0M136.8 380.9h0M161.0 388.9h0M147.2 383.3h0M116.7 363.8h0M78.4 301.9h0M114.0 359.2h0M159.8 388.6h0M135.9 380.0h0M115.2 354.1h0M171.1 391.3h0M59.5 282.7h0M74.8 298.5h0" stroke="#F8766D" stroke-width="2.30" stroke-linecap="round" fill="none"/>
<path d="M322.8 268.2h0M309.1 309.5h0M57.1 275.6h0M115.7 359.7h0M55.9 268.3h0M318.5 274.8h0M304.3 303.5h0M310.9 296.7h0M67.1 295.7h0M53.3 269.8h0M189.0 385.8h0M89.0 327.1h0M126.5 360.3h0M68.3 296.4h0M80.3 315.2h0M63.2 294.3h0M97.1 337.1h0M170.5 391.3h0M52.9 277.3h0M115.3 354.4h0M53.9 277.1h0M96.1 338.3h0M53.3 270.2h0M327.7 275.1h0M235.3 359.5h0M316.6 286.6h0M210.6 383.6h0M328.4 265.7h0M287.1 326.4h0M51.8 276.9h0M51.7 275.4h0M56.0 276.5h0M192.7 386.7h0M133.3 374.4h0M322.3 268.5h0M102.6 345.7h0M133.7 374.4h0M102.3 348.9h0M170.8 387.1h0M126.8 365.0h0M86.1 313.7h0M320.1 273.6h0M318.9 284.6h0M74.4 303.1h0M156.2 385.3h0M317.9 289.7h0M56.1 276.0h0M117.2 355.2h0M307.7 308.3h0M112.2 351.0h0M131.9 366.9h0M56.0 273.5h0M71.2 295.7h0M53.4 272.6h0M59.4 275.6h0M57.4 275.5h0M131.9 373.9h0M99.4 335.2h0M64.7 287.9h0M96.2 333.5h0M73.3 303.6h0M55.6 274.3h0M178.6 383.2h0M185.1 383.1h0M189.7 383.4h0M80.3 310.4h0M208.4 379.5h0M53.2 272.7h0M216.2 374.6h0M153.1 383.3h0M56.4 275.0h0M331.1 269.4h0M193.2 383.0h0M198.5 380.7h0M83.7 326.3h0M311.7 306.0h0M336.0 262.5h0M176.0 387.1h0M53.1 278.5h0M211.6 374.9h0M318.2 290.7h0M74.0 297.8h0M91.1 331.4h0M118.7 357.2h0M158.3 384.7h0M121.1 358.2h0M210.8 378.7h0M128.0 373.1h0M117.6 364.5h0M299.9 313.5h0M199.7 381.0h0M137.2 369.3h0M76.4 309.2h0M62.3 286.6h0M109.6 349.5h0M146.5 383.1h0M158.9 380.7h0M214.4 376.2h0M167.7 385.8h0M309.5 305.9h0M65.3 292.4h0M57.7 279.6h0M110.0 354.8h0M60.8 287.8h0M59.7 282.6h0M91.2 325.2h0M211.1 381.9h0M223.6 371.1h0M50.9 271.0h0M70.8 306.4h0M66.3 288.0h0M183.4 386.2h0M190.4 385.1h0M185.6 386.5h0M312.8 284.6h0M97.9 340.2h0M51.5 269.2h0M113.3 350.7h0M124.3 357.4h0M311.8 297.8h0M124.6 364.6h0M151.5 386.0h0M206.3 385.1h0M64.7 292.3h0M203.6 382.6h0" stroke="#00BFC4" stroke-width="2.30" stroke-linecap="round" fill="none"/>
<path d="M163.1 388.4h0M127.2 368.3h0M329.4 266.2h0M83.5 308.8h0M197.4 385.8h0M77.9 311.3h0M216.1 377.2h0M222.2 370.4h0M148.6 380.5h0M164.8 389.4h0M181.0 388.7h0M208.4 380.4h0M123.6 364.2h0M136.2 382.1h0M212.2 371.1h0M140.3 378.8h0M140.6 382.3h0M75.1 300.7h0M73.9 298.8h0M193.4 381.8h0M203.7 383.3h0M177.8 385.7h0M151.4 385.7h0M224.2 371.3h0M65.0 285.0h0M315.6 288.6h0M202.0 386.3h0M136.2 380.4h0M213.5 382.4h0M114.9 358.0h0M76.7 300.2h0M210.1 378.8h0M325.3 270.8h0M162.1 391.2h0M215.6 382.9h0M142.6 382.2h0M148.9 390.9h0M104.9 342.6h0M220.8 376.8h0M198.0 388.1h0M208.0 379.7h0M198.4 386.7h0M189.9 390.1h0M115.7 358.8h0" stroke="#F8766D" stroke-width="2.30" stroke-linecap="round" fill="none"/>
<path d="M298.0 302.1h0M127.8 365.7h0M165.8 388.4h0M132.2 369.3h0M329.9 270.0h0M182.1 389.5h0M53.1 273.5h0M110.1 353.3h0M305.6 311.2h0M52.7 276.7h0M73.4 302.2h0M74.8 302.7h0M162.8 387.9h0M315.5 287.7h0M176.6 384.2h0M324.5 268.1h0M318.4 276.2h0M188.6 384.2h0M206.3 375.6h0M92.5 326.0h0M213.7 378.5h0M138.5 375.6h0M221.3 372.4h0M116.8 357.9h0M213.8 380.5h0M59.0 275.1h0M320.3 278.0h0M67.1 293.1h0M314.8 299.0h0M156.0 385.1h0M63.5 287.7h0M329.9 265.0h0M219.0 374.8h0M172.1 391.1h0M323.9 271.5h0M59.0 274.9h0M53.0 272.7h0M120.5 359.7h0M148.5 385.3h0M157.7 388.4h0M55.1 276.9h0M68.1 294.8h0M108.0 344.1h0M317.6 295.7h0M60.9 285.1h0M314.7 299.3h0M126.5 372.1h0M316.5 281.8h0M101.6 339.5h0M187.0 387.3h0M78.9 314.2h0M160.5 383.4h0M52.4 270.9h0M59.3 281.0h0M65.3 286.8h0M221.3 371.2h0M329.6 271.6h0M304.9 300.3h0M64.0 285.7h0M151.6 383.8h0M92.0 327.7h0M113.0 357.9h0M142.2 370.8h0M150.3 381.4h0M310.9 293.2h0M223.2 370.6h0M105.3 347.3h0M53.2 272.7h0M324.3 276.1h0M105.6 347.4h0M149.9 384.0h0M63.6 287.9h0M51.6 271.8h0M139.5 382.1h0M309.8 294.7h0M53.5 279.1h0M54.5 275.9h0M61.7 291.5h0M207.5 379.8h0M316.1 295.1h0M121.3 359.0h0M320.1 275.2h0M75.3 304.4h0M66.8 298.2h0M218.3 376.0h0M205.8 378.8h0M161.5 384.4h0M125.8 364.8h0M219.1 375.5h0M147.4 383.3h0M142.0 384.0h0M88.1 321.6h0M95.8 335.6h0M98.6 340.4h0M95.5 337.5h0M135.5 372.3h0M66.2 287.6h0M87.4 328.9h0M168.3 389.1h0M330.2 268.8h0M313.7 284.7h0M332.2 267.8h0M52.2 272.8h0M326.4 280.4h0M315.4 280.9h0M97.8 336.2h0M324.6 267.3h0M152.4 381.4h0M195.3 383.7h0M98.1 334.1h0M163.7 382.3h0M55.1 275.0h0M313.4 309.3h0M55.5 276.5h0M313.5 303.6h0M92.4 321.2h0M189.3 389.4h0M182.0 387.0h0" stroke="#00BFC4" stroke-width="2.30" stroke-linecap="round" fill="none"/>
<path d="M322.6 277.0h0M306.9 307.3h0M191.8 389.1h0M166.3 389.8h0M208.4 375.5h0M147.7 384.1h0M202.4 384.3h0M117.0 359.4h0M179.4 390.7h0M206.3 391.7h0M325.4 264.4h0M174.1 387.6h0M158.3 392.8h0M125.0 368.1h0M115.6 357.9h0M69.6 296.2h0M198.5 387.8h0M127.3 369.6h0M168.1 394.3h0M116.8 366.5h0M248.3 353.9h0M215.2 378.5h0M90.6 321.4h0M184.4 388.5h0M116.0 356.2h0M191.0 390.0h0M124.3 364.4h0M85.8 318.8h0M122.8 367.2h0M150.7 390.1h0M153.2 392.3h0M200.9 383.7h0M126.5 363.3h0M137.3 369.4h0M97.4 340.8h0M77.9 306.9h0M76.2 302.9h0M138.7 384.8h0M159.1 391.1h0M234.7 356.7h0M176.4 395.1h0M122.1 368.5h0M195.3 390.9h0M138.5 383.0h0M185.5 392.3h0M188.8 391.7h0M214.0 379.3h0M98.7 337.5h0M184.2 390.4h0M122.2 359.6h0M115.5 361.0h0" stroke="#F8766D" stroke-width="2.30" stroke-linecap="round" fill="none"/>
<path d="M311.1 389.2h0" stroke="#00BFC4" stroke-width="3.40" stroke-linecap="round" fill="none"/>
<text x="314.8" y="392.4" font-size="8.6" text-anchor="start" fill="#111" stroke="#111" stroke-width="0.12">WT</text>
<path d="M332.4 389.2h0" stroke="#F8766D" stroke-width="3.40" stroke-linecap="round" fill="none"/>
<text x="335.2" y="392.4" font-size="8.6" text-anchor="start" fill="#111" stroke="#111" stroke-width="0.12">TS</text>
<text x="361.7" y="248.0" font-size="17.2" text-anchor="start" fill="#000" font-weight="bold">E</text>
<line x1="382.7" y1="248.0" x2="382.7" y2="405.6" stroke="#9a9a9a" stroke-width="1.0"/>
<line x1="382.7" y1="405.1" x2="545.5" y2="405.1" stroke="#9a9a9a" stroke-width="1.0"/>
<text x="380.0" y="404.2" font-size="9.2" text-anchor="end" fill="#666" stroke="#666" stroke-width="0.12">0.0</text>
<text x="380.0" y="359.675" font-size="9.2" text-anchor="end" fill="#666" stroke="#666" stroke-width="0.12">2.5</text>
<text x="380.0" y="315.15" font-size="9.2" text-anchor="end" fill="#666" stroke="#666" stroke-width="0.12">5.0</text>
<text x="380.0" y="270.625" font-size="9.2" text-anchor="end" fill="#666" stroke="#666" stroke-width="0.12">7.5</text>
<text x="420.9" y="414.3" font-size="9.2" text-anchor="middle" fill="#666" stroke="#666" stroke-width="0.12">WT</text>
<text x="504.5" y="414.3" font-size="9.2" text-anchor="middle" fill="#666" stroke="#666" stroke-width="0.12">TS</text>
<text x="364.8" y="319.0" font-size="9.2" text-anchor="middle" fill="#111" transform="rotate(-90 364.8 319.0)" stroke="#111" stroke-width="0.25">Pseudotime</text>
<rect x="391.8" y="336.4" width="65.8" height="62.7" fill="#00BFC4"/>
<rect x="473.3" y="328.2" width="65.4" height="29.1" fill="#F8766D"/>
<line x1="424.7" y1="248" x2="424.7" y2="336.4" stroke="#999" stroke-width="1.0"/>
<line x1="506.0" y1="248" x2="506.0" y2="328.2" stroke="#999" stroke-width="1.0"/>
<line x1="506.0" y1="357.3" x2="506.0" y2="400" stroke="#999" stroke-width="1.0"/>
<line x1="391.8" y1="360.9" x2="457.6" y2="360.9" stroke="#333" stroke-width="1.0"/>
<line x1="473.3" y1="338.2" x2="538.7" y2="338.2" stroke="#333" stroke-width="1.0"/>
<path d="M444.0 400.2h0M442.5 399.9h0M397.9 398.6h0M394.3 399.9h0M398.4 400.1h0M444.8 399.4h0M403.6 399.1h0M393.4 399.6h0M407.8 399.9h0M452.4 398.5h0M405.3 399.7h0M434.1 399.7h0M454.4 400.2h0M427.3 399.0h0M412.9 399.3h0M447.0 399.5h0M416.6 399.8h0M430.2 398.7h0M429.7 399.0h0M454.3 399.8h0M453.2 398.5h0M409.7 399.2h0M401.8 399.2h0M446.7 399.4h0M398.7 400.8h0M400.7 399.5h0M394.8 398.8h0M455.0 398.9h0M449.9 399.0h0M396.6 399.2h0M408.4 399.3h0M420.3 399.0h0M446.9 400.6h0M447.2 399.8h0M412.1 399.9h0M418.4 399.1h0M423.0 399.9h0M397.8 398.9h0M451.0 399.7h0M405.9 400.7h0M415.5 398.5h0M410.5 398.5h0M445.8 398.5h0M424.6 400.8h0M452.3 398.8h0M406.4 398.5h0M397.4 400.9h0M436.0 399.7h0M456.4 399.5h0M425.3 400.3h0M446.1 400.0h0M435.1 399.5h0M392.2 399.1h0M429.8 399.8h0M420.1 398.4h0M423.8 399.3h0M400.5 400.3h0M395.6 398.6h0M416.6 400.5h0M396.1 400.2h0M394.3 400.8h0M422.2 400.1h0M407.4 400.1h0M401.2 400.4h0M450.8 400.7h0M395.0 399.7h0M427.3 400.2h0M432.6 398.5h0M399.3 398.7h0M419.8 399.8h0M434.7 400.6h0M427.3 400.0h0M409.3 400.7h0M400.0 398.5h0M444.2 400.3h0M448.6 399.1h0M411.6 399.2h0M393.6 398.7h0M411.2 399.4h0M415.2 399.2h0M455.2 399.3h0M403.8 399.3h0M422.4 399.5h0M395.8 399.2h0M409.3 400.6h0M425.7 399.3h0M445.5 399.7h0M446.2 400.0h0M456.9 399.9h0M399.5 398.8h0M410.1 398.6h0M448.0 399.3h0M400.0 400.0h0M415.5 400.1h0M454.0 398.9h0M455.5 399.8h0M395.0 398.6h0M440.9 399.9h0M436.9 400.2h0M449.2 398.7h0M406.2 400.0h0M395.0 398.5h0M443.4 399.9h0M452.7 400.0h0M395.3 399.0h0M441.8 399.9h0M445.6 400.5h0M454.2 399.4h0M429.0 399.6h0M393.6 398.7h0M418.3 399.5h0M453.7 399.1h0M440.7 400.0h0M404.0 399.3h0M436.3 399.3h0M456.9 400.4h0M400.6 400.1h0M396.8 400.6h0M433.8 398.5h0M430.1 399.8h0M424.8 399.0h0M419.5 400.8h0M392.9 398.8h0M424.3 399.4h0M435.9 400.8h0M442.7 400.7h0M396.2 399.1h0M424.3 400.2h0M419.1 400.6h0M401.6 399.7h0M424.7 399.8h0M451.9 400.3h0M423.7 398.4h0M406.7 398.5h0M436.3 399.1h0M393.0 400.8h0M440.5 398.8h0M421.4 399.4h0M403.9 400.7h0M428.7 400.7h0M448.3 399.8h0M436.5 399.4h0M446.5 400.2h0M411.9 400.1h0M444.2 400.0h0M400.7 400.9h0M402.2 398.5h0M403.5 400.3h0M406.6 399.9h0M428.6 400.4h0M407.2 399.7h0M453.8 398.8h0M424.8 398.7h0M403.3 400.5h0M430.1 400.3h0M407.1 400.2h0M437.2 398.8h0M435.8 398.8h0M443.7 398.7h0M402.8 399.9h0M418.1 398.4h0M428.8 400.5h0M396.9 399.5h0M430.8 400.2h0M403.3 399.6h0M423.8 398.7h0M427.6 398.5h0M398.7 400.0h0M399.0 399.7h0M404.1 400.2h0M418.1 398.8h0M424.6 400.5h0M440.0 399.6h0M407.6 399.0h0M431.7 399.9h0M426.0 400.4h0M424.3 399.7h0M405.4 399.0h0M435.2 399.8h0M419.5 398.4h0M435.5 399.1h0M446.9 400.7h0M413.0 399.2h0M427.5 398.9h0M443.2 398.5h0M442.6 398.9h0M441.3 398.9h0M408.8 400.7h0M453.9 400.3h0M433.5 399.7h0M419.8 399.8h0M441.8 400.7h0M433.7 399.4h0M421.7 399.4h0M406.6 400.4h0M425.5 399.6h0M419.8 399.2h0M440.8 400.4h0M437.8 399.1h0M428.8 400.3h0M406.1 398.6h0M396.1 398.7h0M442.0 400.8h0M404.5 399.4h0M442.7 399.2h0M405.7 400.7h0M415.3 399.9h0M417.4 400.2h0M393.9 398.5h0M402.8 400.9h0M436.5 399.9h0M405.5 400.0h0M411.7 400.2h0M407.9 398.8h0M398.0 400.7h0M418.3 400.2h0M438.2 400.2h0M442.9 398.6h0M398.1 400.2h0M455.9 398.8h0M409.8 398.8h0M445.9 398.7h0M404.6 399.3h0M430.6 398.6h0M436.0 399.8h0M422.9 400.8h0M420.3 400.6h0M428.1 399.8h0M412.4 399.4h0M425.6 400.8h0M403.1 366.6h0M433.1 378.8h0M450.9 372.1h0M448.9 372.7h0M394.5 378.9h0M453.3 396.4h0M405.1 385.1h0M413.7 393.5h0M435.4 394.7h0M437.1 392.8h0M409.7 369.5h0M445.9 365.8h0M455.6 386.1h0M457.0 393.8h0M433.1 363.3h0M455.2 377.7h0M442.3 377.7h0M400.3 387.0h0M416.6 375.7h0M420.6 382.6h0M422.8 371.2h0M404.7 363.0h0M417.3 392.5h0M426.9 373.5h0M438.7 372.9h0M428.4 366.2h0M394.5 386.4h0M429.2 379.1h0M442.0 381.0h0M455.9 368.3h0M406.0 376.2h0M417.3 370.9h0M401.5 374.3h0M454.2 366.6h0M434.5 369.5h0M430.6 377.9h0M415.8 377.1h0M413.0 378.5h0M441.8 389.6h0M416.0 363.1h0M455.1 391.1h0M446.2 380.4h0M444.2 387.0h0M437.7 395.3h0M403.2 367.4h0M429.0 383.2h0M427.1 377.8h0M406.5 366.7h0M447.2 398.1h0M414.1 387.1h0M456.2 370.0h0M433.0 386.4h0M421.1 380.7h0M442.1 361.1h0M420.6 381.0h0M455.3 364.7h0M413.5 397.0h0M431.7 360.4h0M400.7 371.3h0M428.3 373.9h0M408.0 373.9h0M426.9 380.6h0M420.7 397.5h0M393.8 386.2h0M437.3 374.2h0M408.4 380.3h0M394.8 375.7h0M423.2 377.2h0M410.6 384.8h0M453.6 381.1h0M439.7 390.8h0M452.5 377.2h0M432.6 381.5h0M417.3 398.8h0M404.0 378.4h0M450.1 382.8h0M413.9 379.4h0M392.3 396.8h0M449.0 384.0h0M429.6 393.7h0M421.0 394.2h0M447.6 396.2h0M452.0 398.5h0M408.0 364.2h0M437.0 375.8h0M411.2 366.3h0M424.3 384.9h0M415.6 378.4h0M436.7 395.4h0M455.7 385.9h0M447.5 389.6h0M410.9 370.9h0M430.1 370.0h0M413.8 364.9h0M444.8 396.8h0M408.9 376.2h0M407.9 371.8h0M421.8 398.0h0M429.6 365.1h0M434.4 384.0h0M395.2 360.4h0M418.6 389.4h0M419.7 374.1h0M418.3 373.2h0M440.3 387.9h0M392.7 386.0h0M456.4 370.5h0M415.6 377.4h0M401.6 364.1h0M410.4 366.0h0M395.3 395.0h0M409.5 368.9h0M425.9 367.0h0M392.2 365.2h0M454.0 373.6h0M429.4 389.7h0M414.1 396.3h0M425.8 365.1h0M401.2 368.3h0M424.6 382.7h0M406.8 366.1h0M395.0 396.4h0M398.8 363.7h0M445.7 376.6h0M405.4 376.0h0M440.9 361.7h0M414.2 364.9h0M418.6 393.1h0M433.8 368.0h0M402.9 392.7h0M412.5 375.8h0M417.2 381.7h0M405.1 380.2h0M432.3 374.8h0M448.0 367.1h0M434.2 383.1h0M445.5 363.3h0M406.5 395.8h0M428.2 393.2h0M403.6 366.5h0M445.4 374.1h0M411.4 362.7h0M439.0 374.9h0M404.1 392.0h0M409.5 380.8h0M397.0 398.9h0M427.3 361.8h0M425.3 363.0h0M400.7 398.1h0M411.1 381.9h0M453.0 388.1h0M430.9 380.2h0M454.2 384.5h0M405.1 365.5h0M432.0 386.6h0M403.4 391.3h0M445.2 361.1h0M401.5 387.6h0M422.1 371.7h0M409.1 379.1h0M405.7 370.7h0M438.7 377.3h0M440.2 367.4h0M418.1 392.9h0M440.4 362.2h0M393.1 389.0h0M405.9 363.6h0M443.2 398.8h0M448.3 378.2h0M393.2 383.7h0M451.5 395.0h0M397.0 370.2h0M429.6 372.2h0M416.5 372.0h0M420.3 380.4h0M418.3 377.3h0M426.9 379.0h0M433.5 386.9h0M422.6 377.8h0M402.2 366.1h0M407.9 367.0h0M412.0 396.3h0M426.8 369.0h0M418.3 380.9h0M408.2 372.6h0M429.5 381.1h0M420.2 388.9h0M392.3 361.0h0M416.1 361.5h0M448.3 371.6h0M444.1 356.0h0M411.7 358.7h0M427.0 343.8h0M453.9 343.0h0M419.2 357.4h0M406.9 349.5h0M449.4 342.6h0M435.6 336.7h0M437.0 339.1h0M423.6 340.3h0M427.2 357.4h0M430.1 337.9h0M411.3 347.9h0M454.0 349.2h0M440.3 346.3h0M405.9 345.3h0M399.6 339.7h0M432.9 359.6h0M455.4 358.9h0M454.4 348.9h0M422.4 339.5h0M416.1 357.5h0M397.6 344.4h0M396.1 350.1h0M394.1 336.9h0M413.7 341.1h0M443.5 355.0h0M432.3 335.8h0M405.9 337.7h0M406.6 355.9h0M445.7 341.7h0M452.9 347.1h0M395.6 347.8h0M450.2 349.7h0M428.4 349.3h0M404.2 345.8h0M427.9 336.0h0M414.6 337.9h0M437.2 351.3h0M409.6 350.2h0M397.0 339.6h0M432.8 352.2h0M448.8 350.2h0M441.6 343.2h0M422.5 358.0h0M417.8 340.5h0M427.7 354.8h0M393.4 347.7h0M441.9 353.3h0M405.7 346.8h0M432.9 352.8h0M401.5 349.6h0M397.4 345.7h0M440.3 338.0h0M426.8 352.4h0M450.5 337.8h0M397.6 336.1h0M436.4 339.0h0M424.5 352.0h0M424.1 345.3h0M455.3 345.4h0M419.9 342.3h0M406.6 344.6h0M443.1 354.4h0M430.8 352.3h0M433.3 355.1h0M427.3 349.1h0M431.3 340.5h0M430.5 342.5h0M434.3 357.4h0M405.4 353.4h0M421.0 343.1h0M444.6 347.5h0M448.8 345.4h0M445.4 343.9h0M393.0 343.3h0M410.8 354.2h0M410.2 342.7h0M402.2 354.5h0M393.3 350.5h0M429.8 353.2h0M397.8 355.4h0M406.5 352.9h0M438.9 358.4h0M454.5 337.3h0M392.3 350.6h0M401.0 336.8h0M442.7 354.6h0M425.9 350.4h0M423.3 337.2h0M424.3 353.6h0M432.1 349.8h0M424.9 347.1h0M394.3 356.0h0M425.2 343.3h0M456.0 348.1h0M398.4 347.6h0M450.8 340.4h0M404.0 358.2h0M402.8 337.0h0M410.6 351.2h0M429.4 340.1h0M455.9 343.6h0M448.1 341.6h0M415.8 344.3h0M420.8 341.3h0M427.9 342.0h0M423.2 354.8h0M434.8 339.1h0M392.4 356.3h0M418.2 356.2h0M396.7 355.0h0M400.6 348.6h0M431.2 337.4h0M433.4 357.0h0M423.4 336.1h0M414.7 357.2h0M442.9 348.2h0M423.9 351.5h0M436.8 343.2h0M394.6 345.7h0M430.3 353.9h0M434.3 347.2h0M447.7 349.1h0M417.3 353.8h0M426.6 354.5h0M408.4 355.2h0M439.7 358.9h0M422.7 357.0h0M402.9 357.6h0M424.6 352.8h0M439.7 357.3h0M438.6 343.7h0M425.2 342.5h0M443.1 336.1h0M439.1 338.6h0M445.8 343.0h0M425.7 336.7h0M412.5 338.9h0M405.9 338.5h0M415.6 359.3h0M407.2 340.5h0M436.8 351.1h0M393.4 352.4h0M402.2 338.5h0M402.0 343.5h0M454.7 342.3h0M447.0 337.5h0M392.9 349.8h0M405.4 341.0h0M435.7 358.1h0M419.1 358.6h0M436.7 354.7h0M433.5 353.0h0M444.6 359.8h0M396.2 338.4h0M419.1 346.0h0M423.4 347.6h0M422.2 356.2h0M446.7 340.2h0M435.2 342.8h0M403.7 349.8h0M418.4 356.5h0M447.7 336.3h0M442.5 338.2h0M393.7 357.2h0M393.7 350.1h0M431.3 347.8h0M451.1 344.7h0M414.5 343.2h0M402.2 342.3h0M424.0 351.5h0M430.4 349.4h0M445.6 356.9h0M400.3 347.6h0M396.9 340.2h0M451.6 356.1h0M455.4 348.8h0M438.8 357.5h0M401.8 354.9h0M412.2 344.3h0M427.9 358.1h0M392.8 345.1h0M401.4 352.5h0M418.6 352.5h0M446.2 340.9h0M433.5 347.4h0M429.6 346.3h0M451.6 339.2h0M408.3 341.6h0M437.0 359.4h0M442.2 347.5h0M442.8 351.4h0M402.9 347.2h0M413.2 356.1h0M451.5 350.4h0M420.3 356.6h0M418.4 338.9h0M454.4 349.6h0M427.1 343.4h0M450.9 348.4h0M421.7 342.1h0M436.8 353.0h0M414.8 340.3h0M416.5 352.8h0M429.9 347.8h0M455.4 347.5h0M439.7 354.6h0M432.9 348.4h0M413.5 359.1h0M449.0 343.3h0M407.0 343.8h0M433.1 359.3h0M446.9 351.3h0M403.1 352.1h0M447.6 358.8h0M433.3 342.3h0M420.9 357.7h0M402.2 347.7h0M405.4 336.7h0M455.7 345.9h0M394.7 343.6h0M440.3 348.5h0M439.1 340.2h0M408.0 342.7h0M417.9 353.4h0M413.8 349.1h0M431.8 344.9h0M448.5 357.3h0M438.9 351.0h0M424.9 338.2h0M414.1 338.5h0M446.9 352.8h0M443.0 337.6h0M429.5 343.8h0M418.8 340.0h0M403.9 348.9h0M396.3 337.0h0M438.5 347.5h0M422.3 352.6h0M454.7 349.6h0M405.7 351.1h0M392.4 347.8h0M442.9 336.8h0M440.9 356.0h0M410.7 348.4h0M447.5 337.1h0M400.6 337.2h0M444.0 359.8h0M402.8 340.3h0M396.6 357.1h0M426.5 355.1h0M447.8 359.5h0M437.9 353.7h0M424.4 342.5h0M454.3 341.6h0M413.0 343.5h0M404.2 345.5h0M424.4 346.4h0M456.5 359.0h0M456.1 357.4h0M421.1 356.4h0M425.5 336.5h0M434.9 350.8h0M411.9 342.8h0M413.0 338.6h0M453.0 348.2h0M395.2 347.8h0M443.3 352.1h0M416.3 340.6h0M416.6 347.0h0M430.7 357.6h0M419.5 357.9h0M445.4 347.9h0M427.1 344.3h0M442.1 348.1h0M395.7 339.0h0M456.8 341.1h0M407.2 340.4h0M454.6 359.5h0M426.1 337.2h0M439.5 336.4h0M412.4 342.2h0M401.2 338.4h0M436.7 347.7h0M442.4 342.5h0M396.9 348.0h0M457.0 358.4h0M392.9 346.1h0M443.0 341.1h0M447.8 350.7h0M456.8 356.0h0M411.7 338.8h0M392.4 336.4h0M401.7 337.9h0M398.1 340.3h0M433.4 352.9h0M428.2 357.9h0M395.7 351.6h0M431.5 354.3h0M438.2 330.0h0M397.3 312.9h0M437.4 332.9h0M425.3 332.6h0M432.0 326.7h0M453.1 332.9h0M456.2 325.5h0M415.9 310.8h0M401.8 333.8h0M415.7 329.9h0M396.4 312.4h0M410.8 331.7h0M392.9 313.2h0M446.9 325.4h0M409.7 315.6h0M400.1 333.2h0M433.1 317.4h0M422.4 327.6h0M437.8 316.4h0M426.6 335.3h0M420.9 325.1h0M440.1 323.7h0M434.4 326.0h0M416.0 310.3h0M453.1 316.0h0M395.3 328.9h0M446.3 318.5h0M405.0 327.9h0M426.3 313.6h0M444.7 324.6h0M428.1 324.9h0M429.7 333.6h0M407.6 326.5h0M412.7 330.0h0M453.6 317.0h0M396.6 315.0h0M449.0 324.1h0M453.2 315.0h0M402.2 313.3h0M454.8 331.1h0M392.9 316.8h0M395.1 334.1h0M422.3 328.8h0M415.2 332.6h0M440.0 326.1h0M453.4 334.8h0M395.4 328.8h0M435.8 318.0h0M411.2 312.6h0M439.9 326.6h0M430.3 310.9h0M406.8 316.8h0M443.2 313.6h0M403.4 328.6h0M407.0 310.6h0M451.4 333.3h0M402.5 316.6h0M419.3 321.9h0M395.2 324.9h0M446.7 311.9h0M422.7 329.1h0M415.0 314.1h0M393.3 317.4h0M412.3 314.1h0M410.0 310.4h0M437.8 320.7h0M409.4 314.9h0M412.9 317.6h0M396.2 322.3h0M403.2 317.0h0M406.2 320.9h0M406.3 322.4h0M439.8 326.9h0M392.2 315.2h0M428.3 311.3h0M407.6 319.8h0M436.5 330.1h0M448.1 320.3h0M425.6 327.8h0M427.4 310.5h0M451.3 312.2h0M392.7 326.2h0M399.3 327.9h0M396.0 319.2h0M423.5 330.0h0M444.9 278.0h0M415.8 295.5h0M423.6 283.5h0M450.7 286.1h0M439.8 294.7h0M437.5 301.4h0M414.3 283.5h0M452.7 289.0h0M397.1 275.1h0M395.5 276.5h0M443.2 288.2h0M450.5 272.9h0M419.9 296.9h0M453.8 277.8h0M442.6 281.8h0M450.9 297.9h0M443.6 306.7h0M440.0 307.9h0M399.1 303.2h0M409.6 308.1h0M408.7 302.4h0M423.6 283.0h0M425.6 261.2h0M452.1 265.8h0M399.1 257.0h0M455.4 261.8h0M423.3 259.4h0M454.9 261.4h0M408.6 259.3h0M433.7 259.6h0M434.4 266.3h0M422.6 266.6h0M439.4 261.3h0M434.8 266.4h0M417.0 258.1h0M396.1 260.3h0M408.8 256.5h0M441.5 257.9h0M396.0 258.2h0M419.4 262.7h0M417.9 259.4h0M422.3 257.2h0M425.6 256.8h0M421.2 259.5h0M422.0 260.9h0M432.8 262.9h0M454.7 261.6h0M447.7 262.2h0M392.4 256.5h0M398.3 256.3h0M450.3 261.1h0M434.9 262.5h0M395.5 257.7h0M404.2 255.9h0M416.2 258.1h0M404.4 264.7h0M418.7 266.1h0M412.1 254.7h0M450.4 257.2h0M406.1 262.1h0M402.2 260.5h0M402.8 260.8h0M438.7 260.2h0M431.1 263.8h0M455.3 257.2h0M424.0 262.8h0M396.8 264.4h0M440.9 256.3h0M408.2 260.1h0M440.7 256.2h0M446.4 259.3h0M395.6 257.1h0M395.0 254.5h0M456.4 259.4h0M447.5 256.6h0M444.7 262.4h0M427.4 258.9h0M429.1 267.3h0M446.1 260.8h0M403.0 263.4h0M443.6 266.4h0M440.7 258.1h0M412.4 260.3h0M394.6 258.8h0M443.2 265.4h0M403.4 259.4h0M454.5 252.8h0M409.6 258.1h0M426.3 264.9h0M455.8 257.9h0M396.3 259.8h0M450.3 262.7h0M451.5 263.3h0M397.3 259.7h0M431.3 267.3h0M440.6 256.7h0M435.8 257.8h0M395.4 258.5h0M405.3 257.8h0M414.8 255.9h0M452.4 265.4h0M397.8 259.7h0M455.1 258.3h0M400.2 257.8h0M393.4 261.8h0M406.5 260.6h0M403.2 257.8h0M431.8 258.2h0M448.3 254.0h0M410.6 266.5h0M439.9 260.1h0M394.3 261.2h0M392.7 259.3h0M423.6 260.1h0M396.6 262.6h0M413.9 259.4h0M405.6 264.9h0M408.1 264.1h0M402.4 264.0h0M453.8 259.6h0M410.6 257.6h0M410.2 256.1h0M426.5 265.1h0M430.7 261.3h0M421.9 256.4h0M405.7 260.3h0M403.3 255.5h0M400.7 255.1h0M394.2 262.1h0M447.2 262.0h0M396.6 260.0h0M453.9 262.9h0M445.1 260.4h0M445.0 261.3h0M417.5 253.9h0M398.3 260.3h0M440.3 262.4h0M413.9 260.3h0M447.0 259.5h0M413.5 267.3h0M408.6 264.3h0M407.6 265.4h0M398.0 261.0h0M454.5 258.7h0M400.3 263.5h0M397.8 266.1h0M414.1 258.0h0M437.1 262.0h0M452.7 260.6h0M454.2 258.5h0M410.2 257.1h0M423.9 262.2h0M429.5 263.9h0M446.8 264.6h0M433.7 263.7h0M434.3 259.9h0M447.6 250.9h0M427.8 258.7h0M414.9 262.5h0M452.1 261.0h0M437.1 261.7h0M456.1 265.5h0M456.1 260.5h0M420.0 259.1h0M451.0 259.8h0M393.0 263.1h0M433.2 260.5h0M456.7 262.8h0M434.2 261.6h0M409.7 266.7h0M407.3 257.8h0M425.4 261.5h0M397.3 254.0h0M393.0 248.5h0M419.6 261.9h0M414.2 246.9h0M428.1 250.2h0M416.9 247.2h0M408.3 257.6h0M452.5 256.4h0M397.3 250.7h0M404.7 260.6h0M397.6 263.8h0M455.1 263.4h0M426.4 259.8h0M433.5 258.9h0M409.9 252.7h0M416.1 260.5h0M443.3 261.1h0M435.0 260.7h0M404.4 257.9h0M439.3 256.9h0M397.9 256.4h0M395.3 253.3h0M392.9 259.5h0M418.3 247.0h0M449.7 252.8h0M450.6 254.9h0M400.3 249.9h0M422.7 255.7h0M452.1 248.0h0M403.0 256.9h0M402.6 249.9h0M450.6 263.3h0M419.4 247.9h0M432.9 247.2h0M447.9 259.8h0M398.4 256.5h0M419.4 250.8h0M398.9 261.6h0M410.2 249.6h0M425.2 256.2h0M402.6 251.8h0M412.8 261.5h0M417.1 261.9h0M404.0 264.8h0M403.9 253.4h0M448.7 255.8h0M446.6 253.4h0M427.2 261.7h0M452.5 261.2h0M401.6 256.9h0M453.5 259.3h0M404.9 263.8h0M426.0 250.0h0M452.2 248.0h0M397.1 247.3h0M392.9 248.8h0M431.0 260.1h0M455.3 252.3h0M445.5 253.1h0M406.9 254.5h0M427.5 261.0h0M454.3 255.5h0M443.3 265.0h0M419.0 252.0h0M443.8 265.4h0M420.6 253.6h0M445.9 248.1h0M419.2 260.8h0M399.9 260.8h0M399.3 256.4h0M392.7 248.4h0M409.8 263.2h0M437.8 260.1h0M409.1 262.2h0M430.8 264.2h0M400.7 261.4h0M404.5 250.3h0M437.5 258.0h0M456.9 257.6h0M444.7 249.6h0M439.2 258.2h0M400.9 248.6h0M407.6 256.6h0M454.6 263.1h0M413.1 250.7h0M454.7 263.0h0M401.1 247.6h0M409.6 251.7h0M433.3 262.2h0M406.9 259.5h0M478.0 392.7h0M516.1 365.5h0M486.5 385.2h0M491.4 375.5h0M478.7 375.7h0M519.4 368.2h0M475.6 360.9h0M483.9 390.8h0M495.4 368.6h0M519.6 357.9h0M498.0 392.2h0M522.3 373.3h0M515.3 372.9h0M482.2 392.9h0M496.2 359.0h0M527.5 357.0h0M513.2 368.0h0M506.0 371.6h0M475.9 363.4h0M533.4 372.0h0M518.0 375.0h0M487.7 368.4h0M536.3 376.3h0M500.6 396.3h0M478.2 389.9h0M500.9 362.4h0M497.4 393.9h0M516.6 392.8h0M488.9 365.8h0M485.0 368.6h0M524.3 398.9h0M478.3 379.7h0M505.4 368.3h0M491.2 395.3h0M493.4 359.4h0M475.7 395.0h0M530.8 384.9h0M489.8 389.0h0M529.9 377.3h0M491.3 400.0h0M538.4 374.9h0M528.0 368.2h0M496.8 366.2h0M515.3 384.0h0M520.0 358.1h0M515.0 367.8h0M527.5 393.0h0M478.9 391.3h0M525.9 361.9h0M527.0 397.6h0M532.0 383.6h0M487.5 386.1h0M527.4 384.7h0M481.0 396.8h0M516.3 392.6h0M475.4 392.5h0M514.8 375.1h0M535.8 390.7h0M517.1 380.1h0M493.9 387.5h0M482.3 398.9h0M527.9 386.1h0M491.6 370.1h0M508.8 379.3h0M528.2 370.1h0M491.8 394.6h0M530.7 362.7h0M507.9 368.0h0M491.1 397.3h0M495.0 382.8h0M488.4 372.4h0M475.4 360.7h0M521.9 372.3h0M499.5 358.6h0M498.7 392.6h0M505.6 378.6h0M494.6 397.6h0M517.7 378.6h0M509.1 400.9h0M533.8 400.5h0M491.8 394.6h0M493.8 385.3h0M499.0 386.2h0M494.0 356.5h0M478.1 396.1h0M522.5 392.5h0M495.5 363.2h0M526.1 366.9h0M488.7 370.2h0M477.7 400.1h0M508.1 394.3h0M505.2 365.4h0M508.0 398.0h0M518.8 374.1h0M513.7 385.9h0M502.8 384.1h0M535.6 378.4h0M504.2 365.1h0M482.2 356.4h0M530.9 364.6h0M518.3 371.7h0M501.1 363.3h0M511.3 395.6h0M488.2 380.4h0M475.9 357.2h0M483.0 384.3h0M512.7 396.4h0M495.9 371.6h0M474.8 390.6h0M479.9 359.7h0M494.9 389.1h0M475.6 369.7h0M504.7 363.0h0M517.4 397.5h0M485.0 357.5h0M532.5 381.0h0M505.7 376.8h0M509.1 383.4h0M524.9 400.2h0M521.1 359.6h0M498.4 393.6h0M500.4 380.3h0M516.8 383.9h0M483.2 379.3h0M532.2 377.9h0M501.8 356.6h0M495.3 394.0h0M505.4 383.5h0M511.9 362.4h0M530.5 367.6h0M491.2 364.2h0M532.8 380.0h0M510.0 382.5h0M531.6 386.5h0M514.0 385.8h0M526.1 396.9h0M475.8 365.9h0M501.3 387.2h0M484.1 384.2h0M484.2 390.0h0M510.0 369.6h0M474.0 387.5h0M473.8 380.2h0M514.4 388.1h0M483.7 365.4h0M516.6 387.2h0M501.2 375.4h0M531.5 377.9h0M519.2 399.9h0M507.4 357.9h0M486.0 362.6h0M531.8 367.7h0M499.9 393.4h0M537.7 362.8h0M491.3 357.7h0M498.1 362.3h0M517.9 372.8h0M485.0 364.4h0M475.1 389.2h0M507.8 367.0h0M486.4 386.2h0M527.3 385.1h0M513.3 364.3h0M487.9 396.8h0M506.8 399.3h0M532.3 371.2h0M509.0 362.2h0M507.0 375.1h0M474.6 374.1h0M515.6 397.1h0M506.1 377.6h0M516.2 358.8h0M491.9 380.1h0M535.4 376.1h0M533.7 390.6h0M491.7 394.6h0M500.8 360.9h0M509.6 392.2h0M516.3 358.4h0M483.3 361.1h0M527.3 396.5h0M536.2 364.7h0M491.2 399.5h0M483.4 359.9h0M504.3 364.1h0M517.1 400.7h0M537.4 368.2h0M502.4 382.4h0M535.7 393.5h0M482.5 382.4h0M485.6 382.2h0M534.5 360.5h0M535.6 376.9h0M473.7 360.8h0M507.6 374.7h0M520.4 382.7h0M522.0 392.2h0M512.4 367.6h0M498.4 374.6h0M497.8 399.8h0M486.4 391.0h0M501.3 382.4h0M499.8 390.6h0M482.3 400.4h0M538.3 356.7h0M499.1 367.2h0M480.5 370.1h0M517.6 375.1h0M519.2 372.7h0M530.8 392.4h0M497.6 385.7h0M534.0 379.4h0M532.3 362.3h0M529.7 387.2h0M503.3 367.6h0M534.9 397.5h0M529.3 370.5h0M523.6 398.5h0M484.4 381.1h0M505.7 396.6h0M493.1 386.6h0M534.3 360.7h0M474.1 367.1h0M521.2 359.1h0M498.7 368.2h0M531.0 379.5h0M520.9 390.5h0M473.7 363.8h0M479.8 392.5h0M478.1 389.0h0M506.4 339.8h0M496.4 350.4h0M528.2 335.5h0M525.0 354.0h0M495.7 353.7h0M525.9 348.5h0M525.7 344.6h0M523.6 350.2h0M481.7 353.2h0M523.1 343.3h0M519.6 328.5h0M514.3 331.3h0M498.7 332.2h0M528.8 336.7h0M511.5 347.4h0M493.5 344.5h0M521.7 334.2h0M480.1 338.7h0M506.6 351.9h0M494.6 348.5h0M509.6 335.5h0M528.5 336.0h0M485.3 347.1h0M533.6 336.7h0M527.1 354.2h0M476.1 344.9h0M480.1 355.0h0M480.6 354.9h0M524.1 328.1h0M519.2 349.2h0M532.3 338.8h0M520.1 334.5h0M530.9 351.3h0M503.9 340.3h0M503.5 330.9h0M509.6 340.8h0M489.0 332.1h0M485.7 334.8h0M506.7 346.4h0M538.2 347.1h0M496.6 329.4h0M523.8 343.4h0M511.4 329.6h0M535.2 351.8h0M512.5 349.4h0M482.5 350.5h0M530.1 334.7h0M492.3 346.5h0M517.4 353.0h0M479.7 329.3h0M498.9 334.6h0M516.8 341.1h0M502.5 354.6h0M498.6 347.7h0M506.2 343.0h0M497.1 341.2h0M535.8 345.0h0M519.4 333.2h0M532.2 354.1h0M527.8 345.2h0M536.2 337.1h0M534.2 348.1h0M522.7 354.1h0M481.8 341.6h0M527.6 334.4h0M519.8 337.5h0M529.8 335.2h0M534.0 355.6h0M474.3 334.1h0M513.9 337.8h0M481.2 340.4h0M479.4 333.2h0M506.8 353.7h0M475.7 344.1h0M486.3 335.7h0M508.3 331.8h0M522.6 345.3h0M485.8 355.8h0M513.3 340.8h0M513.6 338.6h0M474.9 348.3h0M498.1 328.6h0M478.7 342.7h0M485.3 342.0h0M483.7 331.4h0M479.5 349.3h0M489.1 353.8h0M492.2 347.2h0M517.8 333.0h0M502.9 336.4h0M511.6 334.5h0M523.3 344.6h0M481.6 352.1h0M487.0 345.5h0M482.9 343.8h0M476.9 352.5h0M505.8 341.5h0M535.3 338.1h0M524.4 348.2h0M533.0 337.1h0M478.4 352.0h0M524.0 337.6h0M477.5 355.2h0M525.2 339.8h0M482.1 350.6h0M490.4 335.5h0M516.9 330.1h0M489.2 346.6h0M492.6 351.5h0M476.0 340.5h0M530.3 355.4h0M480.9 337.6h0M513.9 353.7h0M513.0 336.6h0M517.1 333.7h0M481.6 343.2h0M518.0 339.2h0M515.2 334.5h0M504.7 333.9h0M494.6 354.3h0M537.6 348.9h0M491.2 335.5h0M495.2 342.9h0M480.2 335.7h0M485.2 340.7h0M495.7 340.3h0M491.2 339.9h0M497.3 348.2h0M481.4 336.3h0M515.0 336.6h0M520.0 334.3h0M475.5 336.8h0M506.2 348.5h0M530.1 339.3h0M477.6 347.6h0M487.0 343.9h0M509.4 335.0h0M482.1 347.9h0M490.3 329.2h0M496.3 333.3h0M517.1 335.2h0M516.8 351.3h0M486.8 338.2h0M524.0 350.3h0M507.7 355.0h0M498.5 344.4h0M531.6 351.0h0M483.4 335.0h0M483.1 336.1h0M519.6 335.5h0M483.7 329.1h0M484.5 353.5h0M501.6 340.0h0M480.4 344.4h0M513.3 355.4h0M513.7 352.3h0M480.4 328.3h0M479.2 328.9h0M489.4 354.5h0M479.4 349.1h0M537.9 352.1h0M517.9 355.3h0M516.6 354.0h0M529.8 356.3h0M520.2 355.1h0M514.1 333.1h0M483.7 341.9h0M517.7 334.4h0M522.8 355.8h0M484.2 347.1h0M479.1 352.4h0M483.9 350.9h0M517.5 332.9h0M502.6 334.0h0M509.0 338.8h0M523.4 334.5h0M533.6 338.0h0M518.9 350.7h0M503.9 353.9h0M510.0 329.6h0M488.3 334.5h0M510.9 337.4h0M521.8 340.1h0M526.9 340.8h0M513.5 329.1h0M535.7 346.3h0M511.4 329.7h0M530.7 341.2h0M480.9 341.3h0M518.6 332.7h0M507.5 346.4h0M488.1 339.6h0M487.7 334.4h0M523.6 345.4h0M504.3 337.2h0M483.1 351.1h0M535.6 348.6h0M493.5 338.8h0M499.8 351.6h0M489.7 337.5h0M504.9 336.7h0M492.3 340.1h0M532.2 355.4h0M534.1 351.2h0M524.9 341.6h0M504.2 343.9h0M509.4 352.7h0M517.8 334.8h0M520.2 351.4h0M502.7 336.7h0M508.9 348.5h0M510.8 352.9h0M514.0 327.9h0M485.1 346.9h0M531.7 341.2h0M498.1 337.6h0M512.7 340.3h0M520.8 328.2h0M501.7 345.2h0M490.7 348.4h0M509.9 337.1h0M478.6 345.0h0M493.0 347.9h0M505.2 340.9h0M530.8 337.5h0M500.1 340.2h0M524.6 338.5h0M493.1 341.0h0M512.5 353.2h0M528.3 344.3h0M531.0 354.8h0M531.0 328.7h0M528.9 334.0h0M487.6 352.8h0M510.0 342.2h0M482.5 343.9h0M531.7 341.8h0M504.7 332.0h0M484.5 341.4h0M528.9 331.6h0M503.2 349.5h0M525.1 349.3h0M484.7 341.3h0M515.1 346.7h0M506.0 351.0h0M513.8 335.9h0M507.2 355.6h0M503.1 345.6h0M491.2 344.7h0M488.8 331.3h0M527.0 343.1h0M520.5 343.8h0M488.6 339.3h0M501.4 350.2h0M513.7 330.7h0M487.3 349.0h0M518.9 328.7h0M518.8 338.0h0M518.5 352.0h0M490.6 337.4h0M518.0 334.8h0M483.2 344.1h0M480.4 337.7h0M510.6 334.0h0M489.6 328.2h0M494.8 351.8h0M475.5 340.7h0M490.2 350.0h0M519.7 335.3h0M508.0 339.1h0M534.8 338.1h0M504.9 334.3h0M529.8 356.2h0M495.1 347.5h0M491.8 329.3h0M475.2 332.7h0M504.8 353.1h0M516.8 350.7h0M483.8 349.5h0M480.3 356.0h0M481.5 354.4h0M521.2 345.1h0M523.6 347.1h0M512.0 331.5h0M492.4 339.9h0M484.6 341.4h0M502.1 337.9h0M513.8 340.0h0M526.5 336.5h0M493.0 333.8h0M515.3 328.4h0M520.7 351.1h0M513.4 352.5h0M511.6 328.0h0M536.7 355.5h0M475.2 352.8h0M510.8 328.7h0M476.8 341.9h0M480.5 349.3h0M499.9 352.6h0M486.7 343.5h0M527.1 344.1h0M533.4 346.2h0M534.8 354.3h0M489.5 346.1h0M501.9 343.9h0M537.0 331.4h0M528.5 336.4h0M487.6 328.3h0M477.7 339.1h0M519.8 332.9h0M509.5 333.1h0M527.1 347.5h0M503.7 338.3h0M497.9 333.0h0M483.1 336.0h0M528.6 354.4h0M524.2 344.2h0M533.8 354.7h0M519.2 336.1h0M504.4 329.3h0M535.8 328.2h0M489.0 332.4h0M537.8 334.1h0M474.7 332.1h0M493.6 342.5h0M510.9 339.4h0M489.6 340.1h0M499.9 345.1h0M536.1 346.1h0M489.3 328.6h0M482.0 332.4h0M520.2 354.7h0M518.2 351.2h0M486.8 329.8h0M497.4 345.4h0M491.5 333.8h0M529.2 343.4h0M523.8 344.9h0M477.5 347.3h0M486.7 354.6h0M537.1 333.1h0M488.3 348.8h0M531.8 350.3h0M498.1 328.6h0M491.5 341.2h0M534.8 329.8h0M485.6 343.6h0M522.6 351.0h0M507.8 333.9h0M507.7 348.0h0M482.3 331.7h0M489.9 346.1h0M482.6 347.3h0M505.3 345.2h0M522.1 341.7h0M514.0 342.1h0M525.9 344.5h0M495.4 338.5h0M534.4 351.5h0M489.9 328.7h0M492.4 345.8h0M519.0 338.5h0M517.1 330.1h0M492.8 346.5h0M483.9 353.4h0M533.3 355.7h0M532.4 328.5h0M523.3 349.0h0M519.5 336.4h0M525.8 334.1h0M534.2 354.0h0M533.8 354.0h0M504.9 336.5h0M505.1 344.2h0M528.8 346.6h0M535.8 354.0h0M475.2 332.1h0M475.4 341.9h0M536.5 342.9h0M501.0 331.1h0M533.5 333.2h0M523.9 343.9h0M534.4 346.4h0M485.4 347.6h0M516.8 341.0h0M481.9 348.1h0M526.5 348.4h0M487.0 353.5h0M478.5 346.3h0M522.4 332.6h0M519.5 353.5h0M524.2 334.6h0M491.3 337.1h0M512.1 329.8h0M487.4 353.4h0M489.2 335.0h0M506.9 348.7h0M508.6 338.1h0M497.4 335.3h0M499.1 354.9h0M533.0 350.2h0M484.2 352.4h0M513.6 352.5h0M538.5 338.7h0M509.8 349.4h0M485.5 338.5h0M486.6 353.9h0M493.9 353.3h0M504.8 350.4h0M504.5 328.2h0M517.1 331.4h0M474.5 351.2h0M508.1 345.2h0M473.5 339.7h0M538.1 348.5h0M500.6 346.4h0M516.0 341.7h0M502.0 337.9h0M537.4 343.1h0M523.0 351.8h0M495.8 342.0h0M488.2 331.5h0M482.9 347.5h0M501.2 348.6h0M528.0 352.4h0M477.7 340.1h0M496.3 351.4h0M520.5 330.3h0M498.4 334.2h0M513.5 336.5h0M521.9 351.0h0M504.7 351.3h0M510.9 330.1h0M478.5 355.1h0M485.0 347.9h0M482.7 334.3h0M476.1 344.3h0M537.6 334.5h0M504.3 347.4h0M506.2 330.4h0M511.7 348.6h0M526.6 347.7h0M533.0 353.3h0M501.6 355.5h0M480.9 347.3h0M503.0 355.2h0M521.5 333.6h0M534.5 327.9h0M481.1 345.5h0M499.4 334.3h0M517.6 337.5h0M492.4 354.2h0M518.5 354.4h0M519.8 340.1h0M520.8 354.0h0M492.9 335.4h0M511.5 331.9h0M473.6 328.8h0M508.8 352.7h0M492.1 337.9h0M514.2 332.4h0M481.7 337.6h0M513.5 352.1h0M538.4 348.3h0M484.3 350.3h0M506.9 335.4h0M485.0 334.8h0M513.3 346.3h0M526.2 346.9h0M491.5 329.5h0M490.4 329.0h0M529.5 332.8h0M510.2 344.9h0M496.9 338.5h0M512.3 354.4h0M499.7 334.5h0M512.8 347.1h0M501.7 353.4h0M534.3 340.8h0M481.7 344.4h0M492.3 353.3h0M491.1 352.8h0M518.5 331.2h0M494.4 342.3h0M493.1 349.8h0M522.7 349.6h0M501.4 337.6h0M503.7 335.4h0M474.3 354.6h0M514.9 354.7h0M537.3 346.0h0M507.2 343.9h0M536.4 346.7h0M531.0 332.1h0M533.1 354.2h0M489.2 342.9h0M505.6 335.5h0M536.8 356.3h0M500.8 339.3h0M473.7 340.9h0M496.5 351.0h0M501.1 339.0h0M480.7 350.1h0M503.2 331.7h0M493.0 335.0h0M518.9 348.7h0M490.1 335.0h0M532.5 331.9h0M497.1 353.1h0M527.9 336.4h0M497.9 343.3h0M505.7 330.8h0M479.1 333.9h0M508.5 331.7h0M481.6 352.3h0M534.5 346.4h0M490.1 334.6h0M512.2 336.6h0M525.2 350.8h0M501.4 322.7h0M519.4 326.4h0M536.3 324.0h0M485.5 321.2h0M505.3 322.0h0M506.3 326.4h0M493.6 323.5h0M520.3 317.4h0M506.5 324.4h0M511.4 317.6h0M497.0 312.9h0M519.4 317.2h0M502.8 316.3h0M488.1 312.3h0M504.7 314.1h0M505.4 321.3h0M519.3 324.8h0M526.6 313.7h0M497.5 323.5h0M490.2 321.4h0M536.0 323.1h0M525.4 320.5h0M517.3 314.9h0M522.1 320.2h0M482.2 313.4h0M486.7 318.9h0M510.8 320.6h0M479.9 316.4h0M534.9 326.1h0M498.5 313.8h0M476.2 316.6h0M509.1 312.5h0M494.0 324.5h0M502.9 326.9h0M507.5 322.5h0M517.3 327.4h0M537.4 319.2h0M482.1 326.0h0M503.5 320.2h0M479.1 327.4h0M507.7 317.9h0M476.6 319.5h0M477.0 317.3h0M521.6 316.7h0M519.9 313.7h0M500.5 314.8h0M481.7 313.2h0M488.5 321.0h0M531.0 316.5h0M509.0 321.9h0M502.0 315.8h0M530.3 327.5h0M511.5 319.3h0M536.3 323.2h0M474.5 324.4h0M524.5 314.5h0M506.8 320.1h0M515.6 325.9h0M479.6 324.3h0M476.2 315.4h0M499.2 311.9h0M518.7 319.2h0M482.9 314.2h0M491.9 314.2h0M533.2 313.1h0M474.9 311.9h0M527.9 318.8h0M496.0 324.3h0M534.1 322.6h0M482.4 314.3h0M499.7 318.9h0M494.7 320.2h0M535.6 319.8h0M501.5 314.8h0M481.7 324.9h0M487.2 317.3h0M525.7 325.3h0M509.6 320.1h0M485.7 314.3h0M508.2 315.9h0M523.4 317.2h0M517.3 325.0h0M488.4 318.5h0M536.9 316.6h0M485.6 313.8h0M492.5 327.4h0M523.7 325.1h0M491.8 326.7h0M516.1 323.6h0M485.2 322.7h0M476.5 320.9h0M509.7 319.1h0M474.7 323.0h0M486.9 325.8h0M534.0 319.7h0M514.9 312.3h0M508.1 323.1h0M517.7 326.8h0M510.7 317.5h0M518.0 326.7h0M498.5 322.1h0M529.6 322.7h0M483.1 312.0h0M515.8 321.4h0M475.1 327.2h0M498.2 323.7h0M477.5 321.0h0M496.1 311.9h0M500.6 312.8h0M490.8 314.9h0M522.3 316.4h0M516.3 318.3h0M511.1 323.8h0M474.0 313.2h0M485.4 323.4h0M497.7 323.5h0M486.9 316.2h0M520.4 320.0h0M487.0 326.8h0M510.8 320.6h0M495.3 316.5h0M516.5 327.7h0M529.2 317.9h0M504.8 315.3h0M500.4 327.1h0M505.4 313.1h0M495.9 320.0h0M526.3 325.0h0M483.5 327.1h0M493.2 327.4h0M490.2 312.1h0M521.1 321.9h0M485.7 315.7h0M524.0 313.1h0M530.2 323.1h0M495.1 322.1h0M536.3 322.0h0M489.1 321.7h0M514.1 312.4h0M493.8 317.0h0M486.9 317.7h0M517.3 315.7h0M516.3 316.0h0M526.2 319.3h0M532.4 323.4h0M485.9 324.2h0M477.8 322.0h0M476.4 319.9h0M486.5 321.5h0M491.4 324.1h0M513.6 285.2h0M488.8 285.5h0M514.4 310.7h0M514.9 305.9h0M486.3 299.8h0M511.0 296.3h0M506.3 288.0h0M521.7 310.3h0M477.5 305.7h0M494.1 301.7h0M531.2 296.8h0M478.8 290.0h0M488.5 303.4h0M516.5 306.0h0M473.9 309.1h0M476.1 292.3h0M493.2 286.9h0M521.3 295.0h0M521.4 264.0h0M528.1 268.7h0M487.3 259.4h0M513.7 260.0h0M474.7 267.4h0M478.1 262.8h0M477.8 263.9h0M488.6 262.5h0M528.6 259.3h0M491.5 257.4h0M486.0 259.2h0M486.2 260.1h0M477.8 261.2h0M533.0 263.7h0M480.2 265.9h0M498.3 259.6h0M522.8 258.0h0M503.4 262.4h0M512.6 262.5h0M515.3 257.1h0M474.0 263.1h0M509.0 263.6h0M479.1 264.3h0M503.7 268.1h0M494.6 260.5h0M532.5 266.5h0M527.6 263.7h0M518.6 258.7h0M538.1 268.0h0M535.5 263.0h0M518.3 265.7h0M534.4 258.5h0M533.5 265.9h0M512.1 258.3h0M502.7 268.4h0M480.1 262.2h0M527.6 257.7h0M523.9 260.1h0M513.3 257.0h0M538.0 266.9h0M496.6 266.7h0M528.6 264.3h0M518.5 260.8h0M507.2 257.3h0M524.3 260.4h0M478.5 259.1h0M536.7 261.7h0M529.7 257.3h0M489.7 266.9h0M522.1 265.1h0M488.5 254.8h0M522.6 254.0h0M482.5 252.0h0M508.7 251.9h0M482.1 247.8h0M527.1 252.3h0M475.9 255.9h0M534.5 252.4h0" stroke="#000" stroke-width="1.40" stroke-linecap="round" fill="none"/>
<path d="M506.0 254.7h0M506.0 262.5h0M506.0 253.4h0M506.0 263.3h0M506.0 259.4h0M506.0 260.5h0M506.0 260.9h0M506.0 252.4h0M506.0 256.9h0M506.0 260.0h0M506.0 251.1h0M506.0 249.8h0M506.0 265.8h0M506.0 251.7h0M506.0 256.3h0M506.0 262.8h0M506.0 250.0h0M506.0 248.7h0M506.0 255.9h0M506.0 261.8h0M506.0 265.4h0M506.0 257.0h0" stroke="#000" stroke-width="1.60" stroke-linecap="round" fill="none"/>
<polyline fill="none" stroke="#111" stroke-width="1.4" points="423.6,241 423.6,234.8 505.6,234.8 505.6,241"/>
<text x="445.0" y="232.4" font-size="7.0" text-anchor="start" fill="#666">p = 2.26 x 10<tspan dy="-2.8" font-size="4">−16</tspan></text>
<rect x="515.6" y="225" width="4" height="4" fill="#F8766D"/>
<rect x="515.6" y="236.4" width="4" height="4" fill="#00BFC4"/>
<text x="522.3" y="230.8" font-size="9.3" text-anchor="start" fill="#222" stroke="#222" stroke-width="0.05">TS</text>
<text x="522.3" y="242.2" font-size="9.3" text-anchor="start" fill="#222" stroke="#222" stroke-width="0.05">WT</text>
<text x="14.4" y="438.0" font-size="17.2" text-anchor="start" fill="#000" font-weight="bold">F</text>
<polygon fill="#80E7F7" points="36.9,609.8 36.90,504.29 37.47,502.72 38.05,501.30 38.62,500.04 39.19,498.96 39.76,498.04 40.34,497.30 40.91,496.73 41.48,496.34 42.06,496.12 42.63,496.08 43.20,496.21 43.78,496.51 44.35,496.97 44.92,497.59 45.49,498.36 46.07,499.27 46.64,500.32 47.21,501.50 47.79,502.80 48.36,504.21 48.93,505.72 49.50,507.32 50.08,509.00 50.65,510.75 51.22,512.55 51.80,514.41 52.37,516.30 52.94,518.22 53.52,520.16 54.09,522.11 54.66,524.06 55.23,525.99 55.81,527.91 56.38,529.81 56.95,531.67 57.53,533.49 58.10,535.27 58.67,537.00 59.24,538.68 59.82,540.29 60.39,541.84 60.96,543.33 61.54,544.75 62.11,546.10 62.68,547.38 63.25,548.59 63.83,549.73 64.40,550.79 64.97,551.78 65.55,552.70 66.12,553.55 66.69,554.33 67.27,555.03 67.84,555.67 68.41,556.25 68.98,556.75 69.56,557.20 70.13,557.58 70.70,557.90 71.28,558.17 71.85,558.37 72.42,558.52 72.99,558.62 73.57,558.66 74.14,558.65 74.71,558.60 75.29,558.49 75.86,558.34 76.43,558.14 77.01,557.90 77.58,557.62 78.15,557.29 78.72,556.93 79.30,556.53 79.87,556.09 80.44,555.63 81.02,555.12 81.59,554.59 82.16,554.03 82.73,553.45 83.31,552.84 83.88,552.21 84.45,551.56 85.03,550.90 85.60,550.21 86.17,549.52 86.75,548.82 87.32,548.11 87.89,547.40 88.46,546.68 89.04,545.97 89.61,545.26 90.18,544.55 90.76,543.86 91.33,543.17 91.90,542.50 92.47,541.84 93.05,541.20 93.62,540.57 94.19,539.97 94.77,539.39 95.34,538.84 95.91,538.31 96.48,537.80 97.06,537.33 97.63,536.88 98.20,536.46 98.78,536.07 99.35,535.72 99.92,535.39 100.50,535.10 101.07,534.84 101.64,534.61 102.21,534.42 102.79,534.25 103.36,534.12 103.93,534.02 104.51,533.94 105.08,533.90 105.65,533.89 106.22,533.91 106.80,533.96 107.37,534.04 107.94,534.15 108.52,534.28 109.09,534.44 109.66,534.62 110.24,534.83 110.81,535.07 111.38,535.32 111.95,535.61 112.53,535.91 113.10,536.23 113.67,536.58 114.25,536.95 114.82,537.33 115.39,537.74 115.96,538.16 116.54,538.60 117.11,539.06 117.68,539.54 118.26,540.03 118.83,540.54 119.40,541.06 119.98,541.60 120.55,542.15 121.12,542.71 121.69,543.29 122.27,543.87 122.84,544.47 123.41,545.09 123.99,545.71 124.56,546.34 125.13,546.98 125.70,547.64 126.28,548.30 126.85,548.97 127.42,549.64 128.00,550.33 128.57,551.02 129.14,551.72 129.72,552.42 130.29,553.14 130.86,553.85 131.43,554.57 132.01,555.30 132.58,556.03 133.15,556.76 133.73,557.50 134.30,558.23 134.87,558.98 135.44,559.72 136.02,560.46 136.59,561.21 137.16,561.95 137.74,562.70 138.31,563.45 138.88,564.19 139.45,564.94 140.03,565.69 140.60,566.43 141.17,567.17 141.75,567.91 142.32,568.64 142.89,569.38 143.47,570.11 144.04,570.84 144.61,571.56 145.18,572.28 145.76,572.99 146.33,573.71 146.90,574.41 147.48,575.11 148.05,575.81 148.62,576.50 149.19,577.18 149.77,577.86 150.34,578.53 150.91,579.20 151.49,579.85 152.06,580.51 152.63,581.15 153.21,581.79 153.78,582.42 154.35,583.04 154.92,583.66 155.50,584.26 156.07,584.86 156.64,585.46 157.22,586.04 157.79,586.61 158.36,587.18 158.93,587.74 159.51,588.29 160.08,588.83 160.65,589.37 161.23,589.89 161.80,590.41 162.37,590.91 162.95,591.41 163.52,591.90 164.09,592.39 164.66,592.86 165.24,593.32 165.81,593.78 166.38,594.22 166.96,594.66 167.53,595.09 168.10,595.51 168.67,595.93 169.25,596.33 169.82,596.72 170.39,597.11 170.97,597.49 171.54,597.86 172.11,598.22 172.68,598.57 173.26,598.92 173.83,599.26 174.40,599.59 174.98,599.91 175.55,600.22 176.12,600.53 176.70,600.83 177.27,601.12 177.84,601.40 178.41,601.68 178.99,601.95 179.56,602.21 180.13,602.47 180.71,602.71 181.28,602.95 181.85,603.19 182.42,603.42 183.00,603.64 183.57,603.85 184.14,604.06 184.72,604.26 185.29,604.45 185.86,604.64 186.44,604.83 187.01,605.00 187.58,605.17 188.15,605.34 188.73,605.49 189.30,605.65 189.87,605.79 190.45,605.93 191.02,606.07 191.59,606.19 192.16,606.32 192.74,606.43 193.31,606.54 193.88,606.65 194.46,606.74 195.03,606.83 195.60,606.92 196.18,607.00 196.75,607.07 197.32,607.13 197.89,607.18 198.47,607.23 199.04,607.27 199.61,607.31 200.19,607.33 200.76,607.34 201.33,607.35 201.90,607.35 202.48,607.33 203.05,607.31 203.62,607.27 204.20,607.23 204.77,607.17 205.34,607.10 205.92,607.01 206.49,606.92 207.06,606.80 207.63,606.68 208.21,606.53 208.78,606.38 209.35,606.20 209.93,606.01 210.50,605.80 211.07,605.56 211.64,605.31 212.22,605.04 212.79,604.75 213.36,604.44 213.94,604.10 214.51,603.75 215.08,603.36 215.65,602.96 216.23,602.53 216.80,602.08 217.37,601.60 217.95,601.09 218.52,600.56 219.09,600.00 219.67,599.42 220.24,598.82 220.81,598.18 221.38,597.53 221.96,596.84 222.53,596.14 223.10,595.41 223.68,594.65 224.25,593.88 224.82,593.08 225.39,592.26 225.97,591.43 226.54,590.58 227.11,589.71 227.69,588.83 228.26,587.93 228.83,587.03 229.41,586.11 229.98,585.19 230.55,584.27 231.12,583.34 231.70,582.42 232.27,581.50 232.84,580.58 233.42,579.68 233.99,578.78 234.56,577.90 235.13,577.03 235.71,576.19 236.28,575.36 236.85,574.56 237.43,573.79 238.00,573.05 238.57,572.34 239.15,571.67 239.72,571.04 240.29,570.44 240.86,569.89 241.44,569.38 242.01,568.92 242.58,568.51 243.16,568.14 243.73,567.83 244.30,567.57 244.87,567.36 245.45,567.21 246.02,567.11 246.59,567.07 247.17,567.08 247.74,567.15 248.31,567.27 248.88,567.44 249.46,567.67 250.03,567.96 250.60,568.29 251.18,568.68 251.75,569.11 252.32,569.60 252.90,570.13 253.47,570.70 254.04,571.31 254.61,571.96 255.19,572.65 255.76,573.38 256.33,574.14 256.91,574.92 257.48,575.74 258.05,576.57 258.62,577.43 259.20,578.31 259.77,579.20 260.34,580.11 260.92,581.03 261.49,581.95 262.06,582.88 262.64,583.81 263.21,584.75 263.78,585.68 264.35,586.60 264.93,587.52 265.50,588.43 265.5,609.8"/>
<polygon fill="#FD766E" points="36.9,609.8 36.90,593.20 37.47,592.14 38.05,591.06 38.62,589.94 39.19,588.80 39.76,587.64 40.34,586.45 40.91,585.25 41.48,584.03 42.06,582.81 42.63,581.58 43.20,580.35 43.78,579.12 44.35,577.91 44.92,576.71 45.49,575.52 46.07,574.36 46.64,573.23 47.21,572.13 47.79,571.07 48.36,570.06 48.93,569.09 49.50,568.17 50.08,567.32 50.65,566.52 51.22,565.78 51.80,565.12 52.37,564.52 52.94,563.99 53.52,563.54 54.09,563.17 54.66,562.87 55.23,562.64 55.81,562.50 56.38,562.43 56.95,562.44 57.53,562.52 58.10,562.67 58.67,562.89 59.24,563.18 59.82,563.53 60.39,563.94 60.96,564.41 61.54,564.92 62.11,565.49 62.68,566.09 63.25,566.73 63.83,567.40 64.40,568.09 64.97,568.80 65.55,569.53 66.12,570.26 66.69,571.00 67.27,571.73 67.84,572.45 68.41,573.16 68.98,573.85 69.56,574.52 70.13,575.16 70.70,575.76 71.28,576.33 71.85,576.85 72.42,577.33 72.99,577.77 73.57,578.15 74.14,578.48 74.71,578.75 75.29,578.97 75.86,579.13 76.43,579.22 77.01,579.26 77.58,579.23 78.15,579.14 78.72,578.99 79.30,578.78 79.87,578.50 80.44,578.16 81.02,577.76 81.59,577.30 82.16,576.78 82.73,576.20 83.31,575.56 83.88,574.87 84.45,574.12 85.03,573.32 85.60,572.47 86.17,571.56 86.75,570.61 87.32,569.61 87.89,568.56 88.46,567.47 89.04,566.33 89.61,565.16 90.18,563.94 90.76,562.69 91.33,561.40 91.90,560.07 92.47,558.71 93.05,557.31 93.62,555.89 94.19,554.43 94.77,552.94 95.34,551.43 95.91,549.89 96.48,548.32 97.06,546.72 97.63,545.11 98.20,543.46 98.78,541.80 99.35,540.12 99.92,538.41 100.50,536.69 101.07,534.94 101.64,533.18 102.21,531.40 102.79,529.61 103.36,527.80 103.93,525.97 104.51,524.13 105.08,522.28 105.65,520.42 106.22,518.55 106.80,516.66 107.37,514.77 107.94,512.87 108.52,510.96 109.09,509.05 109.66,507.14 110.24,505.22 110.81,503.30 111.38,501.38 111.95,499.46 112.53,497.55 113.10,495.64 113.67,493.74 114.25,491.84 114.82,489.96 115.39,488.09 115.96,486.24 116.54,484.40 117.11,482.58 117.68,480.78 118.26,479.01 118.83,477.26 119.40,475.54 119.98,473.86 120.55,472.21 121.12,470.60 121.69,469.03 122.27,467.50 122.84,466.03 123.41,464.60 123.99,463.22 124.56,461.90 125.13,460.64 125.70,459.45 126.28,458.32 126.85,457.26 127.42,456.27 128.00,455.35 128.57,454.52 129.14,453.76 129.72,453.09 130.29,452.51 130.86,452.01 131.43,451.60 132.01,451.29 132.58,451.08 133.15,450.96 133.73,450.94 134.30,451.02 134.87,451.20 135.44,451.49 136.02,451.88 136.59,452.37 137.16,452.97 137.74,453.67 138.31,454.48 138.88,455.39 139.45,456.41 140.03,457.53 140.60,458.74 141.17,460.06 141.75,461.48 142.32,462.99 142.89,464.59 143.47,466.29 144.04,468.07 144.61,469.94 145.18,471.89 145.76,473.92 146.33,476.02 146.90,478.19 147.48,480.44 148.05,482.74 148.62,485.10 149.19,487.52 149.77,489.98 150.34,492.49 150.91,495.04 151.49,497.63 152.06,500.25 152.63,502.89 153.21,505.56 153.78,508.24 154.35,510.94 154.92,513.64 155.50,516.35 156.07,519.05 156.64,521.75 157.22,524.44 157.79,527.12 158.36,529.78 158.93,532.41 159.51,535.03 160.08,537.61 160.65,540.16 161.23,542.68 161.80,545.16 162.37,547.59 162.95,549.99 163.52,552.34 164.09,554.64 164.66,556.89 165.24,559.10 165.81,561.24 166.38,563.34 166.96,565.38 167.53,567.36 168.10,569.29 168.67,571.16 169.25,572.97 169.82,574.73 170.39,576.43 170.97,578.07 171.54,579.65 172.11,581.17 172.68,582.64 173.26,584.05 173.83,585.41 174.40,586.71 174.98,587.95 175.55,589.15 176.12,590.29 176.70,591.39 177.27,592.43 177.84,593.43 178.41,594.37 178.99,595.28 179.56,596.14 180.13,596.95 180.71,597.73 181.28,598.47 181.85,599.17 182.42,599.83 183.00,600.45 183.57,601.04 184.14,601.60 184.72,602.13 185.29,602.63 185.86,603.10 186.44,603.54 187.01,603.95 187.58,604.35 188.15,604.71 188.73,605.06 189.30,605.38 189.87,605.69 190.45,605.97 191.02,606.24 191.59,606.49 192.16,606.72 192.74,606.94 193.31,607.14 193.88,607.33 194.46,607.51 195.03,607.68 195.60,607.83 196.18,607.98 196.75,608.11 197.32,608.23 197.89,608.35 198.47,608.46 199.04,608.56 199.61,608.65 200.19,608.74 200.76,608.82 201.33,608.89 201.90,608.96 202.48,609.02 203.05,609.08 203.62,609.13 204.20,609.18 204.77,609.22 205.34,609.26 205.92,609.30 206.49,609.33 207.06,609.35 207.63,609.38 208.21,609.39 208.78,609.40 209.35,609.41 209.93,609.41 210.50,609.41 211.07,609.39 211.64,609.37 212.22,609.35 212.79,609.31 213.36,609.26 213.94,609.20 214.51,609.13 215.08,609.04 215.65,608.94 216.23,608.82 216.80,608.68 217.37,608.51 217.95,608.33 218.52,608.12 219.09,607.88 219.67,607.61 220.24,607.30 220.81,606.97 221.38,606.59 221.96,606.18 222.53,605.72 223.10,605.23 223.68,604.69 224.25,604.10 224.82,603.47 225.39,602.79 225.97,602.07 226.54,601.30 227.11,600.49 227.69,599.64 228.26,598.75 228.83,597.82 229.41,596.87 229.98,595.88 230.55,594.88 231.12,593.86 231.70,592.83 232.27,591.80 232.84,590.77 233.42,589.76 233.99,588.77 234.56,587.81 235.13,586.90 235.71,586.02 236.28,585.21 236.85,584.46 237.43,583.77 238.00,583.17 238.57,582.65 239.15,582.22 239.72,581.89 240.29,581.65 240.86,581.51 241.44,581.48 242.01,581.54 242.58,581.71 243.16,581.98 243.73,582.34 244.30,582.80 244.87,583.34 245.45,583.97 246.02,584.68 246.59,585.45 247.17,586.28 247.74,587.17 248.31,588.10 248.88,589.07 249.46,590.07 250.03,591.08 250.60,592.11 251.18,593.14 251.75,594.17 252.32,595.19 252.90,596.19 253.47,597.17 254.04,598.12 254.61,599.03 255.19,599.92 255.76,600.76 256.33,601.56 256.91,602.31 257.48,603.02 258.05,603.69 258.62,604.31 259.20,604.89 259.77,605.42 260.34,605.90 260.92,606.35 261.49,606.76 262.06,607.12 262.64,607.45 263.21,607.75 263.78,608.02 264.35,608.26 264.93,608.47 265.50,608.65 265.5,609.8"/>
<polygon fill="#AB9AA3" points="36.9,609.8 36.90,593.20 37.47,592.14 38.05,591.06 38.62,589.94 39.19,588.80 39.76,587.64 40.34,586.45 40.91,585.25 41.48,584.03 42.06,582.81 42.63,581.58 43.20,580.35 43.78,579.12 44.35,577.91 44.92,576.71 45.49,575.52 46.07,574.36 46.64,573.23 47.21,572.13 47.79,571.07 48.36,570.06 48.93,569.09 49.50,568.17 50.08,567.32 50.65,566.52 51.22,565.78 51.80,565.12 52.37,564.52 52.94,563.99 53.52,563.54 54.09,563.17 54.66,562.87 55.23,562.64 55.81,562.50 56.38,562.43 56.95,562.44 57.53,562.52 58.10,562.67 58.67,562.89 59.24,563.18 59.82,563.53 60.39,563.94 60.96,564.41 61.54,564.92 62.11,565.49 62.68,566.09 63.25,566.73 63.83,567.40 64.40,568.09 64.97,568.80 65.55,569.53 66.12,570.26 66.69,571.00 67.27,571.73 67.84,572.45 68.41,573.16 68.98,573.85 69.56,574.52 70.13,575.16 70.70,575.76 71.28,576.33 71.85,576.85 72.42,577.33 72.99,577.77 73.57,578.15 74.14,578.48 74.71,578.75 75.29,578.97 75.86,579.13 76.43,579.22 77.01,579.26 77.58,579.23 78.15,579.14 78.72,578.99 79.30,578.78 79.87,578.50 80.44,578.16 81.02,577.76 81.59,577.30 82.16,576.78 82.73,576.20 83.31,575.56 83.88,574.87 84.45,574.12 85.03,573.32 85.60,572.47 86.17,571.56 86.75,570.61 87.32,569.61 87.89,568.56 88.46,567.47 89.04,566.33 89.61,565.16 90.18,563.94 90.76,562.69 91.33,561.40 91.90,560.07 92.47,558.71 93.05,557.31 93.62,555.89 94.19,554.43 94.77,552.94 95.34,551.43 95.91,549.89 96.48,548.32 97.06,546.72 97.63,545.11 98.20,543.46 98.78,541.80 99.35,540.12 99.92,538.41 100.50,536.69 101.07,534.94 101.64,534.61 102.21,534.42 102.79,534.25 103.36,534.12 103.93,534.02 104.51,533.94 105.08,533.90 105.65,533.89 106.22,533.91 106.80,533.96 107.37,534.04 107.94,534.15 108.52,534.28 109.09,534.44 109.66,534.62 110.24,534.83 110.81,535.07 111.38,535.32 111.95,535.61 112.53,535.91 113.10,536.23 113.67,536.58 114.25,536.95 114.82,537.33 115.39,537.74 115.96,538.16 116.54,538.60 117.11,539.06 117.68,539.54 118.26,540.03 118.83,540.54 119.40,541.06 119.98,541.60 120.55,542.15 121.12,542.71 121.69,543.29 122.27,543.87 122.84,544.47 123.41,545.09 123.99,545.71 124.56,546.34 125.13,546.98 125.70,547.64 126.28,548.30 126.85,548.97 127.42,549.64 128.00,550.33 128.57,551.02 129.14,551.72 129.72,552.42 130.29,553.14 130.86,553.85 131.43,554.57 132.01,555.30 132.58,556.03 133.15,556.76 133.73,557.50 134.30,558.23 134.87,558.98 135.44,559.72 136.02,560.46 136.59,561.21 137.16,561.95 137.74,562.70 138.31,563.45 138.88,564.19 139.45,564.94 140.03,565.69 140.60,566.43 141.17,567.17 141.75,567.91 142.32,568.64 142.89,569.38 143.47,570.11 144.04,570.84 144.61,571.56 145.18,572.28 145.76,572.99 146.33,573.71 146.90,574.41 147.48,575.11 148.05,575.81 148.62,576.50 149.19,577.18 149.77,577.86 150.34,578.53 150.91,579.20 151.49,579.85 152.06,580.51 152.63,581.15 153.21,581.79 153.78,582.42 154.35,583.04 154.92,583.66 155.50,584.26 156.07,584.86 156.64,585.46 157.22,586.04 157.79,586.61 158.36,587.18 158.93,587.74 159.51,588.29 160.08,588.83 160.65,589.37 161.23,589.89 161.80,590.41 162.37,590.91 162.95,591.41 163.52,591.90 164.09,592.39 164.66,592.86 165.24,593.32 165.81,593.78 166.38,594.22 166.96,594.66 167.53,595.09 168.10,595.51 168.67,595.93 169.25,596.33 169.82,596.72 170.39,597.11 170.97,597.49 171.54,597.86 172.11,598.22 172.68,598.57 173.26,598.92 173.83,599.26 174.40,599.59 174.98,599.91 175.55,600.22 176.12,600.53 176.70,600.83 177.27,601.12 177.84,601.40 178.41,601.68 178.99,601.95 179.56,602.21 180.13,602.47 180.71,602.71 181.28,602.95 181.85,603.19 182.42,603.42 183.00,603.64 183.57,603.85 184.14,604.06 184.72,604.26 185.29,604.45 185.86,604.64 186.44,604.83 187.01,605.00 187.58,605.17 188.15,605.34 188.73,605.49 189.30,605.65 189.87,605.79 190.45,605.97 191.02,606.24 191.59,606.49 192.16,606.72 192.74,606.94 193.31,607.14 193.88,607.33 194.46,607.51 195.03,607.68 195.60,607.83 196.18,607.98 196.75,608.11 197.32,608.23 197.89,608.35 198.47,608.46 199.04,608.56 199.61,608.65 200.19,608.74 200.76,608.82 201.33,608.89 201.90,608.96 202.48,609.02 203.05,609.08 203.62,609.13 204.20,609.18 204.77,609.22 205.34,609.26 205.92,609.30 206.49,609.33 207.06,609.35 207.63,609.38 208.21,609.39 208.78,609.40 209.35,609.41 209.93,609.41 210.50,609.41 211.07,609.39 211.64,609.37 212.22,609.35 212.79,609.31 213.36,609.26 213.94,609.20 214.51,609.13 215.08,609.04 215.65,608.94 216.23,608.82 216.80,608.68 217.37,608.51 217.95,608.33 218.52,608.12 219.09,607.88 219.67,607.61 220.24,607.30 220.81,606.97 221.38,606.59 221.96,606.18 222.53,605.72 223.10,605.23 223.68,604.69 224.25,604.10 224.82,603.47 225.39,602.79 225.97,602.07 226.54,601.30 227.11,600.49 227.69,599.64 228.26,598.75 228.83,597.82 229.41,596.87 229.98,595.88 230.55,594.88 231.12,593.86 231.70,592.83 232.27,591.80 232.84,590.77 233.42,589.76 233.99,588.77 234.56,587.81 235.13,586.90 235.71,586.02 236.28,585.21 236.85,584.46 237.43,583.77 238.00,583.17 238.57,582.65 239.15,582.22 239.72,581.89 240.29,581.65 240.86,581.51 241.44,581.48 242.01,581.54 242.58,581.71 243.16,581.98 243.73,582.34 244.30,582.80 244.87,583.34 245.45,583.97 246.02,584.68 246.59,585.45 247.17,586.28 247.74,587.17 248.31,588.10 248.88,589.07 249.46,590.07 250.03,591.08 250.60,592.11 251.18,593.14 251.75,594.17 252.32,595.19 252.90,596.19 253.47,597.17 254.04,598.12 254.61,599.03 255.19,599.92 255.76,600.76 256.33,601.56 256.91,602.31 257.48,603.02 258.05,603.69 258.62,604.31 259.20,604.89 259.77,605.42 260.34,605.90 260.92,606.35 261.49,606.76 262.06,607.12 262.64,607.45 263.21,607.75 263.78,608.02 264.35,608.26 264.93,608.47 265.50,608.65 265.5,609.8"/>
<polyline fill="none" stroke="#0d3b44" stroke-width="1.2" points="36.90,593.20 37.47,592.14 38.05,591.06 38.62,589.94 39.19,588.80 39.76,587.64 40.34,586.45 40.91,585.25 41.48,584.03 42.06,582.81 42.63,581.58 43.20,580.35 43.78,579.12 44.35,577.91 44.92,576.71 45.49,575.52 46.07,574.36 46.64,573.23 47.21,572.13 47.79,571.07 48.36,570.06 48.93,569.09 49.50,568.17 50.08,567.32 50.65,566.52 51.22,565.78 51.80,565.12 52.37,564.52 52.94,563.99 53.52,563.54 54.09,563.17 54.66,562.87 55.23,562.64 55.81,562.50 56.38,562.43 56.95,562.44 57.53,562.52 58.10,562.67 58.67,562.89 59.24,563.18 59.82,563.53 60.39,563.94 60.96,564.41 61.54,564.92 62.11,565.49 62.68,566.09 63.25,566.73 63.83,567.40 64.40,568.09 64.97,568.80 65.55,569.53 66.12,570.26 66.69,571.00 67.27,571.73 67.84,572.45 68.41,573.16 68.98,573.85 69.56,574.52 70.13,575.16 70.70,575.76 71.28,576.33 71.85,576.85 72.42,577.33 72.99,577.77 73.57,578.15 74.14,578.48 74.71,578.75 75.29,578.97 75.86,579.13 76.43,579.22 77.01,579.26 77.58,579.23 78.15,579.14 78.72,578.99 79.30,578.78 79.87,578.50 80.44,578.16 81.02,577.76 81.59,577.30 82.16,576.78 82.73,576.20 83.31,575.56 83.88,574.87 84.45,574.12 85.03,573.32 85.60,572.47 86.17,571.56 86.75,570.61 87.32,569.61 87.89,568.56 88.46,567.47 89.04,566.33 89.61,565.16 90.18,563.94 90.76,562.69 91.33,561.40 91.90,560.07 92.47,558.71 93.05,557.31 93.62,555.89 94.19,554.43 94.77,552.94 95.34,551.43 95.91,549.89 96.48,548.32 97.06,546.72 97.63,545.11 98.20,543.46 98.78,541.80 99.35,540.12 99.92,538.41 100.50,536.69 101.07,534.94 101.64,533.18 102.21,531.40 102.79,529.61 103.36,527.80 103.93,525.97 104.51,524.13 105.08,522.28 105.65,520.42 106.22,518.55 106.80,516.66 107.37,514.77 107.94,512.87 108.52,510.96 109.09,509.05 109.66,507.14 110.24,505.22 110.81,503.30 111.38,501.38 111.95,499.46 112.53,497.55 113.10,495.64 113.67,493.74 114.25,491.84 114.82,489.96 115.39,488.09 115.96,486.24 116.54,484.40 117.11,482.58 117.68,480.78 118.26,479.01 118.83,477.26 119.40,475.54 119.98,473.86 120.55,472.21 121.12,470.60 121.69,469.03 122.27,467.50 122.84,466.03 123.41,464.60 123.99,463.22 124.56,461.90 125.13,460.64 125.70,459.45 126.28,458.32 126.85,457.26 127.42,456.27 128.00,455.35 128.57,454.52 129.14,453.76 129.72,453.09 130.29,452.51 130.86,452.01 131.43,451.60 132.01,451.29 132.58,451.08 133.15,450.96 133.73,450.94 134.30,451.02 134.87,451.20 135.44,451.49 136.02,451.88 136.59,452.37 137.16,452.97 137.74,453.67 138.31,454.48 138.88,455.39 139.45,456.41 140.03,457.53 140.60,458.74 141.17,460.06 141.75,461.48 142.32,462.99 142.89,464.59 143.47,466.29 144.04,468.07 144.61,469.94 145.18,471.89 145.76,473.92 146.33,476.02 146.90,478.19 147.48,480.44 148.05,482.74 148.62,485.10 149.19,487.52 149.77,489.98 150.34,492.49 150.91,495.04 151.49,497.63 152.06,500.25 152.63,502.89 153.21,505.56 153.78,508.24 154.35,510.94 154.92,513.64 155.50,516.35 156.07,519.05 156.64,521.75 157.22,524.44 157.79,527.12 158.36,529.78 158.93,532.41 159.51,535.03 160.08,537.61 160.65,540.16 161.23,542.68 161.80,545.16 162.37,547.59 162.95,549.99 163.52,552.34 164.09,554.64 164.66,556.89 165.24,559.10 165.81,561.24 166.38,563.34 166.96,565.38 167.53,567.36 168.10,569.29 168.67,571.16 169.25,572.97 169.82,574.73 170.39,576.43 170.97,578.07 171.54,579.65 172.11,581.17 172.68,582.64 173.26,584.05 173.83,585.41 174.40,586.71 174.98,587.95 175.55,589.15 176.12,590.29 176.70,591.39 177.27,592.43 177.84,593.43 178.41,594.37 178.99,595.28 179.56,596.14 180.13,596.95 180.71,597.73 181.28,598.47 181.85,599.17 182.42,599.83 183.00,600.45 183.57,601.04 184.14,601.60 184.72,602.13 185.29,602.63 185.86,603.10 186.44,603.54 187.01,603.95 187.58,604.35 188.15,604.71 188.73,605.06 189.30,605.38 189.87,605.69 190.45,605.97 191.02,606.24 191.59,606.49 192.16,606.72 192.74,606.94 193.31,607.14 193.88,607.33 194.46,607.51 195.03,607.68 195.60,607.83 196.18,607.98 196.75,608.11 197.32,608.23 197.89,608.35 198.47,608.46 199.04,608.56 199.61,608.65 200.19,608.74 200.76,608.82 201.33,608.89 201.90,608.96 202.48,609.02 203.05,609.08 203.62,609.13 204.20,609.18 204.77,609.22 205.34,609.26 205.92,609.30 206.49,609.33 207.06,609.35 207.63,609.38 208.21,609.39 208.78,609.40 209.35,609.41 209.93,609.41 210.50,609.41 211.07,609.39 211.64,609.37 212.22,609.35 212.79,609.31 213.36,609.26 213.94,609.20 214.51,609.13 215.08,609.04 215.65,608.94 216.23,608.82 216.80,608.68 217.37,608.51 217.95,608.33 218.52,608.12 219.09,607.88 219.67,607.61 220.24,607.30 220.81,606.97 221.38,606.59 221.96,606.18 222.53,605.72 223.10,605.23 223.68,604.69 224.25,604.10 224.82,603.47 225.39,602.79 225.97,602.07 226.54,601.30 227.11,600.49 227.69,599.64 228.26,598.75 228.83,597.82 229.41,596.87 229.98,595.88 230.55,594.88 231.12,593.86 231.70,592.83 232.27,591.80 232.84,590.77 233.42,589.76 233.99,588.77 234.56,587.81 235.13,586.90 235.71,586.02 236.28,585.21 236.85,584.46 237.43,583.77 238.00,583.17 238.57,582.65 239.15,582.22 239.72,581.89 240.29,581.65 240.86,581.51 241.44,581.48 242.01,581.54 242.58,581.71 243.16,581.98 243.73,582.34 244.30,582.80 244.87,583.34 245.45,583.97 246.02,584.68 246.59,585.45 247.17,586.28 247.74,587.17 248.31,588.10 248.88,589.07 249.46,590.07 250.03,591.08 250.60,592.11 251.18,593.14 251.75,594.17 252.32,595.19 252.90,596.19 253.47,597.17 254.04,598.12 254.61,599.03 255.19,599.92 255.76,600.76 256.33,601.56 256.91,602.31 257.48,603.02 258.05,603.69 258.62,604.31 259.20,604.89 259.77,605.42 260.34,605.90 260.92,606.35 261.49,606.76 262.06,607.12 262.64,607.45 263.21,607.75 263.78,608.02 264.35,608.26 264.93,608.47 265.50,608.65"/>
<polyline fill="none" stroke="#111" stroke-width="1.3" points="36.90,504.29 37.47,502.72 38.05,501.30 38.62,500.04 39.19,498.96 39.76,498.04 40.34,497.30 40.91,496.73 41.48,496.34 42.06,496.12 42.63,496.08 43.20,496.21 43.78,496.51 44.35,496.97 44.92,497.59 45.49,498.36 46.07,499.27 46.64,500.32 47.21,501.50 47.79,502.80 48.36,504.21 48.93,505.72 49.50,507.32 50.08,509.00 50.65,510.75 51.22,512.55 51.80,514.41 52.37,516.30 52.94,518.22 53.52,520.16 54.09,522.11 54.66,524.06 55.23,525.99 55.81,527.91 56.38,529.81 56.95,531.67 57.53,533.49 58.10,535.27 58.67,537.00 59.24,538.68 59.82,540.29 60.39,541.84 60.96,543.33 61.54,544.75 62.11,546.10 62.68,547.38 63.25,548.59 63.83,549.73 64.40,550.79 64.97,551.78 65.55,552.70 66.12,553.55 66.69,554.33 67.27,555.03 67.84,555.67 68.41,556.25 68.98,556.75 69.56,557.20 70.13,557.58 70.70,557.90 71.28,558.17 71.85,558.37 72.42,558.52 72.99,558.62 73.57,558.66 74.14,558.65 74.71,558.60 75.29,558.49 75.86,558.34 76.43,558.14 77.01,557.90 77.58,557.62 78.15,557.29 78.72,556.93 79.30,556.53 79.87,556.09 80.44,555.63 81.02,555.12 81.59,554.59 82.16,554.03 82.73,553.45 83.31,552.84 83.88,552.21 84.45,551.56 85.03,550.90 85.60,550.21 86.17,549.52 86.75,548.82 87.32,548.11 87.89,547.40 88.46,546.68 89.04,545.97 89.61,545.26 90.18,544.55 90.76,543.86 91.33,543.17 91.90,542.50 92.47,541.84 93.05,541.20 93.62,540.57 94.19,539.97 94.77,539.39 95.34,538.84 95.91,538.31 96.48,537.80 97.06,537.33 97.63,536.88 98.20,536.46 98.78,536.07 99.35,535.72 99.92,535.39 100.50,535.10 101.07,534.84 101.64,534.61 102.21,534.42 102.79,534.25 103.36,534.12 103.93,534.02 104.51,533.94 105.08,533.90 105.65,533.89 106.22,533.91 106.80,533.96 107.37,534.04 107.94,534.15 108.52,534.28 109.09,534.44 109.66,534.62 110.24,534.83 110.81,535.07 111.38,535.32 111.95,535.61 112.53,535.91 113.10,536.23 113.67,536.58 114.25,536.95 114.82,537.33 115.39,537.74 115.96,538.16 116.54,538.60 117.11,539.06 117.68,539.54 118.26,540.03 118.83,540.54 119.40,541.06 119.98,541.60 120.55,542.15 121.12,542.71 121.69,543.29 122.27,543.87 122.84,544.47 123.41,545.09 123.99,545.71 124.56,546.34 125.13,546.98 125.70,547.64 126.28,548.30 126.85,548.97 127.42,549.64 128.00,550.33 128.57,551.02 129.14,551.72 129.72,552.42 130.29,553.14 130.86,553.85 131.43,554.57 132.01,555.30 132.58,556.03 133.15,556.76 133.73,557.50 134.30,558.23 134.87,558.98 135.44,559.72 136.02,560.46 136.59,561.21 137.16,561.95 137.74,562.70 138.31,563.45 138.88,564.19 139.45,564.94 140.03,565.69 140.60,566.43 141.17,567.17 141.75,567.91 142.32,568.64 142.89,569.38 143.47,570.11 144.04,570.84 144.61,571.56 145.18,572.28 145.76,572.99 146.33,573.71 146.90,574.41 147.48,575.11 148.05,575.81 148.62,576.50 149.19,577.18 149.77,577.86 150.34,578.53 150.91,579.20 151.49,579.85 152.06,580.51 152.63,581.15 153.21,581.79 153.78,582.42 154.35,583.04 154.92,583.66 155.50,584.26 156.07,584.86 156.64,585.46 157.22,586.04 157.79,586.61 158.36,587.18 158.93,587.74 159.51,588.29 160.08,588.83 160.65,589.37 161.23,589.89 161.80,590.41 162.37,590.91 162.95,591.41 163.52,591.90 164.09,592.39 164.66,592.86 165.24,593.32 165.81,593.78 166.38,594.22 166.96,594.66 167.53,595.09 168.10,595.51 168.67,595.93 169.25,596.33 169.82,596.72 170.39,597.11 170.97,597.49 171.54,597.86 172.11,598.22 172.68,598.57 173.26,598.92 173.83,599.26 174.40,599.59 174.98,599.91 175.55,600.22 176.12,600.53 176.70,600.83 177.27,601.12 177.84,601.40 178.41,601.68 178.99,601.95 179.56,602.21 180.13,602.47 180.71,602.71 181.28,602.95 181.85,603.19 182.42,603.42 183.00,603.64 183.57,603.85 184.14,604.06 184.72,604.26 185.29,604.45 185.86,604.64 186.44,604.83 187.01,605.00 187.58,605.17 188.15,605.34 188.73,605.49 189.30,605.65 189.87,605.79 190.45,605.93 191.02,606.07 191.59,606.19 192.16,606.32 192.74,606.43 193.31,606.54 193.88,606.65 194.46,606.74 195.03,606.83 195.60,606.92 196.18,607.00 196.75,607.07 197.32,607.13 197.89,607.18 198.47,607.23 199.04,607.27 199.61,607.31 200.19,607.33 200.76,607.34 201.33,607.35 201.90,607.35 202.48,607.33 203.05,607.31 203.62,607.27 204.20,607.23 204.77,607.17 205.34,607.10 205.92,607.01 206.49,606.92 207.06,606.80 207.63,606.68 208.21,606.53 208.78,606.38 209.35,606.20 209.93,606.01 210.50,605.80 211.07,605.56 211.64,605.31 212.22,605.04 212.79,604.75 213.36,604.44 213.94,604.10 214.51,603.75 215.08,603.36 215.65,602.96 216.23,602.53 216.80,602.08 217.37,601.60 217.95,601.09 218.52,600.56 219.09,600.00 219.67,599.42 220.24,598.82 220.81,598.18 221.38,597.53 221.96,596.84 222.53,596.14 223.10,595.41 223.68,594.65 224.25,593.88 224.82,593.08 225.39,592.26 225.97,591.43 226.54,590.58 227.11,589.71 227.69,588.83 228.26,587.93 228.83,587.03 229.41,586.11 229.98,585.19 230.55,584.27 231.12,583.34 231.70,582.42 232.27,581.50 232.84,580.58 233.42,579.68 233.99,578.78 234.56,577.90 235.13,577.03 235.71,576.19 236.28,575.36 236.85,574.56 237.43,573.79 238.00,573.05 238.57,572.34 239.15,571.67 239.72,571.04 240.29,570.44 240.86,569.89 241.44,569.38 242.01,568.92 242.58,568.51 243.16,568.14 243.73,567.83 244.30,567.57 244.87,567.36 245.45,567.21 246.02,567.11 246.59,567.07 247.17,567.08 247.74,567.15 248.31,567.27 248.88,567.44 249.46,567.67 250.03,567.96 250.60,568.29 251.18,568.68 251.75,569.11 252.32,569.60 252.90,570.13 253.47,570.70 254.04,571.31 254.61,571.96 255.19,572.65 255.76,573.38 256.33,574.14 256.91,574.92 257.48,575.74 258.05,576.57 258.62,577.43 259.20,578.31 259.77,579.20 260.34,580.11 260.92,581.03 261.49,581.95 262.06,582.88 262.64,583.81 263.21,584.75 263.78,585.68 264.35,586.60 264.93,587.52 265.50,588.43"/>
<line x1="36.8" y1="436" x2="36.8" y2="611" stroke="#777" stroke-width="1.0"/>
<line x1="36.3" y1="610.6" x2="265.6" y2="610.6" stroke="#555" stroke-width="1.3"/>
<text x="34.0" y="611.3" font-size="10.0" text-anchor="end" fill="#555" stroke="#555" stroke-width="0.12">0.0</text>
<text x="34.0" y="566.8" font-size="10.0" text-anchor="end" fill="#555" stroke="#555" stroke-width="0.12">0.1</text>
<text x="34.0" y="522.0" font-size="10.0" text-anchor="end" fill="#555" stroke="#555" stroke-width="0.12">0.2</text>
<text x="34.0" y="476.5" font-size="10.0" text-anchor="end" fill="#555" stroke="#555" stroke-width="0.12">0.3</text>
<text x="46.4" y="621.8" font-size="10.0" text-anchor="middle" fill="#555" stroke="#555" stroke-width="0.12">0.0</text>
<text x="107.3" y="621.8" font-size="10.0" text-anchor="middle" fill="#555" stroke="#555" stroke-width="0.12">2.5</text>
<text x="173.1" y="621.8" font-size="10.0" text-anchor="middle" fill="#555" stroke="#555" stroke-width="0.12">5.0</text>
<text x="236.7" y="621.8" font-size="10.0" text-anchor="middle" fill="#555" stroke="#555" stroke-width="0.12">7.5</text>
<text x="143.8" y="631.5" font-size="10.5" text-anchor="middle" fill="#111" stroke="#111" stroke-width="0.25">Pseudotime</text>
<text x="16.2" y="526.3" font-size="10.5" text-anchor="middle" fill="#111" transform="rotate(-90 16.2 526.3)" stroke="#111" stroke-width="0.25">Density</text>
<rect x="236.4" y="443.2" width="4.2" height="4.1" fill="#FD766E"/>
<rect x="236.4" y="456.4" width="4.2" height="4.1" fill="#80E7F7"/>
<text x="243.0" y="448.7" font-size="10.0" text-anchor="start" fill="#222" stroke="#222" stroke-width="0.25">TS</text>
<text x="243.0" y="462.5" font-size="10.0" text-anchor="start" fill="#222" stroke="#222" stroke-width="0.25">WT</text>
<text x="308.4" y="446.6" font-size="17.8" text-anchor="start" fill="#000" font-weight="bold">G</text>
<defs><clipPath id="cb"><ellipse cx="385" cy="528.8" rx="83.7" ry="84.7"/></clipPath></defs>
<ellipse cx="385" cy="528.8" rx="83.7" ry="84.7" fill="#8083C9" stroke="#222" stroke-width="1"/>
<circle cx="481.9" cy="529.2" r="29.2" fill="#DD80CC" stroke="#222" stroke-width="1"/>
<circle cx="481.9" cy="529.2" r="29.2" fill="#A03DBE" clip-path="url(#cb)"/>
<ellipse cx="385" cy="528.8" rx="83.7" ry="84.7" fill="none" stroke="#222" stroke-width="1"/>
<circle cx="481.9" cy="529.2" r="29.2" fill="none" stroke="#222" stroke-width="1"/>
<text x="381.6" y="537.4" font-size="15.8" text-anchor="middle" fill="#111" stroke="#111" stroke-width="0.1">517</text>
<text x="461.0" y="537.8" font-size="15.8" text-anchor="middle" fill="#111" stroke="#111" stroke-width="0.1">10</text>
<text x="486.5" y="537.8" font-size="15.8" text-anchor="middle" fill="#111" stroke="#111" stroke-width="0.1">51</text>
<line x1="399.9" y1="490.4" x2="449.1" y2="458.5" stroke="#111" stroke-width="1.0"/>
<line x1="464.9" y1="540.9" x2="486.7" y2="580.4" stroke="#111" stroke-width="1.0"/>
<text x="454.3" y="457.4" font-size="10.3" text-anchor="start" fill="#111" stroke="#111" stroke-width="0.25">DEGs</text>
<text x="469.6" y="593.6" font-size="10.3" text-anchor="start" fill="#111" stroke="#111" stroke-width="0.25">DAM_genes</text>
</svg></body></html>
